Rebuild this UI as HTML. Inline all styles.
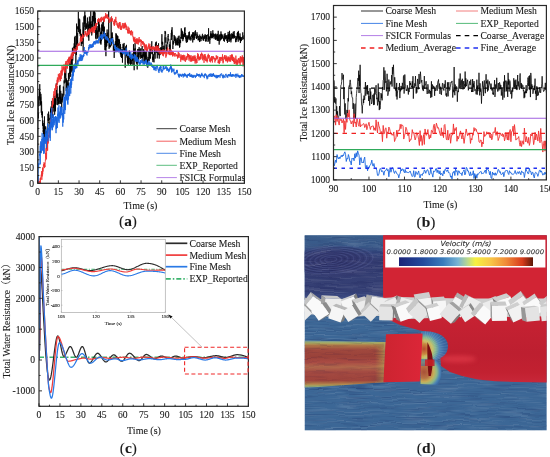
<!DOCTYPE html>
<html><head><meta charset="utf-8"><title>Figure</title><style>
html,body{margin:0;padding:0;background:#fff;}
svg{display:block;}
text{font-family:'Liberation Serif','Noto Serif CJK SC',serif;fill:#1a1a1a;stroke:#1a1a1a;stroke-width:0.1px;}
.tl{font-size:9.6px;}
.al{font-size:10px;}
.lg{font-size:10px;}
.pl{font-size:15.4px;}
.ti{font-size:5px;fill:#222;}
.vt{font-family:'DejaVu Sans','Liberation Sans',sans-serif;font-style:italic;font-size:7px;fill:#333;}
.vn{font-family:"DejaVu Sans","Liberation Sans",sans-serif;font-style:italic;font-size:6.3px;fill:#444;}
</style></head>
<body><svg width="550" height="457" viewBox="0 0 550 457">
<rect width="550" height="457" fill="#fff"/>
<defs><clipPath id="aclip"><rect x="37.7" y="11.05" width="206.7" height="172.25"/></clipPath><clipPath id="bclip"><rect x="333.5" y="5.5" width="212.9" height="174.4"/></clipPath></defs>
<g id="pa">
<g clip-path="url(#aclip)">
<polyline points="37.70,183.30 37.84,152.52 37.98,137.60 38.11,116.82 38.25,112.82 38.39,118.34 38.53,107.22 38.66,96.43 38.80,106.13 38.94,104.15 39.08,95.79 39.22,92.20 39.35,89.81 39.49,98.20 39.63,92.02 39.77,84.16 39.90,100.32 40.04,92.03 40.18,103.54 40.32,102.30 40.46,105.16 40.59,97.43 40.73,103.69 40.87,93.86 41.01,95.99 41.15,96.72 41.28,112.70 41.42,107.65 41.56,101.37 41.70,104.76 41.83,114.99 41.97,112.15 42.11,117.58 42.25,116.56 42.39,111.39 42.52,125.77 42.66,124.14 42.80,120.46 42.94,128.30 43.07,128.12 43.21,132.18 43.35,130.00 43.49,139.43 43.63,128.90 43.76,123.06 43.90,141.74 44.04,125.33 44.18,128.72 44.31,131.10 44.45,116.40 44.59,126.59 44.73,137.25 44.87,130.29 45.00,127.70 45.14,133.18 45.28,133.10 45.42,138.40 45.55,131.81 45.69,126.31 45.83,140.16 45.97,137.42 46.11,141.05 46.24,140.10 46.38,149.14 46.52,143.61 46.66,144.83 46.79,136.93 46.93,130.96 47.07,142.07 47.21,138.92 47.35,127.47 47.48,139.99 47.62,129.75 47.76,125.48 47.90,113.69 48.04,115.06 48.17,120.64 48.31,119.24 48.45,120.76 48.59,111.63 48.72,122.73 48.86,121.96 49.00,122.97 49.14,126.35 49.28,125.60 49.41,130.89 49.55,126.21 49.69,125.75 49.83,117.88 49.96,120.09 50.10,118.45 50.24,114.60 50.38,119.82 50.52,109.17 50.65,112.53 50.79,108.44 50.93,117.75 51.07,106.57 51.20,118.66 51.34,121.94 51.48,111.30 51.62,115.56 51.76,112.47 51.89,100.88 52.03,116.51 52.17,117.88 52.31,112.31 52.44,109.46 52.58,114.25 52.72,115.45 52.86,104.73 53.00,103.84 53.13,111.62 53.27,104.65 53.41,103.84 53.55,108.01 53.68,99.73 53.82,105.51 53.96,95.65 54.10,98.68 54.24,98.66 54.37,102.11 54.51,103.05 54.65,114.75 54.79,109.60 54.92,98.12 55.06,110.84 55.20,95.44 55.34,111.40 55.48,96.58 55.61,103.94 55.75,96.15 55.89,95.97 56.03,104.84 56.17,86.02 56.30,83.24 56.44,89.72 56.58,95.58 56.72,94.37 56.85,97.97 56.99,86.04 57.13,97.47 57.27,94.29 57.41,98.89 57.54,101.17 57.68,105.13 57.82,93.45 57.96,100.72 58.09,96.99 58.23,101.24 58.37,104.29 58.51,101.80 58.65,103.03 58.78,97.61 58.92,101.79 59.06,100.72 59.20,104.14 59.33,101.93 59.47,86.08 59.61,97.82 59.75,98.56 59.89,88.52 60.02,84.90 60.16,102.59 60.30,96.89 60.44,98.70 60.57,103.84 60.71,90.82 60.85,96.11 60.99,96.81 61.13,102.37 61.26,98.71 61.40,104.07 61.54,103.32 61.68,107.82 61.81,107.67 61.95,93.42 62.09,102.49 62.23,96.76 62.37,96.81 62.50,100.20 62.64,98.52 62.78,94.12 62.92,96.34 63.06,97.14 63.19,93.77 63.33,86.50 63.47,88.12 63.61,87.67 63.74,91.06 63.88,95.49 64.02,82.24 64.16,80.41 64.30,83.35 64.43,76.62 64.57,75.85 64.71,70.73 64.85,71.45 64.98,77.74 65.12,67.29 65.26,82.46 65.40,71.34 65.54,75.13 65.67,73.32 65.81,67.40 65.95,70.39 66.09,88.45 66.22,90.96 66.36,78.49 66.50,88.99 66.64,83.38 66.78,80.48 66.91,91.88 67.05,95.87 67.19,80.23 67.33,84.29 67.46,85.01 67.60,83.85 67.74,84.22 67.88,88.36 68.02,82.65 68.15,82.54 68.29,86.91 68.43,73.15 68.57,77.00 68.70,74.69 68.84,81.20 68.98,74.44 69.12,77.71 69.26,78.73 69.39,72.25 69.53,74.07 69.67,65.61 69.81,66.49 69.95,57.12 70.08,73.63 70.22,62.55 70.36,67.54 70.50,66.80 70.63,76.79 70.77,67.11 70.91,57.85 71.05,63.90 71.19,62.82 71.32,62.86 71.46,55.57 71.60,61.54 71.74,71.58 71.87,59.49 72.01,64.33 72.15,72.68 72.29,55.50 72.43,47.77 72.56,55.23 72.70,60.47 72.84,60.50 72.98,50.87 73.11,55.65 73.25,52.36 73.39,51.66 73.53,54.23 73.67,48.27 73.80,46.63 73.94,48.34 74.08,52.96 74.22,43.34 74.35,49.54 74.49,37.28 74.63,50.62 74.77,46.88 74.91,45.59 75.04,53.87 75.18,35.85 75.32,39.11 75.46,51.60 75.59,46.79 75.73,50.20 75.87,64.15 76.01,50.50 76.15,51.89 76.28,50.83 76.42,54.98 76.56,23.61 76.70,48.96 76.84,42.98 76.97,42.71 77.11,43.40 77.25,33.08 77.39,42.75 77.52,40.04 77.66,44.60 77.80,26.54 77.94,29.06 78.08,26.37 78.21,29.51 78.35,11.88 78.49,27.62 78.63,32.03 78.76,30.44 78.90,26.40 79.04,18.53 79.18,26.41 79.32,27.99 79.45,33.55 79.59,31.31 79.73,19.46 79.87,24.88 80.00,27.47 80.14,31.85 80.28,36.18 80.42,32.13 80.56,29.39 80.69,39.13 80.83,37.71 80.97,39.14 81.11,36.15 81.24,46.08 81.38,42.18 81.52,43.82 81.66,34.09 81.80,43.78 81.93,38.53 82.07,33.81 82.21,43.63 82.35,43.65 82.48,38.80 82.62,37.81 82.76,41.19 82.90,31.88 83.04,22.47 83.17,52.18 83.31,34.52 83.45,37.53 83.59,26.98 83.73,33.45 83.86,31.50 84.00,16.51 84.14,26.94 84.28,17.21 84.41,15.64 84.55,23.91 84.69,21.57 84.83,11.38 84.97,24.55 85.10,24.60 85.24,30.11 85.38,21.41 85.52,15.53 85.65,19.60 85.79,27.65 85.93,28.18 86.07,28.49 86.21,25.50 86.34,28.72 86.48,24.86 86.62,23.36 86.76,27.44 86.89,27.19 87.03,26.65 87.17,27.03 87.31,21.10 87.45,17.54 87.58,22.88 87.72,23.44 87.86,32.84 88.00,21.50 88.13,36.85 88.27,37.36 88.41,25.89 88.55,24.48 88.69,29.91 88.82,40.67 88.96,34.02 89.10,34.21 89.24,26.68 89.38,16.62 89.51,26.49 89.65,30.46 89.79,32.37 89.93,23.37 90.06,24.83 90.20,30.54 90.34,21.71 90.48,26.24 90.62,16.54 90.75,11.05 90.89,18.12 91.03,29.29 91.17,24.00 91.30,28.44 91.44,30.12 91.58,29.83 91.72,35.46 91.86,33.38 91.99,21.30 92.13,25.89 92.27,23.52 92.41,15.95 92.54,30.15 92.68,23.99 92.82,17.77 92.96,16.04 93.10,17.25 93.23,11.05 93.37,11.05 93.51,21.40 93.65,20.69 93.78,13.50 93.92,12.62 94.06,28.30 94.20,11.76 94.34,14.39 94.47,11.05 94.61,20.36 94.75,22.41 94.89,28.74 95.02,12.41 95.16,25.60 95.30,17.94 95.44,29.27 95.58,28.17 95.71,38.43 95.85,31.00 95.99,23.16 96.13,39.31 96.27,25.92 96.40,29.96 96.54,34.68 96.68,33.45 96.82,33.40 96.95,32.32 97.09,33.06 97.23,34.02 97.37,30.59 97.51,34.68 97.64,38.59 97.78,31.70 97.92,25.96 98.06,37.68 98.19,30.68 98.33,31.51 98.47,31.44 98.61,22.06 98.75,31.37 98.88,18.94 99.02,28.75 99.16,24.30 99.30,28.90 99.43,30.49 99.57,25.10 99.71,31.68 99.85,27.62 99.99,34.32 100.12,43.27 100.26,35.51 100.40,34.73 100.54,32.40 100.67,43.39 100.81,36.87 100.95,44.64 101.09,31.46 101.23,41.12 101.36,40.42 101.50,30.60 101.64,24.42 101.78,36.62 101.91,34.78 102.05,31.51 102.19,31.03 102.33,22.27 102.47,30.51 102.60,29.87 102.74,25.07 102.88,30.71 103.02,26.89 103.16,31.51 103.29,31.24 103.43,37.58 103.57,20.38 103.71,32.43 103.84,33.96 103.98,38.69 104.12,37.61 104.26,37.74 104.40,26.63 104.53,43.77 104.67,45.74 104.81,47.60 104.95,50.28 105.08,38.58 105.22,38.51 105.36,47.16 105.50,50.02 105.64,43.60 105.77,33.07 105.91,56.16 106.05,38.23 106.19,47.02 106.32,35.35 106.46,44.20 106.60,39.13 106.74,46.14 106.88,43.85 107.01,31.16 107.15,29.52 107.29,35.48 107.43,37.28 107.56,43.06 107.70,35.94 107.84,32.57 107.98,34.20 108.12,38.07 108.25,42.55 108.39,32.79 108.53,32.89 108.67,11.05 108.80,28.38 108.94,40.29 109.08,48.81 109.22,43.25 109.36,45.70 109.49,47.18 109.63,41.32 109.77,44.20 109.91,38.10 110.04,43.65 110.18,41.75 110.32,43.27 110.46,46.17 110.60,47.28 110.73,40.95 110.87,41.48 111.01,36.52 111.15,17.29 111.29,45.55 111.42,37.73 111.56,42.07 111.70,38.58 111.84,32.90 111.97,42.59 112.11,32.33 112.25,33.32 112.39,34.91 112.53,38.07 112.66,37.09 112.80,42.46 112.94,39.65 113.08,42.46 113.21,42.36 113.35,50.93 113.49,46.12 113.63,47.85 113.77,48.94 113.90,48.62 114.04,44.03 114.18,57.93 114.32,51.03 114.45,48.67 114.59,50.52 114.73,47.38 114.87,51.00 115.01,47.89 115.14,45.12 115.28,42.34 115.42,41.31 115.56,51.65 115.69,40.74 115.83,34.69 115.97,33.18 116.11,37.07 116.25,45.13 116.38,34.17 116.52,42.50 116.66,51.04 116.80,36.08 116.94,50.23 117.07,52.09 117.21,47.85 117.35,35.47 117.49,45.71 117.62,43.26 117.76,38.31 117.90,36.20 118.04,45.46 118.18,43.11 118.31,50.40 118.45,47.29 118.59,39.04 118.73,39.21 118.86,41.84 119.00,38.86 119.14,48.75 119.28,44.05 119.42,40.14 119.55,43.23 119.69,42.10 119.83,47.03 119.97,50.51 120.10,46.33 120.24,52.47 120.38,54.35 120.52,44.09 120.66,48.35 120.79,47.14 120.93,56.76 121.07,51.96 121.21,53.55 121.34,52.67 121.48,57.91 121.62,53.42 121.76,49.02 121.90,53.28 122.03,57.50 122.17,51.73 122.31,49.33 122.45,62.67 122.58,52.61 122.72,49.67 122.86,48.10 123.00,43.82 123.14,48.01 123.27,47.11 123.41,48.22 123.55,44.54 123.69,50.07 123.83,49.88 123.96,46.45 124.10,42.95 124.24,52.07 124.38,52.10 124.51,50.66 124.65,48.61 124.79,52.93 124.93,47.77 125.07,56.46 125.20,67.74 125.34,52.90 125.48,49.14 125.62,46.35 125.75,55.74 125.89,51.09 126.03,47.87 126.17,51.94 126.31,54.55 126.44,44.83 126.58,48.76 126.72,51.31 126.86,56.25 126.99,52.38 127.13,57.69 127.27,54.63 127.41,62.03 127.55,63.33 127.68,57.32 127.82,63.06 127.96,57.94 128.10,60.52 128.23,64.95 128.37,58.98 128.51,60.51 128.65,56.07 128.79,63.18 128.92,61.81 129.06,56.35 129.20,50.56 129.34,50.66 129.47,58.18 129.61,58.40 129.75,53.33 129.89,61.26 130.03,64.01 130.16,60.15 130.30,57.31 130.44,62.89 130.58,65.22 130.72,63.12 130.85,57.16 130.99,63.93 131.13,61.92 131.27,57.97 131.40,55.94 131.54,59.25 131.68,58.02 131.82,64.30 131.96,61.75 132.09,61.22 132.23,53.60 132.37,58.75 132.51,60.69 132.64,59.90 132.78,58.85 132.92,56.25 133.06,65.18 133.20,59.84 133.33,57.71 133.47,44.20 133.61,50.69 133.75,58.17 133.88,53.71 134.02,48.39 134.16,70.23 134.30,56.71 134.44,49.40 134.57,54.11 134.71,51.22 134.85,55.60 134.99,42.95 135.12,43.18 135.26,49.52 135.40,48.59 135.54,60.41 135.68,51.25 135.81,53.75 135.95,52.49 136.09,52.34 136.23,56.30 136.36,63.34 136.50,57.36 136.64,63.48 136.78,63.61 136.92,61.37 137.05,61.42 137.19,69.46 137.33,55.67 137.47,59.25 137.61,52.90 137.74,48.98 137.88,55.52 138.02,63.00 138.16,58.40 138.29,59.84 138.43,54.84 138.57,53.00 138.71,59.91 138.85,48.93 138.98,54.65 139.12,47.15 139.26,51.93 139.40,51.86 139.53,50.55 139.67,52.72 139.81,53.96 139.95,57.45 140.09,53.41 140.22,49.08 140.36,49.56 140.50,51.32 140.64,52.50 140.77,58.82 140.91,48.24 141.05,55.82 141.19,55.55 141.33,55.35 141.46,55.03 141.60,57.86 141.74,55.38 141.88,57.98 142.01,55.32 142.15,46.03 142.29,57.43 142.43,57.70 142.57,55.89 142.70,54.97 142.84,61.84 142.98,58.76 143.12,53.96 143.25,55.87 143.39,55.77 143.53,49.23 143.67,55.49 143.81,54.64 143.94,57.09 144.08,50.74 144.22,63.87 144.36,59.05 144.50,59.14 144.63,53.55 144.77,52.91 144.91,50.63 145.05,61.47 145.18,52.14 145.32,58.03 145.46,56.90 145.60,52.60 145.74,56.64 145.87,61.47 146.01,55.25 146.15,59.42 146.29,57.71 146.42,53.77 146.56,52.63 146.70,49.04 146.84,57.45 146.98,65.66 147.11,63.42 147.25,65.20 147.39,67.22 147.53,59.52 147.66,62.55 147.80,67.63 147.94,56.82 148.08,60.18 148.22,59.08 148.35,60.61 148.49,58.93 148.63,56.23 148.77,51.74 148.90,51.89 149.04,52.46 149.18,53.41 149.32,60.89 149.46,55.07 149.59,54.36 149.73,52.16 149.87,58.17 150.01,46.99 150.14,50.11 150.28,56.52 150.42,58.62 150.56,52.66 150.70,50.53 150.83,52.39 150.97,49.51 151.11,50.31 151.25,46.20 151.38,50.64 151.52,47.50 151.66,44.26 151.80,41.25 151.94,53.96 152.07,51.17 152.21,54.25 152.35,50.39 152.49,59.58 152.63,56.97 152.76,59.06 152.90,62.05 153.04,61.30 153.18,56.42 153.31,60.12 153.45,56.86 153.59,54.25 153.73,55.99 153.87,57.54 154.00,62.40 154.14,55.03 154.28,49.33 154.42,48.11 154.55,51.11 154.69,54.56 154.83,50.26 154.97,56.67 155.11,58.67 155.24,57.78 155.38,44.26 155.52,46.85 155.66,42.38 155.79,50.58 155.93,45.73 156.07,52.20 156.21,50.64 156.35,41.63 156.48,48.82 156.62,52.71 156.76,49.75 156.90,46.48 157.03,45.05 157.17,52.63 157.31,58.34 157.45,50.82 157.59,50.08 157.72,49.10 157.86,45.04 158.00,49.92 158.14,47.60 158.28,55.18 158.41,48.04 158.55,43.27 158.69,49.38 158.83,52.02 158.96,52.36 159.10,48.00 159.24,58.60 159.38,55.12 159.52,52.85 159.65,49.89 159.79,55.22 159.93,51.19 160.07,54.51 160.20,53.52 160.34,51.99 160.48,54.14 160.62,50.31 160.76,47.58 160.89,51.98 161.03,49.95 161.17,47.06 161.31,53.27 161.44,48.47 161.58,50.11 161.72,37.83 161.86,34.20 162.00,35.32 162.13,44.13 162.27,41.73 162.41,44.28 162.55,44.62 162.68,42.35 162.82,51.55 162.96,45.82 163.10,49.85 163.24,48.11 163.37,51.55 163.51,51.55 163.65,51.55 163.79,50.06 163.92,49.88 164.06,45.76 164.20,48.28 164.34,50.25 164.48,37.90 164.61,36.34 164.75,36.13 164.89,34.80 165.03,30.95 165.17,33.38 165.30,33.81 165.44,33.23 165.58,31.69 165.72,42.64 165.85,37.36 165.99,46.26 166.13,49.54 166.27,44.56 166.41,51.55 166.54,51.55 166.68,51.55 166.82,49.76 166.96,47.46 167.09,50.31 167.23,47.24 167.37,42.22 167.51,43.65 167.65,37.79 167.78,36.60 167.92,37.03 168.06,35.05 168.20,34.01 168.33,35.18 168.47,37.37 168.61,40.40 168.75,39.21 168.89,41.60 169.02,42.04 169.16,42.04 169.30,47.02 169.44,44.49 169.57,51.55 169.71,50.11 169.85,51.55 169.99,45.13 170.13,44.69 170.26,51.55 170.40,48.22 170.54,41.87 170.68,40.18 170.81,38.60 170.95,37.74 171.09,34.48 171.23,33.19 171.37,34.44 171.50,29.87 171.64,39.91 171.78,31.72 171.92,36.70 172.06,27.23 172.19,36.73 172.33,39.87 172.47,40.14 172.61,44.81 172.74,45.81 172.88,49.04 173.02,45.49 173.16,45.24 173.30,42.50 173.43,44.41 173.57,41.07 173.71,42.79 173.85,43.01 173.98,38.25 174.12,34.97 174.26,41.10 174.40,39.37 174.54,37.53 174.67,36.56 174.81,40.33 174.95,36.31 175.09,40.58 175.22,39.02 175.36,43.46 175.50,41.27 175.64,42.67 175.78,45.53 175.91,37.67 176.05,42.68 176.19,39.25 176.33,42.06 176.46,44.84 176.60,44.47 176.74,43.64 176.88,40.84 177.02,40.80 177.15,40.86 177.29,45.32 177.43,40.18 177.57,45.13 177.70,37.97 177.84,40.58 177.98,39.60 178.12,37.69 178.26,36.38 178.39,40.10 178.53,42.68 178.67,42.01 178.81,45.46 178.94,44.38 179.08,35.64 179.22,43.74 179.36,39.49 179.50,47.57 179.63,43.56 179.77,47.15 179.91,45.44 180.05,43.27 180.19,39.94 180.32,42.20 180.46,40.50 180.60,43.19 180.74,37.19 180.87,38.49 181.01,34.26 181.15,34.02 181.29,28.34 181.43,38.47 181.56,34.04 181.70,29.83 181.84,32.29 181.98,35.26 182.11,34.60 182.25,39.14 182.39,37.71 182.53,31.27 182.67,35.06 182.80,41.13 182.94,40.43 183.08,39.65 183.22,33.86 183.35,39.13 183.49,39.02 183.63,35.16 183.77,34.71 183.91,35.94 184.04,36.02 184.18,35.72 184.32,31.86 184.46,37.00 184.59,28.26 184.73,31.53 184.87,29.51 185.01,27.23 185.15,32.42 185.28,37.47 185.42,32.94 185.56,32.83 185.70,38.08 185.83,38.78 185.97,37.66 186.11,41.48 186.25,35.37 186.39,42.81 186.52,40.30 186.66,38.79 186.80,38.64 186.94,37.25 187.08,37.49 187.21,38.54 187.35,35.44 187.49,42.17 187.63,37.78 187.76,39.15 187.90,36.77 188.04,36.78 188.18,38.60 188.32,38.27 188.45,35.34 188.59,36.42 188.73,37.97 188.87,32.56 189.00,32.00 189.14,40.15 189.28,36.60 189.42,31.60 189.56,35.48 189.69,37.09 189.83,37.98 189.97,38.91 190.11,38.35 190.24,38.96 190.38,36.42 190.52,38.13 190.66,38.60 190.80,40.58 190.93,37.78 191.07,39.48 191.21,37.39 191.35,34.54 191.48,36.31 191.62,35.38 191.76,35.92 191.90,37.09 192.04,36.81 192.17,37.40 192.31,34.62 192.45,37.87 192.59,32.35 192.72,42.44 192.86,37.03 193.00,36.96 193.14,37.50 193.28,35.57 193.41,36.73 193.55,32.27 193.69,36.98 193.83,40.14 193.97,37.32 194.10,39.71 194.24,35.93 194.38,33.57 194.52,34.67 194.65,38.22 194.79,36.47 194.93,31.36 195.07,35.17 195.21,35.83 195.34,33.06 195.48,30.35 195.62,32.60 195.76,35.20 195.89,34.66 196.03,34.08 196.17,37.22 196.31,38.31 196.45,36.48 196.58,39.02 196.72,36.67 196.86,36.58 197.00,32.29 197.13,37.89 197.27,36.11 197.41,36.24 197.55,35.52 197.69,34.62 197.82,37.67 197.96,38.65 198.10,40.34 198.24,38.80 198.37,35.96 198.51,37.19 198.65,40.05 198.79,40.01 198.93,39.26 199.06,38.46 199.20,40.20 199.34,38.99 199.48,42.06 199.62,40.32 199.75,34.64 199.89,41.73 200.03,37.46 200.17,36.07 200.30,37.24 200.44,37.64 200.58,36.75 200.72,36.88 200.86,37.12 200.99,41.14 201.13,37.58 201.27,38.97 201.41,38.21 201.54,37.17 201.68,36.80 201.82,36.44 201.96,38.88 202.10,36.31 202.23,34.70 202.37,34.72 202.51,33.84 202.65,37.38 202.78,37.12 202.92,35.65 203.06,40.32 203.20,37.06 203.34,38.27 203.47,38.05 203.61,40.71 203.75,38.88 203.89,37.57 204.02,35.39 204.16,35.58 204.30,38.02 204.44,37.96 204.58,38.79 204.71,35.95 204.85,37.65 204.99,36.55 205.13,34.18 205.26,38.09 205.40,41.02 205.54,40.05 205.68,41.56 205.82,40.73 205.95,35.09 206.09,37.97 206.23,41.39 206.37,36.60 206.50,35.02 206.64,38.09 206.78,38.80 206.92,38.59 207.06,37.33 207.19,36.33 207.33,34.94 207.47,35.17 207.61,35.06 207.75,34.46 207.88,36.61 208.02,41.94 208.16,39.18 208.30,38.35 208.43,39.54 208.57,28.23 208.71,39.46 208.85,40.89 208.99,36.08 209.12,37.83 209.26,39.01 209.40,37.46 209.54,36.94 209.67,38.12 209.81,43.80 209.95,39.26 210.09,38.81 210.23,39.50 210.36,36.27 210.50,33.44 210.64,37.15 210.78,37.96 210.91,31.13 211.05,36.53 211.19,38.16 211.33,34.62 211.47,34.22 211.60,37.18 211.74,33.49 211.88,36.70 212.02,38.31 212.15,36.22 212.29,34.54 212.43,37.74 212.57,36.06 212.71,36.56 212.84,30.27 212.98,37.31 213.12,33.31 213.26,36.20 213.39,36.80 213.53,35.28 213.67,34.83 213.81,33.95 213.95,36.25 214.08,38.71 214.22,38.02 214.36,35.86 214.50,35.56 214.64,34.59 214.77,36.30 214.91,34.72 215.05,33.88 215.19,36.46 215.32,39.46 215.46,38.69 215.60,39.43 215.74,33.64 215.88,39.40 216.01,35.64 216.15,37.31 216.29,34.55 216.43,36.06 216.56,38.87 216.70,38.84 216.84,38.30 216.98,38.37 217.12,40.48 217.25,38.33 217.39,33.91 217.53,40.65 217.67,36.55 217.80,39.07 217.94,37.44 218.08,36.25 218.22,30.82 218.36,36.18 218.49,40.96 218.63,35.55 218.77,39.32 218.91,37.87 219.04,39.05 219.18,44.64 219.32,40.21 219.46,38.22 219.60,34.66 219.73,37.02 219.87,36.87 220.01,41.19 220.15,35.50 220.28,34.27 220.42,37.20 220.56,37.31 220.70,40.00 220.84,34.83 220.97,31.46 221.11,35.62 221.25,34.50 221.39,35.98 221.53,39.24 221.66,33.90 221.80,38.74 221.94,36.72 222.08,36.34 222.21,34.64 222.35,35.76 222.49,35.70 222.63,37.57 222.77,38.18 222.90,35.67 223.04,37.22 223.18,38.71 223.32,38.71 223.45,37.91 223.59,40.49 223.73,39.74 223.87,40.64 224.01,37.16 224.14,36.98 224.28,34.12 224.42,41.66 224.56,39.74 224.69,36.06 224.83,38.01 224.97,37.80 225.11,33.07 225.25,37.49 225.38,38.60 225.52,39.27 225.66,35.60 225.80,35.40 225.93,38.79 226.07,37.95 226.21,35.10 226.35,35.73 226.49,38.17 226.62,36.27 226.76,36.38 226.90,41.05 227.04,38.81 227.18,37.36 227.31,39.19 227.45,42.92 227.59,38.35 227.73,37.05 227.86,34.76 228.00,41.97 228.14,31.89 228.28,39.27 228.42,34.64 228.55,34.77 228.69,34.27 228.83,36.14 228.97,39.15 229.10,34.65 229.24,38.53 229.38,41.66 229.52,30.85 229.66,36.12 229.79,33.73 229.93,39.26 230.07,34.84 230.21,34.33 230.34,34.87 230.48,38.02 230.62,40.39 230.76,38.74 230.90,42.37 231.03,41.42 231.17,37.44 231.31,39.32 231.45,37.69 231.58,37.82 231.72,33.27 231.86,34.91 232.00,37.32 232.14,34.25 232.27,37.81 232.41,36.30 232.55,33.91 232.69,38.26 232.82,36.42 232.96,38.59 233.10,35.41 233.24,31.82 233.38,36.89 233.51,34.71 233.65,36.83 233.79,37.54 233.93,38.40 234.06,32.81 234.20,31.10 234.34,35.04 234.48,37.79 234.62,35.38 234.75,37.72 234.89,35.97 235.03,36.96 235.17,37.00 235.31,36.50 235.44,39.09 235.58,38.65 235.72,42.23 235.86,39.47 235.99,41.86 236.13,38.97 236.27,39.99 236.41,38.04 236.55,36.36 236.68,39.96 236.82,38.30 236.96,38.74 237.10,35.25 237.23,32.97 237.37,33.95 237.51,36.81 237.65,32.29 237.79,38.45 237.92,31.99 238.06,36.35 238.20,41.73 238.34,30.88 238.47,32.77 238.61,38.18 238.75,36.03 238.89,37.01 239.03,36.77 239.16,40.23 239.30,39.53 239.44,37.74 239.58,38.45 239.71,36.56 239.85,38.61 239.99,33.45 240.13,40.20 240.27,38.84 240.40,43.06 240.54,42.02 240.68,36.88 240.82,41.24 240.95,37.54 241.09,38.39 241.23,40.94 241.37,39.61 241.51,39.30 241.64,39.64 241.78,37.70 241.92,37.23 242.06,39.54 242.20,39.85 242.33,37.33 242.47,37.69 242.61,35.52 242.75,32.37 242.88,35.91 243.02,37.64 243.16,38.30 243.30,39.24 243.44,38.87 243.57,38.88 243.71,37.76 243.85,37.70 243.99,35.34 244.12,38.46 244.26,37.59 244.40,39.80" fill="none" stroke="#000" stroke-width="0.8"/>
<polyline points="37.70,183.30 37.84,183.30 37.98,183.30 38.11,183.02 38.25,181.78 38.39,183.30 38.53,182.21 38.66,182.29 38.80,181.29 38.94,182.01 39.08,181.48 39.22,182.70 39.35,181.42 39.49,182.16 39.63,182.33 39.77,181.69 39.90,181.10 40.04,182.38 40.18,178.35 40.32,181.43 40.46,183.30 40.59,177.69 40.73,179.62 40.87,176.88 41.01,176.51 41.15,175.46 41.28,174.63 41.42,176.20 41.56,174.92 41.70,171.05 41.83,179.80 41.97,173.32 42.11,172.81 42.25,175.26 42.39,176.33 42.52,167.55 42.66,174.23 42.80,168.19 42.94,171.56 43.07,171.01 43.21,169.29 43.35,166.71 43.49,164.32 43.63,165.60 43.76,165.74 43.90,166.76 44.04,162.28 44.18,162.98 44.31,168.12 44.45,165.07 44.59,163.09 44.73,166.36 44.87,165.73 45.00,167.10 45.14,164.53 45.28,162.07 45.42,159.58 45.55,160.32 45.69,152.95 45.83,158.55 45.97,148.51 46.11,154.32 46.24,153.44 46.38,154.75 46.52,159.39 46.66,151.20 46.79,149.15 46.93,142.21 47.07,150.79 47.21,140.47 47.35,146.12 47.48,142.74 47.62,150.48 47.76,141.52 47.90,142.46 48.04,137.73 48.17,140.40 48.31,143.46 48.45,135.11 48.59,135.78 48.72,136.47 48.86,133.10 49.00,131.38 49.14,134.10 49.28,137.05 49.41,137.11 49.55,128.29 49.69,130.27 49.83,130.40 49.96,131.39 50.10,129.99 50.24,129.19 50.38,128.20 50.52,128.97 50.65,118.89 50.79,123.27 50.93,125.87 51.07,127.03 51.20,123.48 51.34,116.94 51.48,114.92 51.62,116.30 51.76,113.39 51.89,113.21 52.03,113.78 52.17,105.24 52.31,106.71 52.44,98.32 52.58,106.27 52.72,102.11 52.86,98.09 53.00,101.80 53.13,104.54 53.27,99.97 53.41,96.27 53.55,94.23 53.68,96.05 53.82,91.29 53.96,92.02 54.10,94.22 54.24,94.15 54.37,95.21 54.51,90.73 54.65,88.35 54.79,91.23 54.92,91.92 55.06,94.73 55.20,98.20 55.34,95.54 55.48,89.78 55.61,89.05 55.75,84.60 55.89,89.32 56.03,85.62 56.17,85.41 56.30,86.55 56.44,89.91 56.58,87.22 56.72,85.40 56.85,87.80 56.99,82.48 57.13,79.80 57.27,84.89 57.41,77.43 57.54,83.43 57.68,82.31 57.82,81.67 57.96,82.34 58.09,79.45 58.23,79.69 58.37,73.88 58.51,76.59 58.65,77.31 58.78,79.61 58.92,81.72 59.06,77.71 59.20,79.64 59.33,75.16 59.47,77.70 59.61,73.23 59.75,76.17 59.89,77.04 60.02,79.19 60.16,78.55 60.30,76.29 60.44,75.76 60.57,81.16 60.71,76.26 60.85,70.64 60.99,78.65 61.13,78.04 61.26,78.01 61.40,78.77 61.54,70.30 61.68,73.43 61.81,72.86 61.95,68.01 62.09,65.92 62.23,75.46 62.37,70.37 62.50,70.87 62.64,69.82 62.78,69.35 62.92,71.34 63.06,67.17 63.19,69.86 63.33,69.42 63.47,66.69 63.61,67.71 63.74,69.29 63.88,69.57 64.02,64.35 64.16,66.93 64.30,69.52 64.43,72.23 64.57,69.66 64.71,71.29 64.85,67.73 64.98,67.18 65.12,73.21 65.26,66.39 65.40,63.04 65.54,64.02 65.67,67.45 65.81,61.22 65.95,66.97 66.09,68.49 66.22,67.85 66.36,65.14 66.50,61.38 66.64,60.83 66.78,63.66 66.91,67.91 67.05,66.35 67.19,66.12 67.33,64.02 67.46,68.64 67.60,62.49 67.74,59.53 67.88,61.74 68.02,59.54 68.15,64.08 68.29,65.85 68.43,63.29 68.57,58.24 68.70,57.71 68.84,63.05 68.98,57.74 69.12,61.50 69.26,56.64 69.39,60.17 69.53,63.14 69.67,59.34 69.81,62.69 69.95,63.30 70.08,63.89 70.22,59.72 70.36,60.71 70.50,59.68 70.63,60.27 70.77,55.68 70.91,59.03 71.05,59.32 71.19,54.60 71.32,53.67 71.46,55.95 71.60,58.74 71.74,57.28 71.87,54.25 72.01,55.42 72.15,52.56 72.29,58.97 72.43,53.78 72.56,55.99 72.70,52.15 72.84,53.69 72.98,51.01 73.11,53.92 73.25,55.74 73.39,53.91 73.53,52.91 73.67,53.99 73.80,48.86 73.94,48.19 74.08,49.86 74.22,52.50 74.35,51.25 74.49,52.60 74.63,49.17 74.77,50.87 74.91,50.42 75.04,52.00 75.18,53.31 75.32,51.18 75.46,51.49 75.59,49.09 75.73,50.52 75.87,50.97 76.01,50.12 76.15,47.03 76.28,50.67 76.42,50.66 76.56,49.06 76.70,49.25 76.84,49.38 76.97,46.48 77.11,44.74 77.25,49.92 77.39,46.88 77.52,47.42 77.66,46.09 77.80,45.43 77.94,45.60 78.08,43.40 78.21,45.47 78.35,45.35 78.49,44.86 78.63,45.42 78.76,45.86 78.90,43.66 79.04,44.82 79.18,44.39 79.32,44.10 79.45,45.34 79.59,44.42 79.73,44.29 79.87,42.08 80.00,42.32 80.14,42.07 80.28,38.83 80.42,37.97 80.56,41.31 80.69,35.54 80.83,39.03 80.97,40.35 81.11,38.65 81.24,40.25 81.38,41.38 81.52,36.80 81.66,41.50 81.80,40.46 81.93,39.20 82.07,41.22 82.21,39.47 82.35,38.91 82.48,33.64 82.62,38.09 82.76,36.77 82.90,35.71 83.04,36.42 83.17,38.26 83.31,35.80 83.45,35.46 83.59,35.10 83.73,34.88 83.86,35.14 84.00,35.17 84.14,35.89 84.28,36.69 84.41,34.98 84.55,34.54 84.69,34.67 84.83,33.86 84.97,35.44 85.10,32.20 85.24,31.14 85.38,34.25 85.52,32.51 85.65,33.78 85.79,30.98 85.93,32.90 86.07,32.94 86.21,34.25 86.34,34.38 86.48,36.59 86.62,33.96 86.76,35.81 86.89,33.57 87.03,34.16 87.17,32.89 87.31,34.35 87.45,32.11 87.58,35.54 87.72,33.24 87.86,32.59 88.00,31.35 88.13,31.90 88.27,30.21 88.41,34.85 88.55,31.53 88.69,34.02 88.82,29.52 88.96,34.39 89.10,33.11 89.24,33.61 89.38,28.48 89.51,33.33 89.65,31.09 89.79,31.31 89.93,33.44 90.06,30.92 90.20,29.58 90.34,31.64 90.48,29.47 90.62,31.33 90.75,30.99 90.89,31.68 91.03,30.48 91.17,28.08 91.30,30.37 91.44,30.68 91.58,31.27 91.72,31.62 91.86,27.35 91.99,31.41 92.13,31.88 92.27,30.04 92.41,30.46 92.54,26.91 92.68,33.24 92.82,29.36 92.96,28.65 93.10,31.81 93.23,31.44 93.37,29.62 93.51,27.81 93.65,30.47 93.78,31.23 93.92,26.95 94.06,26.11 94.20,29.29 94.34,33.01 94.47,26.30 94.61,28.70 94.75,25.93 94.89,27.65 95.02,28.16 95.16,27.80 95.30,25.07 95.44,23.97 95.58,29.90 95.71,28.57 95.85,23.20 95.99,25.53 96.13,27.53 96.27,24.68 96.40,24.54 96.54,23.64 96.68,23.65 96.82,24.01 96.95,23.85 97.09,23.37 97.23,24.41 97.37,22.22 97.51,22.13 97.64,19.40 97.78,20.35 97.92,21.60 98.06,20.03 98.19,20.57 98.33,19.15 98.47,19.93 98.61,17.97 98.75,18.11 98.88,20.78 99.02,21.68 99.16,19.77 99.30,20.12 99.43,21.34 99.57,23.00 99.71,23.13 99.85,19.52 99.99,19.60 100.12,19.05 100.26,21.75 100.40,18.40 100.54,19.96 100.67,18.09 100.81,17.59 100.95,19.69 101.09,19.19 101.23,21.56 101.36,20.25 101.50,21.42 101.64,17.20 101.78,17.82 101.91,16.78 102.05,17.27 102.19,19.65 102.33,18.57 102.47,20.01 102.60,18.38 102.74,18.63 102.88,20.48 103.02,19.23 103.16,18.99 103.29,19.48 103.43,18.05 103.57,16.73 103.71,20.29 103.84,18.96 103.98,21.75 104.12,18.47 104.26,18.88 104.40,21.49 104.53,17.80 104.67,16.53 104.81,18.72 104.95,18.03 105.08,17.98 105.22,15.80 105.36,18.26 105.50,16.87 105.64,13.03 105.77,16.09 105.91,15.26 106.05,16.02 106.19,17.77 106.32,15.86 106.46,15.14 106.60,17.71 106.74,16.05 106.88,14.09 107.01,14.60 107.15,18.65 107.29,17.71 107.43,17.88 107.56,14.66 107.70,15.72 107.84,15.78 107.98,18.96 108.12,19.13 108.25,17.01 108.39,17.47 108.53,19.37 108.67,17.97 108.80,17.67 108.94,18.80 109.08,21.15 109.22,23.00 109.36,19.85 109.49,18.84 109.63,19.38 109.77,20.54 109.91,21.50 110.04,19.32 110.18,20.34 110.32,20.49 110.46,21.95 110.60,20.84 110.73,19.40 110.87,20.82 111.01,21.76 111.15,19.98 111.29,18.09 111.42,18.84 111.56,16.21 111.70,18.62 111.84,19.13 111.97,20.80 112.11,20.01 112.25,18.06 112.39,20.35 112.53,19.28 112.66,19.32 112.80,21.11 112.94,21.52 113.08,22.06 113.21,21.35 113.35,22.35 113.49,22.50 113.63,22.90 113.77,24.52 113.90,23.30 114.04,23.80 114.18,21.58 114.32,26.01 114.45,23.61 114.59,19.51 114.73,23.10 114.87,24.77 115.01,21.93 115.14,19.69 115.28,21.63 115.42,19.87 115.56,21.31 115.69,22.42 115.83,16.84 115.97,22.01 116.11,22.14 116.25,22.29 116.38,20.99 116.52,21.39 116.66,21.37 116.80,22.42 116.94,25.37 117.07,22.74 117.21,24.36 117.35,24.02 117.49,26.39 117.62,25.37 117.76,26.43 117.90,25.79 118.04,27.88 118.18,25.75 118.31,25.64 118.45,27.95 118.59,26.44 118.73,26.70 118.86,22.82 119.00,28.72 119.14,24.99 119.28,26.58 119.42,24.34 119.55,22.04 119.69,24.98 119.83,24.00 119.97,25.99 120.10,22.17 120.24,24.72 120.38,24.97 120.52,29.76 120.66,29.13 120.79,26.05 120.93,28.10 121.07,28.64 121.21,28.07 121.34,30.02 121.48,26.97 121.62,27.49 121.76,26.11 121.90,27.40 122.03,25.48 122.17,26.21 122.31,23.29 122.45,23.42 122.58,23.41 122.72,23.48 122.86,23.65 123.00,28.44 123.14,23.04 123.27,25.25 123.41,25.13 123.55,26.51 123.69,28.32 123.83,28.45 123.96,26.57 124.10,24.89 124.24,27.53 124.38,28.31 124.51,24.29 124.65,27.54 124.79,22.90 124.93,25.44 125.07,27.12 125.20,23.75 125.34,22.76 125.48,27.22 125.62,23.97 125.75,27.14 125.89,24.63 126.03,28.14 126.17,29.86 126.31,26.86 126.44,26.87 126.58,25.75 126.72,26.20 126.86,27.73 126.99,29.25 127.13,29.83 127.27,29.17 127.41,30.98 127.55,30.62 127.68,33.37 127.82,29.93 127.96,30.65 128.10,26.63 128.23,29.13 128.37,31.09 128.51,30.30 128.65,33.12 128.79,32.01 128.92,33.79 129.06,27.76 129.20,29.11 129.34,32.59 129.47,31.42 129.61,30.39 129.75,30.96 129.89,31.43 130.03,33.55 130.16,33.37 130.30,32.07 130.44,30.87 130.58,34.13 130.72,35.25 130.85,31.57 130.99,34.70 131.13,31.02 131.27,31.99 131.40,31.63 131.54,30.31 131.68,32.11 131.82,32.17 131.96,35.31 132.09,35.54 132.23,33.49 132.37,32.33 132.51,33.09 132.64,31.53 132.78,36.36 132.92,37.01 133.06,36.56 133.20,38.49 133.33,39.04 133.47,40.41 133.61,36.92 133.75,40.52 133.88,38.37 134.02,41.54 134.16,38.67 134.30,42.08 134.44,38.25 134.57,42.36 134.71,40.32 134.85,36.91 134.99,39.90 135.12,39.28 135.26,40.97 135.40,43.44 135.54,39.69 135.68,39.58 135.81,41.77 135.95,39.30 136.09,41.68 136.23,42.38 136.36,40.94 136.50,43.29 136.64,38.36 136.78,43.66 136.92,40.00 137.05,39.57 137.19,44.07 137.33,43.08 137.47,39.46 137.61,41.20 137.74,39.55 137.88,38.33 138.02,40.44 138.16,41.42 138.29,44.55 138.43,40.04 138.57,41.45 138.71,39.23 138.85,39.58 138.98,42.81 139.12,37.06 139.26,38.68 139.40,39.30 139.53,41.96 139.67,40.85 139.81,41.00 139.95,40.67 140.09,41.81 140.22,39.37 140.36,40.24 140.50,39.98 140.64,41.53 140.77,39.71 140.91,41.17 141.05,46.31 141.19,43.15 141.33,41.81 141.46,39.95 141.60,41.67 141.74,42.25 141.88,42.91 142.01,41.07 142.15,43.00 142.29,42.71 142.43,43.24 142.57,41.00 142.70,42.34 142.84,44.54 142.98,41.85 143.12,44.46 143.25,43.45 143.39,42.85 143.53,41.72 143.67,42.29 143.81,45.10 143.94,45.26 144.08,47.17 144.22,43.19 144.36,45.31 144.50,43.91 144.63,46.98 144.77,50.15 144.91,44.21 145.05,47.34 145.18,48.08 145.32,47.27 145.46,45.78 145.60,46.44 145.74,49.94 145.87,45.22 146.01,48.28 146.15,48.25 146.29,44.39 146.42,45.37 146.56,48.45 146.70,51.27 146.84,48.18 146.98,47.82 147.11,49.35 147.25,51.31 147.39,50.02 147.53,50.71 147.66,48.08 147.80,47.19 147.94,46.61 148.08,49.28 148.22,46.88 148.35,45.51 148.49,46.89 148.63,46.82 148.77,43.46 148.90,45.96 149.04,45.18 149.18,47.68 149.32,46.57 149.46,49.19 149.59,46.37 149.73,45.37 149.87,43.82 150.01,45.70 150.14,46.83 150.28,48.07 150.42,48.48 150.56,47.63 150.70,46.56 150.83,49.18 150.97,46.74 151.11,50.23 151.25,51.31 151.38,50.08 151.52,51.99 151.66,51.45 151.80,47.15 151.94,49.05 152.07,48.57 152.21,46.67 152.35,46.44 152.49,49.17 152.63,46.82 152.76,48.18 152.90,49.12 153.04,48.06 153.18,50.17 153.31,49.08 153.45,47.52 153.59,46.33 153.73,48.60 153.87,49.14 154.00,47.79 154.14,47.51 154.28,47.95 154.42,46.97 154.55,49.41 154.69,49.23 154.83,48.72 154.97,50.18 155.11,50.74 155.24,47.21 155.38,50.17 155.52,51.05 155.66,48.00 155.79,45.87 155.93,48.67 156.07,47.06 156.21,50.65 156.35,50.89 156.48,50.60 156.62,48.85 156.76,45.33 156.90,50.83 157.03,46.25 157.17,50.61 157.31,49.94 157.45,47.82 157.59,49.04 157.72,49.08 157.86,51.85 158.00,48.25 158.14,51.10 158.28,45.79 158.41,51.20 158.55,49.98 158.69,52.26 158.83,51.08 158.96,52.23 159.10,48.52 159.24,49.61 159.38,48.92 159.52,51.21 159.65,51.23 159.79,49.09 159.93,52.59 160.07,54.33 160.20,50.51 160.34,53.42 160.48,53.30 160.62,50.80 160.76,53.31 160.89,50.89 161.03,53.90 161.17,50.17 161.31,50.83 161.44,53.30 161.58,53.34 161.72,54.10 161.86,52.47 162.00,50.60 162.13,54.21 162.27,50.13 162.41,54.65 162.55,54.32 162.68,55.65 162.82,49.60 162.96,52.51 163.10,52.71 163.24,53.81 163.37,50.52 163.51,56.26 163.65,52.94 163.79,49.46 163.92,54.29 164.06,52.90 164.20,51.46 164.34,53.64 164.48,52.21 164.61,50.27 164.75,51.73 164.89,52.04 165.03,53.38 165.17,52.72 165.30,52.49 165.44,50.55 165.58,51.61 165.72,53.78 165.85,57.69 165.99,52.51 166.13,52.37 166.27,55.85 166.41,56.25 166.54,54.49 166.68,51.47 166.82,54.09 166.96,53.06 167.09,51.12 167.23,48.88 167.37,51.04 167.51,50.72 167.65,51.20 167.78,47.46 167.92,48.25 168.06,51.98 168.20,54.44 168.33,52.51 168.47,51.09 168.61,53.81 168.75,51.38 168.89,52.72 169.02,52.02 169.16,52.37 169.30,53.03 169.44,55.10 169.57,54.74 169.71,49.20 169.85,54.53 169.99,53.45 170.13,50.05 170.26,52.89 170.40,54.18 170.54,55.16 170.68,52.62 170.81,51.26 170.95,49.62 171.09,52.34 171.23,50.54 171.37,54.07 171.50,52.79 171.64,54.86 171.78,53.66 171.92,51.60 172.06,50.99 172.19,55.15 172.33,51.24 172.47,54.15 172.61,56.35 172.74,54.48 172.88,56.21 173.02,54.14 173.16,53.49 173.30,53.65 173.43,51.89 173.57,53.71 173.71,53.00 173.85,55.41 173.98,53.33 174.12,54.92 174.26,54.05 174.40,53.71 174.54,53.54 174.67,56.38 174.81,56.58 174.95,54.94 175.09,53.89 175.22,54.15 175.36,53.31 175.50,53.03 175.64,54.28 175.78,54.96 175.91,56.29 176.05,56.30 176.19,55.55 176.33,54.85 176.46,54.71 176.60,55.05 176.74,56.16 176.88,54.64 177.02,55.52 177.15,54.66 177.29,54.79 177.43,56.62 177.57,58.58 177.70,55.52 177.84,55.60 177.98,56.72 178.12,56.77 178.26,51.92 178.39,57.04 178.53,55.57 178.67,55.24 178.81,57.82 178.94,54.84 179.08,52.83 179.22,53.56 179.36,54.63 179.50,54.78 179.63,55.64 179.77,54.50 179.91,57.26 180.05,57.86 180.19,57.84 180.32,56.52 180.46,57.15 180.60,57.40 180.74,61.73 180.87,56.48 181.01,54.44 181.15,55.99 181.29,58.33 181.43,59.52 181.56,57.30 181.70,59.25 181.84,55.81 181.98,57.43 182.11,55.50 182.25,55.06 182.39,60.19 182.53,55.65 182.67,57.36 182.80,58.81 182.94,57.87 183.08,57.42 183.22,55.19 183.35,59.88 183.49,55.78 183.63,54.79 183.77,57.30 183.91,56.55 184.04,58.45 184.18,60.88 184.32,58.61 184.46,59.09 184.59,58.37 184.73,55.17 184.87,58.97 185.01,59.33 185.15,57.38 185.28,61.99 185.42,61.70 185.56,60.33 185.70,60.81 185.83,58.92 185.97,60.11 186.11,56.47 186.25,56.64 186.39,57.76 186.52,59.44 186.66,57.48 186.80,56.48 186.94,59.78 187.08,56.74 187.21,56.15 187.35,56.67 187.49,53.43 187.63,53.92 187.76,57.48 187.90,55.93 188.04,56.73 188.18,54.03 188.32,57.02 188.45,54.28 188.59,55.52 188.73,54.72 188.87,57.28 189.00,60.57 189.14,54.91 189.28,59.10 189.42,56.22 189.56,57.95 189.69,57.92 189.83,55.27 189.97,57.78 190.11,55.91 190.24,61.55 190.38,57.60 190.52,59.25 190.66,59.08 190.80,58.89 190.93,57.75 191.07,55.23 191.21,61.81 191.35,58.69 191.48,60.88 191.62,57.71 191.76,61.02 191.90,58.98 192.04,59.78 192.17,57.78 192.31,56.34 192.45,59.28 192.59,57.99 192.72,61.16 192.86,57.61 193.00,56.60 193.14,59.27 193.28,55.70 193.41,60.98 193.55,60.56 193.69,60.07 193.83,58.47 193.97,57.79 194.10,57.49 194.24,58.08 194.38,56.35 194.52,59.04 194.65,61.04 194.79,60.91 194.93,55.22 195.07,63.46 195.21,59.11 195.34,56.81 195.48,58.56 195.62,61.60 195.76,60.56 195.89,59.00 196.03,59.13 196.17,63.43 196.31,59.82 196.45,60.51 196.58,58.80 196.72,58.55 196.86,61.44 197.00,62.99 197.13,59.90 197.27,56.04 197.41,57.52 197.55,58.32 197.69,53.15 197.82,58.88 197.96,55.11 198.10,57.80 198.24,56.95 198.37,56.29 198.51,54.29 198.65,59.15 198.79,58.37 198.93,60.58 199.06,57.03 199.20,58.66 199.34,57.19 199.48,60.00 199.62,59.39 199.75,56.64 199.89,58.26 200.03,56.80 200.17,56.50 200.30,57.70 200.44,59.45 200.58,54.47 200.72,55.97 200.86,53.89 200.99,59.16 201.13,58.27 201.27,58.07 201.41,55.63 201.54,52.63 201.68,53.43 201.82,54.99 201.96,54.67 202.10,53.69 202.23,55.77 202.37,54.18 202.51,55.47 202.65,60.27 202.78,56.89 202.92,54.46 203.06,58.19 203.20,57.55 203.34,59.01 203.47,58.77 203.61,55.54 203.75,57.59 203.89,59.07 204.02,62.87 204.16,57.46 204.30,59.82 204.44,59.92 204.58,54.49 204.71,54.41 204.85,59.30 204.99,54.01 205.13,55.03 205.26,57.82 205.40,55.98 205.54,60.68 205.68,60.23 205.82,61.02 205.95,60.73 206.09,56.59 206.23,61.22 206.37,61.02 206.50,61.13 206.64,59.54 206.78,61.03 206.92,58.15 207.06,61.34 207.19,62.46 207.33,60.47 207.47,59.63 207.61,61.06 207.75,58.38 207.88,54.94 208.02,58.70 208.16,56.77 208.30,53.78 208.43,56.79 208.57,57.83 208.71,58.13 208.85,55.86 208.99,55.36 209.12,56.66 209.26,56.84 209.40,55.32 209.54,56.37 209.67,61.58 209.81,59.26 209.95,59.20 210.09,58.66 210.23,60.58 210.36,60.86 210.50,59.40 210.64,62.36 210.78,58.21 210.91,59.14 211.05,56.91 211.19,60.27 211.33,59.06 211.47,60.68 211.60,60.55 211.74,56.15 211.88,58.04 212.02,56.01 212.15,59.85 212.29,58.31 212.43,62.53 212.57,60.49 212.71,60.11 212.84,56.92 212.98,57.95 213.12,58.05 213.26,56.04 213.39,57.95 213.53,57.81 213.67,57.71 213.81,59.08 213.95,58.94 214.08,57.99 214.22,59.34 214.36,58.76 214.50,57.72 214.64,58.30 214.77,60.68 214.91,62.54 215.05,60.23 215.19,60.31 215.32,58.54 215.46,60.98 215.60,60.69 215.74,58.37 215.88,60.00 216.01,58.84 216.15,55.32 216.29,55.41 216.43,56.61 216.56,57.00 216.70,59.12 216.84,55.88 216.98,56.18 217.12,56.05 217.25,58.27 217.39,57.42 217.53,58.59 217.67,57.69 217.80,56.36 217.94,58.21 218.08,62.83 218.22,61.74 218.36,63.21 218.49,62.14 218.63,59.74 218.77,61.05 218.91,62.64 219.04,61.01 219.18,62.88 219.32,64.07 219.46,63.44 219.60,61.90 219.73,57.01 219.87,62.77 220.01,57.73 220.15,57.23 220.28,60.12 220.42,59.45 220.56,60.54 220.70,58.73 220.84,57.38 220.97,58.79 221.11,56.89 221.25,57.30 221.39,58.65 221.53,58.12 221.66,58.32 221.80,58.33 221.94,61.05 222.08,57.51 222.21,56.97 222.35,59.62 222.49,54.25 222.63,60.13 222.77,60.04 222.90,58.30 223.04,63.36 223.18,60.90 223.32,62.33 223.45,59.96 223.59,58.77 223.73,57.39 223.87,56.88 224.01,57.51 224.14,56.68 224.28,57.62 224.42,59.38 224.56,55.35 224.69,58.30 224.83,58.93 224.97,55.01 225.11,57.36 225.25,57.82 225.38,57.29 225.52,56.78 225.66,61.23 225.80,58.13 225.93,60.21 226.07,57.63 226.21,59.49 226.35,55.64 226.49,57.80 226.62,60.72 226.76,58.49 226.90,61.29 227.04,59.07 227.18,57.68 227.31,58.10 227.45,62.51 227.59,59.62 227.73,58.01 227.86,58.45 228.00,56.42 228.14,61.40 228.28,57.16 228.42,59.97 228.55,57.92 228.69,57.52 228.83,56.84 228.97,59.51 229.10,58.39 229.24,60.98 229.38,61.47 229.52,57.47 229.66,58.83 229.79,61.08 229.93,59.68 230.07,57.43 230.21,55.12 230.34,56.29 230.48,57.13 230.62,61.76 230.76,57.94 230.90,57.19 231.03,57.05 231.17,57.10 231.31,58.48 231.45,54.75 231.58,56.12 231.72,59.08 231.86,60.24 232.00,54.08 232.14,59.80 232.27,56.80 232.41,55.05 232.55,61.04 232.69,59.31 232.82,60.46 232.96,59.25 233.10,60.46 233.24,56.83 233.38,60.16 233.51,61.63 233.65,59.44 233.79,61.82 233.93,62.18 234.06,57.56 234.20,63.76 234.34,62.55 234.48,61.31 234.62,62.75 234.75,63.96 234.89,58.47 235.03,62.36 235.17,61.90 235.31,61.33 235.44,63.24 235.58,62.92 235.72,60.12 235.86,55.62 235.99,59.20 236.13,59.63 236.27,64.82 236.41,61.88 236.55,63.34 236.68,59.49 236.82,61.67 236.96,61.26 237.10,61.37 237.23,62.46 237.37,64.87 237.51,59.80 237.65,63.61 237.79,63.42 237.92,61.34 238.06,61.98 238.20,59.93 238.34,58.34 238.47,59.68 238.61,59.12 238.75,59.63 238.89,58.17 239.03,63.41 239.16,59.49 239.30,62.62 239.44,63.06 239.58,60.23 239.71,61.26 239.85,59.55 239.99,57.59 240.13,65.16 240.27,60.97 240.40,56.24 240.54,58.31 240.68,57.02 240.82,59.44 240.95,62.52 241.09,61.48 241.23,57.93 241.37,56.92 241.51,60.35 241.64,59.54 241.78,57.88 241.92,62.24 242.06,59.61 242.20,55.80 242.33,55.25 242.47,60.84 242.61,56.59 242.75,62.35 242.88,62.61 243.02,66.41 243.16,59.47 243.30,62.64 243.44,57.03 243.57,61.39 243.71,61.64 243.85,66.02 243.99,58.31 244.12,61.39 244.26,60.81 244.40,64.47" fill="none" stroke="#f03030" stroke-width="0.8"/>
<polyline points="37.70,183.30 37.84,175.48 37.98,176.04 38.11,181.44 38.25,173.48 38.39,170.05 38.53,164.22 38.66,167.00 38.80,163.05 38.94,164.80 39.08,160.59 39.22,158.79 39.35,153.89 39.49,153.59 39.63,155.62 39.77,154.64 39.90,153.98 40.04,153.45 40.18,145.54 40.32,164.39 40.46,150.90 40.59,147.48 40.73,141.32 40.87,152.18 41.01,144.85 41.15,142.43 41.28,148.46 41.42,153.17 41.56,145.21 41.70,149.09 41.83,138.98 41.97,146.14 42.11,132.85 42.25,142.19 42.39,150.16 42.52,148.89 42.66,150.59 42.80,141.90 42.94,137.93 43.07,148.08 43.21,143.36 43.35,151.32 43.49,144.35 43.63,134.27 43.76,153.99 43.90,139.14 44.04,136.76 44.18,153.32 44.31,152.43 44.45,149.29 44.59,137.25 44.73,143.99 44.87,140.74 45.00,137.95 45.14,142.73 45.28,139.63 45.42,142.03 45.55,133.94 45.69,143.74 45.83,129.39 45.97,139.92 46.11,142.80 46.24,133.36 46.38,134.05 46.52,147.49 46.66,135.25 46.79,140.75 46.93,138.02 47.07,130.50 47.21,138.82 47.35,133.57 47.48,137.49 47.62,123.54 47.76,134.45 47.90,140.48 48.04,141.49 48.17,139.47 48.31,131.90 48.45,132.17 48.59,127.66 48.72,130.38 48.86,129.93 49.00,128.37 49.14,129.56 49.28,127.05 49.41,124.83 49.55,124.26 49.69,129.98 49.83,138.13 49.96,131.24 50.10,125.98 50.24,140.88 50.38,128.89 50.52,122.14 50.65,126.53 50.79,130.31 50.93,112.64 51.07,112.63 51.20,122.05 51.34,113.91 51.48,113.03 51.62,127.73 51.76,107.89 51.89,126.93 52.03,123.90 52.17,129.55 52.31,122.15 52.44,130.22 52.58,124.14 52.72,118.77 52.86,122.98 53.00,125.31 53.13,114.27 53.27,127.27 53.41,114.53 53.55,122.58 53.68,119.38 53.82,121.31 53.96,121.68 54.10,122.54 54.24,125.25 54.37,123.46 54.51,116.93 54.65,118.24 54.79,123.30 54.92,119.99 55.06,121.19 55.20,117.96 55.34,116.60 55.48,116.04 55.61,120.29 55.75,116.04 55.89,125.66 56.03,133.17 56.17,118.63 56.30,129.02 56.44,125.55 56.58,128.46 56.72,116.97 56.85,125.01 56.99,116.85 57.13,121.40 57.27,125.19 57.41,128.02 57.54,114.50 57.68,115.81 57.82,113.24 57.96,107.50 58.09,115.82 58.23,113.30 58.37,116.96 58.51,116.66 58.65,120.04 58.78,121.53 58.92,105.25 59.06,122.97 59.20,112.45 59.33,111.63 59.47,113.03 59.61,117.59 59.75,114.87 59.89,116.71 60.02,118.76 60.16,113.00 60.30,114.16 60.44,114.50 60.57,106.45 60.71,117.63 60.85,108.93 60.99,112.84 61.13,107.04 61.26,109.60 61.40,108.23 61.54,115.26 61.68,114.23 61.81,114.44 61.95,108.65 62.09,107.32 62.23,107.68 62.37,116.33 62.50,112.95 62.64,123.47 62.78,126.66 62.92,118.64 63.06,116.13 63.19,121.11 63.33,122.53 63.47,109.31 63.61,115.46 63.74,119.41 63.88,96.90 64.02,107.18 64.16,108.99 64.30,103.53 64.43,109.46 64.57,96.77 64.71,113.94 64.85,110.99 64.98,103.29 65.12,107.55 65.26,94.50 65.40,110.14 65.54,105.92 65.67,100.58 65.81,98.67 65.95,94.90 66.09,98.60 66.22,87.74 66.36,100.35 66.50,96.26 66.64,90.92 66.78,95.56 66.91,98.16 67.05,98.13 67.19,98.74 67.33,100.53 67.46,97.55 67.60,103.54 67.74,93.77 67.88,104.71 68.02,85.65 68.15,89.79 68.29,93.55 68.43,99.71 68.57,99.21 68.70,89.17 68.84,93.66 68.98,91.34 69.12,96.19 69.26,85.69 69.39,92.71 69.53,87.96 69.67,96.03 69.81,88.08 69.95,82.68 70.08,86.52 70.22,87.24 70.36,82.16 70.50,85.73 70.63,78.97 70.77,93.67 70.91,82.19 71.05,82.29 71.19,87.89 71.32,85.07 71.46,77.85 71.60,84.81 71.74,83.05 71.87,77.77 72.01,79.86 72.15,74.02 72.29,78.03 72.43,73.83 72.56,70.72 72.70,72.57 72.84,80.96 72.98,73.12 73.11,74.85 73.25,76.25 73.39,68.36 73.53,75.26 73.67,64.70 73.80,71.75 73.94,66.56 74.08,70.27 74.22,72.21 74.35,67.82 74.49,67.62 74.63,65.64 74.77,63.55 74.91,69.23 75.04,65.65 75.18,64.88 75.32,66.37 75.46,68.58 75.59,67.52 75.73,63.78 75.87,64.25 76.01,68.35 76.15,68.15 76.28,63.40 76.42,67.31 76.56,64.36 76.70,66.59 76.84,68.09 76.97,64.75 77.11,64.29 77.25,61.83 77.39,60.34 77.52,64.21 77.66,61.05 77.80,61.58 77.94,64.20 78.08,64.92 78.21,59.47 78.35,61.56 78.49,61.53 78.63,61.30 78.76,61.49 78.90,61.73 79.04,58.98 79.18,57.15 79.32,60.39 79.45,61.02 79.59,58.04 79.73,59.54 79.87,59.25 80.00,56.54 80.14,54.23 80.28,58.13 80.42,59.22 80.56,56.44 80.69,61.08 80.83,58.62 80.97,54.46 81.11,56.32 81.24,60.24 81.38,61.02 81.52,55.36 81.66,56.38 81.80,56.62 81.93,55.35 82.07,58.66 82.21,60.59 82.35,56.38 82.48,59.01 82.62,59.30 82.76,59.14 82.90,55.49 83.04,57.17 83.17,55.46 83.31,57.07 83.45,54.35 83.59,55.99 83.73,54.82 83.86,56.19 84.00,54.44 84.14,51.64 84.28,46.99 84.41,53.63 84.55,53.77 84.69,51.01 84.83,50.62 84.97,52.06 85.10,51.75 85.24,54.02 85.38,52.33 85.52,50.65 85.65,50.25 85.79,52.70 85.93,53.27 86.07,52.41 86.21,51.41 86.34,52.77 86.48,54.49 86.62,53.42 86.76,51.70 86.89,54.81 87.03,55.53 87.17,52.98 87.31,52.27 87.45,51.53 87.58,52.47 87.72,53.01 87.86,51.98 88.00,52.27 88.13,51.70 88.27,50.65 88.41,50.35 88.55,47.02 88.69,50.18 88.82,47.54 88.96,48.61 89.10,45.05 89.24,46.60 89.38,47.42 89.51,46.46 89.65,47.59 89.79,48.44 89.93,44.34 90.06,45.87 90.20,44.17 90.34,44.84 90.48,45.26 90.62,46.68 90.75,47.91 90.89,45.37 91.03,47.13 91.17,45.37 91.30,47.16 91.44,47.83 91.58,47.86 91.72,45.36 91.86,44.37 91.99,46.89 92.13,45.68 92.27,44.08 92.41,47.45 92.54,46.50 92.68,46.85 92.82,43.42 92.96,43.76 93.10,44.97 93.23,47.04 93.37,43.92 93.51,42.24 93.65,43.88 93.78,44.08 93.92,41.60 94.06,44.75 94.20,42.40 94.34,41.24 94.47,43.23 94.61,43.28 94.75,41.43 94.89,42.47 95.02,42.90 95.16,41.66 95.30,42.04 95.44,44.37 95.58,43.95 95.71,42.12 95.85,40.53 95.99,40.47 96.13,43.61 96.27,41.01 96.40,41.42 96.54,42.25 96.68,41.75 96.82,41.56 96.95,40.06 97.09,43.07 97.23,40.89 97.37,41.64 97.51,42.50 97.64,40.76 97.78,40.50 97.92,43.61 98.06,41.91 98.19,41.27 98.33,43.21 98.47,38.81 98.61,40.51 98.75,40.94 98.88,39.64 99.02,37.18 99.16,39.61 99.30,39.56 99.43,37.18 99.57,39.58 99.71,39.43 99.85,40.19 99.99,36.33 100.12,37.73 100.26,35.84 100.40,35.86 100.54,36.49 100.67,37.54 100.81,37.40 100.95,35.57 101.09,35.74 101.23,33.98 101.36,38.55 101.50,38.09 101.64,38.71 101.78,35.01 101.91,39.54 102.05,36.28 102.19,35.01 102.33,36.72 102.47,35.10 102.60,39.23 102.74,35.90 102.88,37.36 103.02,34.24 103.16,34.85 103.29,35.96 103.43,34.02 103.57,34.13 103.71,35.54 103.84,35.54 103.98,36.94 104.12,34.55 104.26,31.69 104.40,35.98 104.53,34.29 104.67,35.64 104.81,33.31 104.95,34.19 105.08,35.26 105.22,38.98 105.36,36.93 105.50,34.77 105.64,37.55 105.77,36.92 105.91,37.41 106.05,39.86 106.19,36.76 106.32,36.39 106.46,37.91 106.60,37.60 106.74,36.90 106.88,37.67 107.01,36.43 107.15,37.24 107.29,40.44 107.43,37.47 107.56,39.02 107.70,39.80 107.84,38.09 107.98,40.33 108.12,39.03 108.25,38.36 108.39,40.05 108.53,42.43 108.67,41.74 108.80,40.06 108.94,41.87 109.08,42.94 109.22,42.18 109.36,41.36 109.49,41.94 109.63,41.62 109.77,43.20 109.91,42.33 110.04,42.13 110.18,41.82 110.32,44.77 110.46,42.12 110.60,43.64 110.73,39.00 110.87,38.59 111.01,38.32 111.15,39.79 111.29,41.34 111.42,39.24 111.56,41.20 111.70,39.96 111.84,42.17 111.97,41.82 112.11,39.97 112.25,38.24 112.39,41.55 112.53,39.00 112.66,37.95 112.80,43.50 112.94,42.04 113.08,43.73 113.21,43.00 113.35,44.01 113.49,44.11 113.63,43.00 113.77,43.76 113.90,44.74 114.04,45.42 114.18,45.38 114.32,46.38 114.45,46.02 114.59,47.12 114.73,46.70 114.87,48.98 115.01,46.17 115.14,45.11 115.28,47.25 115.42,49.84 115.56,46.27 115.69,48.66 115.83,52.44 115.97,48.92 116.11,48.09 116.25,47.77 116.38,47.08 116.52,48.32 116.66,48.89 116.80,51.42 116.94,50.22 117.07,48.57 117.21,48.39 117.35,49.90 117.49,49.30 117.62,47.81 117.76,50.87 117.90,51.28 118.04,49.28 118.18,48.55 118.31,49.88 118.45,52.34 118.59,49.51 118.73,51.21 118.86,48.52 119.00,51.24 119.14,50.52 119.28,50.40 119.42,52.20 119.55,50.25 119.69,49.53 119.83,50.64 119.97,49.50 120.10,52.19 120.24,50.22 120.38,51.14 120.52,52.27 120.66,50.51 120.79,51.83 120.93,51.60 121.07,50.54 121.21,50.07 121.34,51.65 121.48,51.07 121.62,52.63 121.76,50.95 121.90,49.43 122.03,50.28 122.17,51.28 122.31,52.59 122.45,52.76 122.58,51.57 122.72,53.48 122.86,53.26 123.00,50.74 123.14,53.43 123.27,50.28 123.41,54.32 123.55,51.80 123.69,53.21 123.83,51.85 123.96,53.72 124.10,52.49 124.24,52.98 124.38,53.12 124.51,51.51 124.65,50.15 124.79,53.10 124.93,50.99 125.07,52.42 125.20,53.02 125.34,50.18 125.48,55.48 125.62,53.01 125.75,54.46 125.89,52.13 126.03,52.54 126.17,47.65 126.31,52.36 126.44,51.26 126.58,52.24 126.72,54.28 126.86,53.01 126.99,51.80 127.13,53.72 127.27,54.15 127.41,53.66 127.55,56.03 127.68,54.82 127.82,52.82 127.96,52.47 128.10,53.70 128.23,53.01 128.37,53.07 128.51,52.89 128.65,52.22 128.79,53.47 128.92,53.27 129.06,55.98 129.20,56.22 129.34,54.84 129.47,57.63 129.61,55.10 129.75,56.08 129.89,56.30 130.03,54.63 130.16,56.72 130.30,56.43 130.44,55.78 130.58,55.66 130.72,51.77 130.85,58.88 130.99,55.73 131.13,56.11 131.27,54.68 131.40,56.69 131.54,59.63 131.68,54.57 131.82,57.87 131.96,56.38 132.09,58.65 132.23,57.74 132.37,57.46 132.51,54.86 132.64,55.30 132.78,57.66 132.92,56.52 133.06,58.27 133.20,57.87 133.33,57.34 133.47,56.67 133.61,58.34 133.75,57.31 133.88,57.18 134.02,56.94 134.16,58.12 134.30,53.99 134.44,57.18 134.57,55.88 134.71,56.31 134.85,55.03 134.99,60.33 135.12,54.80 135.26,58.54 135.40,61.05 135.54,59.03 135.68,56.33 135.81,59.00 135.95,61.79 136.09,60.36 136.23,57.66 136.36,61.74 136.50,60.53 136.64,60.59 136.78,57.16 136.92,60.13 137.05,56.79 137.19,59.57 137.33,60.35 137.47,57.93 137.61,58.48 137.74,62.10 137.88,59.36 138.02,59.19 138.16,60.27 138.29,59.40 138.43,59.78 138.57,61.27 138.71,62.40 138.85,62.92 138.98,61.89 139.12,63.72 139.26,62.54 139.40,64.98 139.53,61.96 139.67,62.56 139.81,64.15 139.95,61.67 140.09,60.07 140.22,61.17 140.36,64.49 140.50,60.67 140.64,61.93 140.77,62.57 140.91,63.36 141.05,61.95 141.19,60.03 141.33,61.39 141.46,62.62 141.60,62.89 141.74,62.63 141.88,60.72 142.01,59.04 142.15,62.91 142.29,61.74 142.43,62.17 142.57,62.61 142.70,61.53 142.84,62.10 142.98,64.61 143.12,64.32 143.25,60.98 143.39,62.20 143.53,62.04 143.67,63.21 143.81,63.88 143.94,62.77 144.08,63.95 144.22,64.81 144.36,63.28 144.50,61.86 144.63,63.97 144.77,60.85 144.91,61.63 145.05,63.72 145.18,62.49 145.32,62.40 145.46,60.51 145.60,60.61 145.74,63.28 145.87,63.33 146.01,59.75 146.15,61.35 146.29,61.11 146.42,61.79 146.56,60.45 146.70,64.28 146.84,61.69 146.98,64.93 147.11,63.88 147.25,62.93 147.39,66.68 147.53,64.43 147.66,65.34 147.80,65.21 147.94,65.26 148.08,66.00 148.22,65.84 148.35,63.54 148.49,62.64 148.63,64.70 148.77,65.32 148.90,60.79 149.04,62.17 149.18,63.28 149.32,65.66 149.46,64.80 149.59,63.27 149.73,65.80 149.87,61.94 150.01,64.19 150.14,63.65 150.28,64.92 150.42,65.01 150.56,64.75 150.70,63.95 150.83,64.59 150.97,64.34 151.11,63.76 151.25,64.19 151.38,62.74 151.52,65.63 151.66,66.42 151.80,65.60 151.94,64.25 152.07,66.88 152.21,66.10 152.35,66.44 152.49,66.01 152.63,66.02 152.76,67.92 152.90,67.18 153.04,65.99 153.18,65.54 153.31,65.85 153.45,66.99 153.59,68.15 153.73,68.07 153.87,66.57 154.00,69.91 154.14,67.64 154.28,70.29 154.42,68.00 154.55,68.62 154.69,68.83 154.83,66.32 154.97,68.82 155.11,67.45 155.24,68.31 155.38,69.43 155.52,66.82 155.66,68.57 155.79,68.58 155.93,71.06 156.07,69.99 156.21,69.70 156.35,68.84 156.48,68.98 156.62,67.60 156.76,65.83 156.90,68.19 157.03,68.25 157.17,68.31 157.31,64.91 157.45,66.09 157.59,67.49 157.72,67.80 157.86,69.50 158.00,69.34 158.14,69.57 158.28,70.02 158.41,71.50 158.55,71.12 158.69,69.27 158.83,70.02 158.96,73.04 159.10,69.41 159.24,67.45 159.38,69.60 159.52,68.63 159.65,70.40 159.79,67.19 159.93,70.10 160.07,70.69 160.20,69.02 160.34,65.04 160.48,68.26 160.62,69.07 160.76,67.01 160.89,67.88 161.03,66.34 161.17,70.89 161.31,72.06 161.44,70.83 161.58,69.48 161.72,69.24 161.86,69.08 162.00,72.62 162.13,71.73 162.27,71.49 162.41,70.21 162.55,70.02 162.68,71.09 162.82,71.08 162.96,68.37 163.10,67.55 163.24,65.14 163.37,68.95 163.51,65.77 163.65,69.49 163.79,68.73 163.92,68.59 164.06,68.55 164.20,69.40 164.34,69.01 164.48,68.52 164.61,69.02 164.75,67.87 164.89,68.88 165.03,68.63 165.17,66.32 165.30,67.70 165.44,68.13 165.58,68.06 165.72,67.78 165.85,66.98 165.99,68.68 166.13,66.31 166.27,66.17 166.41,67.42 166.54,69.51 166.68,70.64 166.82,69.82 166.96,69.21 167.09,68.22 167.23,69.58 167.37,69.90 167.51,67.52 167.65,70.41 167.78,68.65 167.92,68.39 168.06,70.66 168.20,69.36 168.33,70.64 168.47,70.91 168.61,72.21 168.75,71.62 168.89,69.21 169.02,70.37 169.16,69.57 169.30,71.45 169.44,69.07 169.57,68.52 169.71,70.33 169.85,69.87 169.99,67.18 170.13,67.40 170.26,69.12 170.40,68.45 170.54,66.72 170.68,64.53 170.81,68.49 170.95,66.92 171.09,65.86 171.23,69.10 171.37,66.93 171.50,72.44 171.64,67.81 171.78,70.00 171.92,72.23 172.06,68.53 172.19,69.06 172.33,69.14 172.47,68.83 172.61,70.41 172.74,71.23 172.88,71.44 173.02,70.88 173.16,70.20 173.30,71.30 173.43,70.75 173.57,69.65 173.71,71.10 173.85,68.68 173.98,68.71 174.12,73.33 174.26,72.45 174.40,73.85 174.54,73.43 174.67,72.35 174.81,74.79 174.95,74.81 175.09,73.99 175.22,73.06 175.36,73.83 175.50,73.61 175.64,72.49 175.78,72.55 175.91,72.85 176.05,72.13 176.19,73.62 176.33,71.39 176.46,71.89 176.60,70.01 176.74,70.19 176.88,72.41 177.02,69.81 177.15,72.78 177.29,70.73 177.43,71.55 177.57,72.95 177.70,73.21 177.84,73.44 177.98,73.81 178.12,74.72 178.26,73.83 178.39,75.80 178.53,74.60 178.67,74.96 178.81,76.86 178.94,74.92 179.08,77.00 179.22,77.70 179.36,76.26 179.50,75.52 179.63,74.46 179.77,75.80 179.91,73.75 180.05,73.82 180.19,74.35 180.32,74.06 180.46,75.28 180.60,76.03 180.74,74.77 180.87,74.85 181.01,75.31 181.15,75.95 181.29,76.79 181.43,74.76 181.56,74.95 181.70,76.29 181.84,74.80 181.98,74.47 182.11,74.54 182.25,73.81 182.39,73.76 182.53,75.66 182.67,74.81 182.80,74.12 182.94,74.25 183.08,74.00 183.22,77.49 183.35,75.73 183.49,74.65 183.63,74.07 183.77,73.87 183.91,76.19 184.04,75.46 184.18,75.99 184.32,74.13 184.46,76.13 184.59,73.44 184.73,72.96 184.87,73.44 185.01,76.56 185.15,75.32 185.28,74.00 185.42,76.01 185.56,74.79 185.70,74.89 185.83,74.25 185.97,75.07 186.11,75.02 186.25,76.08 186.39,76.06 186.52,76.30 186.66,75.21 186.80,76.45 186.94,75.37 187.08,78.01 187.21,75.43 187.35,76.48 187.49,75.08 187.63,75.86 187.76,74.80 187.90,73.95 188.04,75.79 188.18,74.88 188.32,74.80 188.45,74.03 188.59,75.54 188.73,73.99 188.87,74.32 189.00,75.15 189.14,74.59 189.28,75.68 189.42,73.28 189.56,74.17 189.69,72.94 189.83,75.68 189.97,76.48 190.11,75.17 190.24,77.00 190.38,75.52 190.52,76.15 190.66,75.64 190.80,75.06 190.93,75.59 191.07,74.12 191.21,75.42 191.35,76.93 191.48,74.89 191.62,76.83 191.76,75.84 191.90,77.27 192.04,76.67 192.17,75.13 192.31,77.42 192.45,77.40 192.59,77.00 192.72,76.67 192.86,74.77 193.00,77.32 193.14,77.58 193.28,75.87 193.41,77.51 193.55,76.40 193.69,75.12 193.83,75.65 193.97,75.65 194.10,76.19 194.24,76.51 194.38,76.33 194.52,75.73 194.65,75.17 194.79,74.89 194.93,76.57 195.07,76.91 195.21,75.72 195.34,78.06 195.48,76.77 195.62,76.42 195.76,76.72 195.89,76.51 196.03,75.02 196.17,76.94 196.31,75.85 196.45,75.85 196.58,74.70 196.72,76.00 196.86,73.27 197.00,74.43 197.13,74.44 197.27,74.86 197.41,75.45 197.55,75.94 197.69,74.04 197.82,74.99 197.96,75.24 198.10,74.37 198.24,75.58 198.37,74.42 198.51,74.96 198.65,75.71 198.79,74.74 198.93,76.75 199.06,74.44 199.20,76.06 199.34,74.68 199.48,73.90 199.62,74.88 199.75,75.71 199.89,76.07 200.03,76.33 200.17,77.40 200.30,77.65 200.44,76.03 200.58,74.93 200.72,77.25 200.86,75.17 200.99,74.78 201.13,75.12 201.27,76.02 201.41,73.92 201.54,75.65 201.68,73.80 201.82,72.85 201.96,75.66 202.10,73.94 202.23,74.39 202.37,74.44 202.51,75.41 202.65,75.18 202.78,76.25 202.92,74.93 203.06,74.80 203.20,76.16 203.34,76.74 203.47,76.19 203.61,76.02 203.75,75.77 203.89,76.14 204.02,76.21 204.16,77.10 204.30,78.13 204.44,74.86 204.58,73.90 204.71,76.15 204.85,75.04 204.99,74.22 205.13,73.73 205.26,74.26 205.40,73.64 205.54,74.96 205.68,74.47 205.82,75.09 205.95,75.90 206.09,74.38 206.23,75.33 206.37,75.70 206.50,77.25 206.64,75.58 206.78,77.40 206.92,76.01 207.06,79.29 207.19,77.69 207.33,76.15 207.47,77.11 207.61,76.81 207.75,78.55 207.88,75.50 208.02,75.61 208.16,75.98 208.30,75.72 208.43,75.90 208.57,74.91 208.71,75.41 208.85,76.95 208.99,75.70 209.12,74.05 209.26,74.35 209.40,75.14 209.54,73.84 209.67,74.73 209.81,74.57 209.95,76.86 210.09,76.34 210.23,74.89 210.36,75.68 210.50,74.89 210.64,73.51 210.78,75.92 210.91,75.42 211.05,76.01 211.19,76.38 211.33,75.86 211.47,76.72 211.60,76.96 211.74,73.66 211.88,75.36 212.02,74.07 212.15,75.07 212.29,74.92 212.43,74.39 212.57,74.69 212.71,76.68 212.84,74.40 212.98,76.27 213.12,75.64 213.26,73.29 213.39,75.55 213.53,73.53 213.67,75.77 213.81,74.94 213.95,75.27 214.08,74.84 214.22,76.04 214.36,76.14 214.50,74.88 214.64,77.06 214.77,76.44 214.91,75.29 215.05,76.61 215.19,76.95 215.32,77.19 215.46,76.42 215.60,77.23 215.74,76.52 215.88,76.73 216.01,74.80 216.15,76.95 216.29,78.27 216.43,75.93 216.56,76.04 216.70,75.66 216.84,77.69 216.98,75.28 217.12,76.50 217.25,76.41 217.39,78.12 217.53,75.97 217.67,76.20 217.80,74.99 217.94,76.49 218.08,77.35 218.22,75.87 218.36,77.05 218.49,75.43 218.63,76.54 218.77,75.25 218.91,75.17 219.04,75.09 219.18,75.84 219.32,76.25 219.46,75.53 219.60,76.00 219.73,75.43 219.87,76.00 220.01,77.73 220.15,75.71 220.28,74.27 220.42,74.95 220.56,74.60 220.70,74.45 220.84,75.14 220.97,76.03 221.11,74.17 221.25,73.41 221.39,73.87 221.53,73.99 221.66,73.72 221.80,74.47 221.94,74.41 222.08,74.98 222.21,75.08 222.35,76.61 222.49,76.37 222.63,75.08 222.77,75.68 222.90,78.06 223.04,75.70 223.18,78.28 223.32,74.58 223.45,75.35 223.59,75.44 223.73,76.55 223.87,76.83 224.01,75.87 224.14,75.74 224.28,76.80 224.42,76.25 224.56,75.70 224.69,75.72 224.83,76.86 224.97,78.03 225.11,76.21 225.25,76.27 225.38,75.63 225.52,74.31 225.66,74.16 225.80,75.20 225.93,74.43 226.07,73.82 226.21,75.55 226.35,75.65 226.49,75.20 226.62,76.26 226.76,76.46 226.90,76.85 227.04,76.44 227.18,77.48 227.31,76.22 227.45,77.21 227.59,75.49 227.73,75.60 227.86,77.47 228.00,75.00 228.14,76.00 228.28,74.12 228.42,74.88 228.55,75.86 228.69,74.64 228.83,75.69 228.97,74.70 229.10,74.28 229.24,74.68 229.38,74.50 229.52,75.89 229.66,74.64 229.79,76.50 229.93,74.68 230.07,74.79 230.21,74.76 230.34,75.64 230.48,72.29 230.62,75.55 230.76,75.37 230.90,76.32 231.03,74.38 231.17,76.29 231.31,74.97 231.45,76.58 231.58,75.39 231.72,76.19 231.86,74.65 232.00,75.70 232.14,76.20 232.27,74.68 232.41,76.35 232.55,76.06 232.69,74.32 232.82,76.40 232.96,74.14 233.10,75.45 233.24,76.19 233.38,75.24 233.51,74.76 233.65,76.11 233.79,75.71 233.93,75.13 234.06,75.25 234.20,75.71 234.34,76.31 234.48,76.62 234.62,76.28 234.75,74.91 234.89,75.01 235.03,75.17 235.17,74.30 235.31,75.79 235.44,75.75 235.58,75.64 235.72,73.85 235.86,77.86 235.99,76.23 236.13,75.85 236.27,75.94 236.41,73.82 236.55,74.79 236.68,74.92 236.82,76.37 236.96,75.18 237.10,76.28 237.23,76.13 237.37,75.81 237.51,76.07 237.65,74.34 237.79,73.68 237.92,74.33 238.06,75.23 238.20,77.30 238.34,75.12 238.47,75.25 238.61,76.60 238.75,76.64 238.89,75.53 239.03,76.76 239.16,75.52 239.30,77.39 239.44,77.33 239.58,76.41 239.71,78.05 239.85,76.62 239.99,75.78 240.13,77.42 240.27,75.47 240.40,76.62 240.54,75.73 240.68,75.86 240.82,76.29 240.95,76.44 241.09,77.32 241.23,76.42 241.37,76.13 241.51,74.17 241.64,74.76 241.78,76.64 241.92,74.41 242.06,75.00 242.20,75.44 242.33,74.86 242.47,74.86 242.61,76.31 242.75,75.85 242.88,75.75 243.02,76.79 243.16,75.85 243.30,76.09 243.44,76.86 243.57,76.52 243.71,75.72 243.85,75.36 243.99,75.66 244.12,76.35 244.26,75.05 244.40,75.71" fill="none" stroke="#1a66e0" stroke-width="0.8"/>
<line x1="37.7" x2="244.4" y1="65.33" y2="65.33" stroke="#2eaa5a" stroke-width="1.1"/>
<line x1="37.7" x2="244.4" y1="51.24" y2="51.24" stroke="#a060e0" stroke-width="1.1"/>
</g>
<rect x="37.7" y="11.05" width="206.70" height="172.25" fill="none" stroke="#2a2a2a" stroke-width="1.2"/>
<line x1="37.7" x2="40.7" y1="183.30" y2="183.30" stroke="#222" stroke-width="0.9"/>
<text x="34" y="186.70" text-anchor="end" class="tl">0</text>
<line x1="37.7" x2="39.300000000000004" y1="175.47" y2="175.47" stroke="#222" stroke-width="0.9"/>
<line x1="37.7" x2="40.7" y1="167.64" y2="167.64" stroke="#222" stroke-width="0.9"/>
<text x="34" y="171.04" text-anchor="end" class="tl">150</text>
<line x1="37.7" x2="39.300000000000004" y1="159.81" y2="159.81" stroke="#222" stroke-width="0.9"/>
<line x1="37.7" x2="40.7" y1="151.98" y2="151.98" stroke="#222" stroke-width="0.9"/>
<text x="34" y="155.38" text-anchor="end" class="tl">300</text>
<line x1="37.7" x2="39.300000000000004" y1="144.15" y2="144.15" stroke="#222" stroke-width="0.9"/>
<line x1="37.7" x2="40.7" y1="136.32" y2="136.32" stroke="#222" stroke-width="0.9"/>
<text x="34" y="139.72" text-anchor="end" class="tl">450</text>
<line x1="37.7" x2="39.300000000000004" y1="128.49" y2="128.49" stroke="#222" stroke-width="0.9"/>
<line x1="37.7" x2="40.7" y1="120.66" y2="120.66" stroke="#222" stroke-width="0.9"/>
<text x="34" y="124.06" text-anchor="end" class="tl">600</text>
<line x1="37.7" x2="39.300000000000004" y1="112.83" y2="112.83" stroke="#222" stroke-width="0.9"/>
<line x1="37.7" x2="40.7" y1="105.00" y2="105.00" stroke="#222" stroke-width="0.9"/>
<text x="34" y="108.40" text-anchor="end" class="tl">750</text>
<line x1="37.7" x2="39.300000000000004" y1="97.18" y2="97.18" stroke="#222" stroke-width="0.9"/>
<line x1="37.7" x2="40.7" y1="89.35" y2="89.35" stroke="#222" stroke-width="0.9"/>
<text x="34" y="92.75" text-anchor="end" class="tl">900</text>
<line x1="37.7" x2="39.300000000000004" y1="81.52" y2="81.52" stroke="#222" stroke-width="0.9"/>
<line x1="37.7" x2="40.7" y1="73.69" y2="73.69" stroke="#222" stroke-width="0.9"/>
<text x="34" y="77.09" text-anchor="end" class="tl">1050</text>
<line x1="37.7" x2="39.300000000000004" y1="65.86" y2="65.86" stroke="#222" stroke-width="0.9"/>
<line x1="37.7" x2="40.7" y1="58.03" y2="58.03" stroke="#222" stroke-width="0.9"/>
<text x="34" y="61.43" text-anchor="end" class="tl">1200</text>
<line x1="37.7" x2="39.300000000000004" y1="50.20" y2="50.20" stroke="#222" stroke-width="0.9"/>
<line x1="37.7" x2="40.7" y1="42.37" y2="42.37" stroke="#222" stroke-width="0.9"/>
<text x="34" y="45.77" text-anchor="end" class="tl">1350</text>
<line x1="37.7" x2="39.300000000000004" y1="34.54" y2="34.54" stroke="#222" stroke-width="0.9"/>
<line x1="37.7" x2="40.7" y1="26.71" y2="26.71" stroke="#222" stroke-width="0.9"/>
<text x="34" y="30.11" text-anchor="end" class="tl">1500</text>
<line x1="37.7" x2="39.300000000000004" y1="18.88" y2="18.88" stroke="#222" stroke-width="0.9"/>
<line x1="37.7" x2="40.7" y1="11.05" y2="11.05" stroke="#222" stroke-width="0.9"/>
<text x="34" y="14.45" text-anchor="end" class="tl">1650</text>
<line x1="37.70" x2="37.70" y1="183.3" y2="180.3" stroke="#222" stroke-width="0.9"/>
<text x="37.70" y="194.5" text-anchor="middle" class="tl">0</text>
<line x1="58.37" x2="58.37" y1="183.3" y2="180.3" stroke="#222" stroke-width="0.9"/>
<text x="58.37" y="194.5" text-anchor="middle" class="tl">15</text>
<line x1="79.04" x2="79.04" y1="183.3" y2="180.3" stroke="#222" stroke-width="0.9"/>
<text x="79.04" y="194.5" text-anchor="middle" class="tl">30</text>
<line x1="99.71" x2="99.71" y1="183.3" y2="180.3" stroke="#222" stroke-width="0.9"/>
<text x="99.71" y="194.5" text-anchor="middle" class="tl">45</text>
<line x1="120.38" x2="120.38" y1="183.3" y2="180.3" stroke="#222" stroke-width="0.9"/>
<text x="120.38" y="194.5" text-anchor="middle" class="tl">60</text>
<line x1="141.05" x2="141.05" y1="183.3" y2="180.3" stroke="#222" stroke-width="0.9"/>
<text x="141.05" y="194.5" text-anchor="middle" class="tl">75</text>
<line x1="161.72" x2="161.72" y1="183.3" y2="180.3" stroke="#222" stroke-width="0.9"/>
<text x="161.72" y="194.5" text-anchor="middle" class="tl">90</text>
<line x1="182.39" x2="182.39" y1="183.3" y2="180.3" stroke="#222" stroke-width="0.9"/>
<text x="182.39" y="194.5" text-anchor="middle" class="tl">105</text>
<line x1="203.06" x2="203.06" y1="183.3" y2="180.3" stroke="#222" stroke-width="0.9"/>
<text x="203.06" y="194.5" text-anchor="middle" class="tl">120</text>
<line x1="223.73" x2="223.73" y1="183.3" y2="180.3" stroke="#222" stroke-width="0.9"/>
<text x="223.73" y="194.5" text-anchor="middle" class="tl">135</text>
<line x1="244.40" x2="244.40" y1="183.3" y2="180.3" stroke="#222" stroke-width="0.9"/>
<text x="244.40" y="194.5" text-anchor="middle" class="tl">150</text>
<text transform="translate(13.7,95.2) rotate(-90)" text-anchor="middle" class="al" textLength="99.5" lengthAdjust="spacingAndGlyphs">Total Ice Resistance(kN)</text>
<text x="140.5" y="208.5" text-anchor="middle" class="al">Time (s)</text>
<text x="128" y="225.5" text-anchor="middle" class="pl">(<tspan font-weight="bold">a</tspan>)</text>
<line x1="156.4" x2="176.9" y1="128.7" y2="128.7" stroke="#000" stroke-width="0.9" opacity="0.85"/>
<text x="179.4" y="132.20" class="lg" textLength="51" lengthAdjust="spacingAndGlyphs">Coarse Mesh</text>
<line x1="156.4" x2="176.9" y1="141.2" y2="141.2" stroke="#f03030" stroke-width="0.9" opacity="0.85"/>
<text x="179.4" y="144.70" class="lg" textLength="56.6" lengthAdjust="spacingAndGlyphs">Medium Mesh</text>
<line x1="156.4" x2="176.9" y1="153.3" y2="153.3" stroke="#1a66e0" stroke-width="0.9" opacity="0.85"/>
<text x="179.4" y="156.80" class="lg" textLength="41.6" lengthAdjust="spacingAndGlyphs">Fine Mesh</text>
<line x1="156.4" x2="176.9" y1="165.3" y2="165.3" stroke="#2eaa5a" stroke-width="0.9" opacity="0.85"/>
<text x="179.4" y="168.80" class="lg" textLength="58.4" lengthAdjust="spacingAndGlyphs">EXP_Reported</text>
<line x1="156.4" x2="176.9" y1="177.6" y2="177.6" stroke="#a060e0" stroke-width="0.9" opacity="0.85"/>
<text x="179.4" y="181.10" class="lg" textLength="66" lengthAdjust="spacingAndGlyphs">FSICR Formulas</text>
</g>
<g id="pb">
<g clip-path="url(#bclip)">
<polyline points="333.50,88.40 333.85,80.33 334.21,82.80 334.56,102.44 334.92,97.08 335.27,102.77 335.63,103.54 335.98,98.48 336.34,118.98 336.69,106.20 337.05,115.18 337.40,111.30 337.76,118.98 338.11,118.98 338.47,118.98 338.82,115.64 339.18,115.24 339.53,106.08 339.89,111.68 340.24,116.08 340.60,88.56 340.95,85.09 341.31,84.62 341.66,81.66 342.02,73.08 342.37,78.50 342.73,79.45 343.08,78.15 343.44,74.73 343.79,99.11 344.14,87.35 344.50,107.17 344.85,114.49 345.21,103.41 345.56,118.98 345.92,118.98 346.27,118.98 346.63,114.98 346.98,109.85 347.34,116.19 347.69,109.37 348.05,98.18 348.40,101.36 348.76,88.32 349.11,85.66 349.47,86.63 349.82,82.20 350.18,79.88 350.53,82.50 350.89,87.38 351.24,94.14 351.60,91.48 351.95,96.80 352.31,97.79 352.66,97.79 353.02,108.88 353.37,103.23 353.73,118.98 354.08,115.77 354.44,118.98 354.79,104.67 355.14,103.69 355.50,118.98 355.85,111.55 356.21,97.41 356.56,93.64 356.92,90.12 357.27,88.20 357.63,80.95 357.98,78.08 358.34,80.85 358.69,70.66 359.05,93.04 359.40,74.81 359.76,85.89 360.11,64.80 360.47,85.95 360.82,92.95 361.18,93.55 361.53,103.95 361.89,106.18 362.24,113.37 362.60,105.48 362.95,104.92 363.31,98.81 363.66,103.05 364.02,95.61 364.37,99.46 364.73,99.95 365.08,89.34 365.44,82.04 365.79,95.68 366.14,91.83 366.50,87.73 366.85,85.57 367.21,93.98 367.56,85.01 367.92,94.54 368.27,91.05 368.63,100.94 368.98,96.07 369.34,99.19 369.69,105.55 370.05,88.05 370.40,99.21 370.76,91.56 371.11,97.82 371.47,104.01 371.82,103.20 372.18,101.34 372.53,95.11 372.89,95.03 373.24,95.15 373.60,105.08 373.95,93.63 374.31,104.67 374.66,88.72 375.02,94.53 375.37,92.34 375.73,88.10 376.08,85.17 376.43,93.45 376.79,99.20 377.14,97.73 377.50,105.39 377.85,103.01 378.21,83.52 378.56,101.57 378.92,92.09 379.27,110.10 379.63,101.17 379.98,109.17 380.34,105.36 380.69,100.52 381.05,93.10 381.40,98.14 381.76,94.36 382.11,100.34 382.47,86.97 382.82,89.87 383.18,80.46 383.53,79.91 383.89,67.26 384.24,89.83 384.60,79.97 384.95,70.58 385.31,76.08 385.66,82.69 386.02,81.22 386.37,91.33 386.73,88.13 387.08,73.78 387.43,82.23 387.79,95.75 388.14,94.20 388.50,92.46 388.85,79.57 389.21,91.30 389.56,91.06 389.92,82.46 390.27,81.46 390.63,84.19 390.98,84.38 391.34,83.71 391.69,75.11 392.05,86.56 392.40,67.09 392.76,74.38 393.11,69.88 393.47,64.80 393.82,76.36 394.18,87.60 394.53,77.51 394.89,77.26 395.24,88.96 395.60,90.53 395.95,88.02 396.31,96.53 396.66,82.93 397.02,99.51 397.37,93.90 397.72,90.55 398.08,90.21 398.43,87.11 398.79,87.64 399.14,89.98 399.50,83.08 399.85,98.08 400.21,88.29 400.56,91.35 400.92,86.05 401.27,86.06 401.63,90.12 401.98,89.39 402.34,82.85 402.69,85.26 403.05,88.71 403.40,76.66 403.76,75.42 404.11,93.58 404.47,85.67 404.82,74.52 405.18,83.16 405.53,86.75 405.89,88.73 406.24,90.80 406.60,89.57 406.95,90.93 407.31,85.26 407.66,89.08 408.01,90.13 408.37,94.53 408.72,88.30 409.08,92.08 409.43,87.42 409.79,81.07 410.14,85.03 410.50,82.95 410.85,84.15 411.21,86.76 411.56,86.13 411.92,87.45 412.27,81.26 412.63,88.50 412.98,76.21 413.34,98.67 413.69,86.61 414.05,86.46 414.40,87.67 414.76,83.37 415.11,85.96 415.47,76.03 415.82,86.51 416.18,93.54 416.53,87.27 416.89,92.59 417.24,84.17 417.60,78.92 417.95,81.37 418.31,89.27 418.66,85.37 419.01,73.99 419.37,82.48 419.72,83.94 420.08,77.79 420.43,71.73 420.79,76.75 421.14,82.55 421.50,81.35 421.85,80.05 422.21,87.05 422.56,89.48 422.92,85.40 423.27,91.05 423.63,85.83 423.98,85.61 424.34,76.06 424.69,88.54 425.05,84.57 425.40,84.87 425.76,83.27 426.11,81.25 426.47,88.04 426.82,90.24 427.18,93.99 427.53,90.56 427.89,84.25 428.24,86.98 428.60,93.35 428.95,93.26 429.31,91.58 429.66,89.81 430.01,93.68 430.37,91.00 430.72,97.82 431.08,93.95 431.43,81.29 431.79,97.10 432.14,87.59 432.50,84.49 432.85,87.09 433.21,87.98 433.56,86.00 433.92,86.28 434.27,86.82 434.63,95.79 434.98,87.84 435.34,90.95 435.69,89.26 436.05,86.94 436.40,86.10 436.76,85.32 437.11,90.75 437.47,85.03 437.82,81.44 438.18,81.48 438.53,79.51 438.89,87.40 439.24,86.82 439.60,83.56 439.95,93.95 440.30,86.70 440.66,89.38 441.01,88.90 441.37,94.82 441.72,90.74 442.08,87.83 442.43,82.98 442.79,83.40 443.14,88.83 443.50,88.69 443.85,90.54 444.21,84.21 444.56,87.99 444.92,85.55 445.27,80.28 445.63,88.98 445.98,95.50 446.34,93.35 446.69,96.71 447.05,94.87 447.40,82.29 447.76,88.72 448.11,96.34 448.47,85.66 448.82,82.15 449.18,88.98 449.53,90.57 449.89,90.10 450.24,87.30 450.60,85.06 450.95,81.97 451.30,82.48 451.66,82.24 452.01,80.90 452.37,85.68 452.72,97.56 453.08,91.41 453.43,89.56 453.79,92.22 454.14,67.02 454.50,92.03 454.85,95.23 455.21,84.50 455.56,88.40 455.92,91.04 456.27,87.57 456.63,86.43 456.98,89.06 457.34,101.71 457.69,91.60 458.05,90.59 458.40,92.12 458.76,84.93 459.11,78.63 459.47,86.89 459.82,88.69 460.18,73.48 460.53,85.50 460.89,89.14 461.24,81.26 461.59,80.37 461.95,86.96 462.30,78.74 462.66,85.90 463.01,89.48 463.37,84.81 463.72,81.07 464.08,88.19 464.43,84.47 464.79,85.59 465.14,71.56 465.50,87.24 465.85,78.34 466.21,84.77 466.56,86.12 466.92,82.73 467.27,81.71 467.63,79.76 467.98,84.88 468.34,90.37 468.69,88.83 469.05,84.01 469.40,83.36 469.76,81.20 470.11,84.99 470.47,81.48 470.82,79.60 471.18,85.34 471.53,92.02 471.88,90.32 472.24,91.96 472.59,79.08 472.95,91.91 473.30,83.53 473.66,87.25 474.01,81.09 474.37,84.46 474.72,90.72 475.08,90.65 475.43,89.46 475.79,89.60 476.14,94.30 476.50,89.52 476.85,79.68 477.21,94.69 477.56,85.56 477.92,91.17 478.27,87.54 478.63,84.87 478.98,72.79 479.34,84.74 479.69,95.38 480.05,83.32 480.40,91.72 480.76,88.50 481.11,91.11 481.47,103.58 481.82,93.70 482.18,89.28 482.53,81.34 482.88,86.60 483.24,86.26 483.59,95.89 483.95,83.22 484.30,80.48 484.66,86.99 485.01,87.26 485.37,93.23 485.72,81.71 486.08,74.22 486.43,83.48 486.79,80.99 487.14,84.29 487.50,91.54 487.85,79.66 488.21,90.43 488.56,85.93 488.92,85.09 489.27,81.31 489.63,83.80 489.98,83.67 490.34,87.82 490.69,89.19 491.05,83.59 491.40,87.05 491.76,90.37 492.11,90.37 492.47,88.57 492.82,94.33 493.17,92.67 493.53,94.67 493.88,86.92 494.24,86.50 494.59,80.14 494.95,96.93 495.30,92.67 495.66,84.47 496.01,88.80 496.37,88.33 496.72,77.79 497.08,87.64 497.43,90.12 497.79,91.61 498.14,83.45 498.50,83.00 498.85,90.55 499.21,88.66 499.56,82.31 499.92,83.73 500.27,89.16 500.63,84.93 500.98,85.17 501.34,95.58 501.69,90.58 502.05,87.35 502.40,91.44 502.76,99.74 503.11,89.56 503.47,86.67 503.82,81.56 504.17,97.62 504.53,75.17 504.88,91.62 505.24,81.30 505.59,81.58 505.95,80.49 506.30,84.64 506.66,91.35 507.01,81.33 507.37,89.96 507.72,96.93 508.08,72.86 508.43,84.59 508.79,79.27 509.14,91.60 509.50,81.74 509.85,80.62 510.21,81.80 510.56,88.83 510.92,94.10 511.27,90.43 511.63,98.51 511.98,96.40 512.34,87.53 512.69,91.73 513.05,88.08 513.40,88.39 513.76,78.25 514.11,81.91 514.46,87.28 514.82,80.42 515.17,88.35 515.53,85.01 515.88,79.67 516.24,89.36 516.59,85.26 516.95,90.09 517.30,83.01 517.66,75.01 518.01,86.31 518.37,81.46 518.72,86.18 519.08,87.75 519.43,89.67 519.79,77.22 520.14,73.41 520.50,82.19 520.85,88.31 521.21,82.95 521.56,88.17 521.92,84.27 522.27,86.47 522.63,86.56 522.98,85.44 523.34,91.20 523.69,90.23 524.05,98.20 524.40,92.05 524.76,97.38 525.11,90.94 525.46,93.22 525.82,88.87 526.17,85.14 526.53,93.14 526.88,89.46 527.24,90.44 527.59,82.66 527.95,77.58 528.30,79.77 528.66,86.13 529.01,76.06 529.37,89.78 529.72,75.39 530.08,85.10 530.43,97.09 530.79,72.93 531.14,77.12 531.50,89.19 531.85,84.39 532.21,86.57 532.56,86.04 532.92,93.76 533.27,92.18 533.63,88.20 533.98,89.78 534.34,85.57 534.69,90.13 535.05,78.64 535.40,93.68 535.75,90.66 536.11,100.06 536.46,97.73 536.82,86.28 537.17,96.01 537.53,87.76 537.88,89.66 538.24,95.34 538.59,92.38 538.95,91.69 539.30,92.43 539.66,88.12 540.01,87.07 540.37,92.21 540.72,92.91 541.08,87.30 541.43,88.08 541.79,83.26 542.14,76.25 542.50,84.14 542.85,87.98 543.21,89.45 543.56,91.55 543.92,90.72 544.27,90.74 544.63,88.24 544.98,88.11 545.34,82.85 545.69,89.82 546.05,87.87 546.40,92.78" fill="none" stroke="#000" stroke-width="0.75"/>
<polyline points="333.50,124.64 334.21,116.85 334.92,115.80 335.63,125.15 336.34,114.63 337.05,121.56 337.76,116.67 338.47,122.05 339.18,125.07 339.89,118.77 340.60,120.44 341.31,119.37 342.02,123.03 342.73,121.06 343.44,119.10 344.14,132.63 344.85,120.78 345.56,129.45 346.27,118.79 346.98,122.34 347.69,113.01 348.40,117.11 349.11,109.85 349.82,119.92 350.53,121.11 351.24,124.00 351.95,121.58 352.66,120.78 353.37,126.88 354.08,113.72 354.79,123.20 355.50,121.94 356.21,127.01 356.92,118.31 357.63,120.72 358.34,124.59 359.05,126.33 359.76,119.07 360.47,126.99 361.18,124.76 361.89,125.49 362.60,124.72 363.31,123.65 364.02,123.78 364.73,127.57 365.44,126.48 366.14,123.77 366.85,129.73 367.56,126.51 368.27,124.76 368.98,122.25 369.69,126.55 370.40,129.54 371.11,126.32 371.82,126.77 372.53,125.86 373.24,125.90 373.95,130.26 374.66,127.82 375.37,130.49 376.08,119.80 376.79,127.91 377.50,132.93 378.21,121.81 378.92,125.84 379.63,128.07 380.34,131.68 381.05,132.98 381.76,131.45 382.47,141.63 383.18,125.41 383.89,134.07 384.60,131.78 385.31,128.45 386.02,127.77 386.73,138.20 387.43,131.90 388.14,133.04 388.85,127.07 389.56,128.39 390.27,131.77 390.98,134.34 391.69,134.70 392.40,134.15 393.11,135.49 393.82,131.95 394.53,141.56 395.24,139.59 395.95,138.04 396.66,130.30 397.37,136.53 398.08,129.94 398.79,130.53 399.50,130.38 400.21,124.24 400.92,128.73 401.63,124.49 402.34,125.05 403.05,126.03 403.76,139.06 404.47,135.79 405.18,133.21 405.89,127.24 406.60,128.68 407.31,132.44 408.01,135.74 408.72,132.78 409.43,141.81 410.14,139.74 410.85,140.07 411.56,137.29 412.27,129.64 412.98,133.31 413.69,132.47 414.40,136.16 415.11,139.97 415.82,137.94 416.53,132.87 417.24,133.52 417.95,135.66 418.66,139.81 419.37,145.50 420.08,130.67 420.79,141.34 421.50,135.56 422.21,145.43 422.92,138.92 423.63,134.55 424.34,144.45 425.05,128.98 425.76,134.06 426.47,135.30 427.18,132.88 427.89,129.52 428.60,135.88 429.31,139.09 430.01,134.80 430.72,137.78 431.43,130.30 432.14,130.66 432.85,132.66 433.56,125.47 434.27,124.18 434.98,133.93 435.69,128.05 436.40,123.16 437.11,125.91 437.82,128.36 438.53,127.69 439.24,130.86 439.95,133.76 440.66,135.58 441.37,127.84 442.08,135.72 442.79,132.14 443.50,137.61 444.21,125.33 444.92,124.44 445.63,132.93 446.34,139.31 447.05,140.07 447.76,130.19 448.47,140.06 449.18,136.76 449.89,133.66 450.60,143.28 451.30,136.97 452.01,134.18 452.72,134.89 453.43,123.93 454.14,132.95 454.85,128.56 455.56,130.35 456.27,127.36 456.98,141.31 457.69,136.00 458.40,139.07 459.11,136.44 459.82,133.79 460.53,130.90 461.24,135.69 461.95,139.02 462.66,133.42 463.37,137.45 464.08,143.42 464.79,138.03 465.50,133.22 466.21,128.98 466.92,132.91 467.63,135.74 468.34,133.30 469.05,135.02 469.76,134.01 470.47,143.44 471.18,138.48 471.88,139.97 472.59,134.16 473.30,135.21 474.01,127.57 474.72,131.10 475.43,128.60 476.14,129.00 476.85,132.04 477.56,132.64 478.27,133.80 478.98,141.66 479.69,142.56 480.40,140.12 481.11,140.03 481.82,146.85 482.53,142.03 483.24,143.95 483.95,131.62 484.66,136.56 485.37,134.96 486.08,135.09 486.79,131.77 487.50,133.60 488.21,134.08 488.92,132.24 489.63,136.94 490.34,138.07 491.05,134.00 491.76,139.80 492.47,137.70 493.17,131.98 493.88,132.25 494.59,132.49 495.30,127.43 496.01,135.41 496.72,131.90 497.43,131.75 498.14,140.53 498.85,138.27 499.56,136.66 500.27,132.89 500.98,134.42 501.69,135.71 502.40,133.56 503.11,136.94 503.82,134.33 504.53,140.90 505.24,137.73 505.95,132.26 506.66,136.70 507.37,139.97 508.08,132.15 508.79,140.19 509.50,132.06 510.21,129.53 510.92,141.72 511.63,131.53 512.34,131.34 513.05,126.10 513.76,135.73 514.46,124.60 515.17,130.67 515.88,140.11 516.59,138.80 517.30,138.81 518.01,138.14 518.72,136.54 519.43,142.64 520.14,146.16 520.85,140.70 521.56,146.60 522.27,143.04 522.98,140.74 523.69,144.28 524.40,128.03 525.11,136.97 525.82,141.97 526.53,136.65 527.24,140.59 527.95,143.27 528.66,137.34 529.37,145.41 530.08,142.19 530.79,134.08 531.50,135.82 532.21,133.72 532.92,136.65 533.63,144.61 534.34,140.59 535.05,132.42 535.75,139.95 536.46,134.02 537.17,136.53 537.88,141.08 538.59,130.94 539.30,136.76 540.01,142.78 540.72,128.42 541.43,139.66 542.14,143.03 542.85,152.07 543.56,143.67 544.27,140.87 544.98,151.19 545.69,140.89 546.40,147.75" fill="none" stroke="#f03030" stroke-width="0.9"/>
<polyline points="333.50,158.38 334.21,165.89 334.92,163.37 335.63,160.11 336.34,162.47 337.05,154.59 337.76,157.72 338.47,158.93 339.18,156.91 339.89,158.72 340.60,156.78 341.31,155.31 342.02,157.02 342.73,154.93 343.44,155.74 344.14,153.34 344.85,151.84 345.56,154.32 346.27,161.48 346.98,158.31 347.69,159.12 348.40,154.54 349.11,157.05 349.82,161.54 350.53,161.49 351.24,164.98 351.95,158.29 352.66,159.10 353.37,157.99 354.08,160.80 354.79,153.78 355.50,158.11 356.21,152.76 356.92,156.71 357.63,150.85 358.34,153.23 359.05,155.19 359.76,165.03 360.47,157.97 361.18,157.46 361.89,162.80 362.60,162.02 363.31,162.96 364.02,159.29 364.73,157.12 365.44,167.49 366.14,168.63 366.85,165.31 367.56,170.77 368.27,166.87 368.98,168.10 369.69,165.74 370.40,164.80 371.11,163.16 371.82,160.07 372.53,165.42 373.24,166.25 373.95,163.51 374.66,167.22 375.37,168.55 376.08,168.58 376.79,170.31 377.50,175.33 378.21,175.65 378.92,174.01 379.63,169.99 380.34,168.42 381.05,169.76 381.76,171.82 382.47,170.69 383.18,171.89 383.89,175.19 384.60,171.09 385.31,170.75 386.02,170.18 386.73,168.44 387.43,170.78 388.14,169.52 388.85,176.75 389.56,170.41 390.27,168.67 390.98,172.22 391.69,169.27 392.40,167.73 393.11,167.72 393.82,171.90 394.53,173.44 395.24,170.95 395.95,171.35 396.66,173.59 397.37,174.10 398.08,174.42 398.79,177.90 399.50,174.50 400.21,173.12 400.92,168.86 401.63,170.94 402.34,169.03 403.05,168.95 403.76,171.54 404.47,172.71 405.18,169.36 405.89,172.72 406.60,171.58 407.31,172.36 408.01,172.62 408.72,172.51 409.43,172.13 410.14,170.97 410.85,173.08 411.56,174.92 412.27,176.59 412.98,175.66 413.69,170.69 414.40,176.96 415.11,176.78 415.82,171.47 416.53,172.66 417.24,174.56 417.95,172.82 418.66,170.96 419.37,175.45 420.08,178.01 420.79,174.37 421.50,174.57 422.21,175.52 422.92,173.08 423.63,173.42 424.34,169.92 425.05,170.89 425.76,173.30 426.47,171.17 427.18,169.79 427.89,169.90 428.60,172.79 429.31,175.10 430.01,173.55 430.72,168.76 431.43,172.79 432.14,174.15 432.85,177.11 433.56,171.03 434.27,171.59 434.98,171.46 435.69,168.79 436.40,168.53 437.11,172.66 437.82,169.85 438.53,172.12 439.24,173.99 439.95,170.76 440.66,175.07 441.37,173.46 442.08,173.74 442.79,175.87 443.50,170.89 444.21,173.75 444.92,169.45 445.63,169.55 446.34,171.11 447.05,171.41 447.76,169.81 448.47,172.75 449.18,172.49 449.89,173.45 450.60,177.20 451.30,175.91 452.01,179.10 452.72,172.56 453.43,172.81 454.14,170.99 454.85,175.53 455.56,169.09 456.27,171.51 456.98,170.60 457.69,175.34 458.40,170.96 459.11,170.96 459.82,173.24 460.53,173.44 461.24,173.11 461.95,175.56 462.66,172.00 463.37,171.35 464.08,169.83 464.79,174.94 465.50,174.03 466.21,167.39 466.92,167.92 467.63,171.07 468.34,170.83 469.05,173.74 469.76,175.78 470.47,171.84 471.18,175.54 471.88,174.35 472.59,174.59 473.30,170.76 474.01,178.48 474.72,173.52 475.43,177.18 476.14,174.55 476.85,178.16 477.56,173.88 478.27,174.52 478.98,173.14 479.69,172.16 480.40,171.76 481.11,171.40 481.82,173.99 482.53,173.43 483.24,173.43 483.95,172.78 484.66,171.08 485.37,169.97 486.08,173.48 486.79,167.65 487.50,168.95 488.21,170.02 488.92,171.15 489.63,174.78 490.34,171.38 491.05,178.01 491.76,178.50 492.47,171.99 493.17,174.65 493.88,173.14 494.59,175.21 495.30,172.75 496.01,175.34 496.72,173.90 497.43,172.60 498.14,169.33 498.85,169.93 499.56,172.42 500.27,171.65 500.98,174.45 501.69,174.40 502.40,173.91 503.11,172.28 503.82,176.70 504.53,173.43 505.24,170.94 505.95,170.40 506.66,170.53 507.37,170.49 508.08,173.19 508.79,174.55 509.50,170.74 510.21,172.61 510.92,172.43 511.63,174.14 512.34,174.07 513.05,174.73 513.76,173.86 514.46,172.76 515.17,170.49 515.88,173.55 516.59,174.31 517.30,172.20 518.01,171.73 518.72,173.67 519.43,171.49 520.14,172.77 520.85,174.81 521.56,171.00 522.27,171.58 522.98,172.96 523.69,172.63 524.40,177.56 525.11,173.08 525.82,168.57 526.53,171.03 527.24,171.59 527.95,173.71 528.66,173.58 529.37,168.25 530.08,171.72 530.79,171.46 531.50,174.77 532.21,172.37 532.92,172.37 533.63,176.38 534.34,177.99 535.05,172.94 535.75,172.25 536.46,172.83 537.17,174.08 537.88,176.37 538.59,173.71 539.30,170.67 540.01,169.89 540.72,172.18 541.43,170.89 542.14,173.10 542.85,175.18 543.56,173.63 544.27,174.59 544.98,172.01 545.69,174.20 546.40,172.79" fill="none" stroke="#1a66e0" stroke-width="0.9"/>
<line x1="333.5" x2="546.4" y1="149.67" y2="149.67" stroke="#2eaa5a" stroke-width="1.1"/>
<line x1="333.5" x2="546.4" y1="118.28" y2="118.28" stroke="#a060e0" stroke-width="1.1"/>
<line x1="333.5" x2="546.4" y1="88.05" y2="88.05" stroke="#000" stroke-width="1.3" stroke-dasharray="4 3.5"/>
<line x1="333.5" x2="546.4" y1="133.39" y2="133.39" stroke="#f02020" stroke-width="1.3" stroke-dasharray="4.5 4.5"/>
<line x1="333.5" x2="546.4" y1="168.27" y2="168.27" stroke="#2030f0" stroke-width="1.3" stroke-dasharray="3.5 4.5"/>
</g>
<rect x="333.5" y="5.5" width="212.90" height="174.40" fill="none" stroke="#2a2a2a" stroke-width="1.2"/>
<line x1="333.5" x2="336.8" y1="179.90" y2="179.90" stroke="#222" stroke-width="0.9"/>
<text x="330" y="183.20" text-anchor="end" class="tl">1000</text>
<line x1="333.5" x2="335.2" y1="168.27" y2="168.27" stroke="#222" stroke-width="0.9"/>
<line x1="333.5" x2="336.8" y1="156.65" y2="156.65" stroke="#222" stroke-width="0.9"/>
<text x="330" y="159.95" text-anchor="end" class="tl">1100</text>
<line x1="333.5" x2="335.2" y1="145.02" y2="145.02" stroke="#222" stroke-width="0.9"/>
<line x1="333.5" x2="336.8" y1="133.39" y2="133.39" stroke="#222" stroke-width="0.9"/>
<text x="330" y="136.69" text-anchor="end" class="tl">1200</text>
<line x1="333.5" x2="335.2" y1="121.77" y2="121.77" stroke="#222" stroke-width="0.9"/>
<line x1="333.5" x2="336.8" y1="110.14" y2="110.14" stroke="#222" stroke-width="0.9"/>
<text x="330" y="113.44" text-anchor="end" class="tl">1300</text>
<line x1="333.5" x2="335.2" y1="98.51" y2="98.51" stroke="#222" stroke-width="0.9"/>
<line x1="333.5" x2="336.8" y1="86.89" y2="86.89" stroke="#222" stroke-width="0.9"/>
<text x="330" y="90.19" text-anchor="end" class="tl">1400</text>
<line x1="333.5" x2="335.2" y1="75.26" y2="75.26" stroke="#222" stroke-width="0.9"/>
<line x1="333.5" x2="336.8" y1="63.63" y2="63.63" stroke="#222" stroke-width="0.9"/>
<text x="330" y="66.93" text-anchor="end" class="tl">1500</text>
<line x1="333.5" x2="335.2" y1="52.01" y2="52.01" stroke="#222" stroke-width="0.9"/>
<line x1="333.5" x2="336.8" y1="40.38" y2="40.38" stroke="#222" stroke-width="0.9"/>
<text x="330" y="43.68" text-anchor="end" class="tl">1600</text>
<line x1="333.5" x2="335.2" y1="28.75" y2="28.75" stroke="#222" stroke-width="0.9"/>
<line x1="333.5" x2="336.8" y1="17.13" y2="17.13" stroke="#222" stroke-width="0.9"/>
<text x="330" y="20.43" text-anchor="end" class="tl">1700</text>
<line x1="333.5" x2="335.2" y1="5.50" y2="5.50" stroke="#222" stroke-width="0.9"/>
<line x1="333.50" x2="333.50" y1="179.9" y2="176.6" stroke="#222" stroke-width="0.9"/>
<text x="333.50" y="191.5" text-anchor="middle" class="tl">90</text>
<line x1="351.24" x2="351.24" y1="179.9" y2="178.20000000000002" stroke="#222" stroke-width="0.9"/>
<line x1="368.98" x2="368.98" y1="179.9" y2="176.6" stroke="#222" stroke-width="0.9"/>
<text x="368.98" y="191.5" text-anchor="middle" class="tl">100</text>
<line x1="386.73" x2="386.73" y1="179.9" y2="178.20000000000002" stroke="#222" stroke-width="0.9"/>
<line x1="404.47" x2="404.47" y1="179.9" y2="176.6" stroke="#222" stroke-width="0.9"/>
<text x="404.47" y="191.5" text-anchor="middle" class="tl">110</text>
<line x1="422.21" x2="422.21" y1="179.9" y2="178.20000000000002" stroke="#222" stroke-width="0.9"/>
<line x1="439.95" x2="439.95" y1="179.9" y2="176.6" stroke="#222" stroke-width="0.9"/>
<text x="439.95" y="191.5" text-anchor="middle" class="tl">120</text>
<line x1="457.69" x2="457.69" y1="179.9" y2="178.20000000000002" stroke="#222" stroke-width="0.9"/>
<line x1="475.43" x2="475.43" y1="179.9" y2="176.6" stroke="#222" stroke-width="0.9"/>
<text x="475.43" y="191.5" text-anchor="middle" class="tl">130</text>
<line x1="493.17" x2="493.17" y1="179.9" y2="178.20000000000002" stroke="#222" stroke-width="0.9"/>
<line x1="510.92" x2="510.92" y1="179.9" y2="176.6" stroke="#222" stroke-width="0.9"/>
<text x="510.92" y="191.5" text-anchor="middle" class="tl">140</text>
<line x1="528.66" x2="528.66" y1="179.9" y2="178.20000000000002" stroke="#222" stroke-width="0.9"/>
<line x1="546.40" x2="546.40" y1="179.9" y2="176.6" stroke="#222" stroke-width="0.9"/>
<text x="546.40" y="191.5" text-anchor="middle" class="tl">150</text>
<text transform="translate(306.8,92.7) rotate(-90)" text-anchor="middle" class="al" textLength="97.5" lengthAdjust="spacingAndGlyphs">Total Ice Resistance(kN)</text>
<text x="440.4" y="208" text-anchor="middle" class="al">Time (s)</text>
<text x="426" y="226.5" text-anchor="middle" class="pl">(<tspan font-weight="bold">b</tspan>)</text>
<line x1="361" x2="383" y1="11" y2="11" stroke="#000" stroke-width="0.9" opacity="0.9"/>
<text x="385.4" y="14.40" class="lg" textLength="50.8" lengthAdjust="spacingAndGlyphs">Coarse Mesh</text>
<line x1="361" x2="383" y1="23.4" y2="23.4" stroke="#1a66e0" stroke-width="0.9" opacity="0.9"/>
<text x="385.4" y="26.80" class="lg" textLength="41.8" lengthAdjust="spacingAndGlyphs">Fine Mesh</text>
<line x1="361" x2="383" y1="35.6" y2="35.6" stroke="#a060e0" stroke-width="0.9" opacity="0.9"/>
<text x="385.4" y="39.00" class="lg" textLength="65.5" lengthAdjust="spacingAndGlyphs">FSICR Formulas</text>
<line x1="361" x2="383" y1="48" y2="48" stroke="#f02020" stroke-width="1.3" stroke-dasharray="4.6 4.1"/>
<text x="385.4" y="51.40" class="lg" textLength="70.6" lengthAdjust="spacingAndGlyphs">Medium_Average</text>
<line x1="456" x2="478" y1="11" y2="11" stroke="#f06060" stroke-width="0.9" opacity="0.9"/>
<text x="480.4" y="14.40" class="lg" textLength="56.5" lengthAdjust="spacingAndGlyphs">Medium Mesh</text>
<line x1="456" x2="478" y1="23.4" y2="23.4" stroke="#2eaa5a" stroke-width="0.9" opacity="0.9"/>
<text x="480.4" y="26.80" class="lg" textLength="58.3" lengthAdjust="spacingAndGlyphs">EXP_Reported</text>
<line x1="456" x2="478" y1="35.6" y2="35.6" stroke="#000" stroke-width="1.3" stroke-dasharray="4.6 4.1"/>
<text x="480.4" y="39.00" class="lg" textLength="63.8" lengthAdjust="spacingAndGlyphs">Coarse_Average</text>
<line x1="456" x2="478" y1="48" y2="48" stroke="#2030f0" stroke-width="1.3" stroke-dasharray="4.6 4.1"/>
<text x="480.4" y="51.40" class="lg" textLength="55.8" lengthAdjust="spacingAndGlyphs">Fine_Average</text>
</g>
<defs><clipPath id="cclip"><rect x="39.0" y="236.6" width="209.4" height="169.7"/></clipPath>
<clipPath id="iclip"><rect x="61.3" y="239.3" width="104" height="73.2"/></clipPath></defs>
<g id="pc">
<g clip-path="url(#cclip)">
<line x1="39.0" x2="248.4" y1="357.24" y2="357.24" stroke="#3cb46e" stroke-width="1.3" stroke-dasharray="5 2 1.5 2"/>
<polyline points="39.00,360.02 39.07,345.72 39.14,338.42 39.21,339.33 39.28,341.62 39.35,344.59 39.42,347.56 39.49,349.85 39.56,350.76 39.63,350.05 39.70,348.01 39.77,344.82 39.84,340.64 39.91,335.63 39.98,329.96 40.05,323.80 40.12,317.31 40.19,310.65 40.26,303.99 40.33,297.50 40.40,291.34 40.47,285.67 40.54,280.66 40.61,276.48 40.68,273.29 40.74,271.26 40.81,270.54 40.88,270.61 40.95,270.81 41.02,271.14 41.09,271.59 41.16,272.15 41.23,272.83 41.30,273.60 41.37,274.47 41.44,275.44 41.51,276.48 41.58,277.61 41.65,278.80 41.72,280.06 41.79,281.38 42.14,288.64 42.49,296.46 42.84,304.05 43.19,310.65 43.54,316.67 43.89,322.94 44.23,329.29 44.58,335.58 44.93,341.65 45.28,347.33 45.63,352.48 45.98,356.93 46.33,360.96 46.68,364.84 47.03,368.43 47.38,371.59 47.73,374.18 48.07,376.06 48.42,377.52 48.77,378.81 49.12,379.72 49.47,380.07 49.82,379.84 50.17,379.18 50.52,378.12 50.87,376.70 51.22,374.97 51.56,372.97 51.91,370.73 52.26,368.30 52.61,365.72 52.96,363.02 53.31,360.25 53.66,357.45 54.01,354.66 54.36,351.91 54.70,349.26 55.05,346.73 55.40,344.37 55.75,342.23 56.10,340.33 56.45,338.72 56.80,337.44 57.15,336.53 57.50,336.04 57.85,335.98 58.20,336.32 58.54,336.98 58.89,337.94 59.24,339.13 59.59,340.53 59.94,342.07 60.29,343.72 60.64,345.44 60.99,347.17 61.34,348.88 61.69,350.51 62.03,352.03 62.38,353.39 62.73,354.54 63.08,355.44 63.43,356.04 63.78,356.31 64.13,356.26 64.48,356.05 64.83,355.71 65.17,355.24 65.52,354.67 65.87,354.01 66.22,353.30 66.57,352.53 66.92,351.74 67.27,350.95 67.62,350.16 67.97,349.41 68.32,348.70 68.66,348.06 69.01,347.51 69.36,347.07 69.71,346.74 70.06,346.57 70.41,346.55 70.76,346.74 71.11,347.10 71.46,347.62 71.81,348.28 72.16,349.04 72.50,349.88 72.85,350.77 73.20,351.70 73.55,352.63 73.90,353.54 74.25,354.41 74.60,355.21 74.95,355.90 75.30,356.48 75.64,356.91 75.99,357.17 76.34,357.24 76.69,357.09 77.04,356.76 77.39,356.27 77.74,355.64 78.09,354.90 78.44,354.07 78.79,353.18 79.14,352.26 79.48,351.33 79.83,350.41 80.18,349.53 80.53,348.72 80.88,348.00 81.23,347.40 81.58,346.94 81.93,346.64 82.28,346.53 82.62,346.65 82.97,347.00 83.32,347.54 83.67,348.26 84.02,349.12 84.37,350.11 84.72,351.20 85.07,352.37 85.42,353.58 85.77,354.82 86.12,356.06 86.46,357.27 86.81,358.44 87.16,359.52 87.51,360.51 87.86,361.38 88.21,362.10 88.56,362.64 88.91,362.98 89.26,363.10 89.61,363.05 89.95,362.91 90.30,362.68 90.65,362.37 91.00,362.00 91.35,361.56 91.70,361.07 92.05,360.54 92.40,359.98 92.75,359.39 93.09,358.78 93.44,358.17 93.79,357.55 94.14,356.94 94.49,356.35 94.84,355.79 95.19,355.26 95.54,354.77 95.89,354.34 96.24,353.96 96.59,353.65 96.93,353.42 97.28,353.28 97.63,353.23 97.98,353.28 98.33,353.41 98.68,353.62 99.03,353.90 99.38,354.24 99.73,354.63 100.08,355.07 100.42,355.55 100.77,356.06 101.12,356.59 101.47,357.14 101.82,357.69 102.17,358.24 102.52,358.78 102.87,359.31 103.22,359.81 103.57,360.27 103.91,360.69 104.26,361.07 104.61,361.39 104.96,361.64 105.31,361.82 105.66,361.91 106.01,361.92 106.36,361.85 106.71,361.70 107.06,361.49 107.40,361.22 107.75,360.89 108.10,360.52 108.45,360.12 108.80,359.69 109.15,359.23 109.50,358.76 109.85,358.29 110.20,357.81 110.55,357.35 110.89,356.90 111.24,356.48 111.59,356.09 111.94,355.74 112.29,355.43 112.64,355.18 112.99,354.99 113.34,354.88 113.69,354.83 114.03,354.87 114.38,354.97 114.73,355.13 115.08,355.34 115.43,355.60 115.78,355.90 116.13,356.23 116.48,356.60 116.83,356.98 117.18,357.38 117.53,357.79 117.87,358.21 118.22,358.62 118.57,359.03 118.92,359.41 119.27,359.78 119.62,360.12 119.97,360.43 120.32,360.70 120.67,360.92 121.02,361.09 121.36,361.20 121.71,361.25 122.06,361.22 122.41,361.10 122.76,360.90 123.11,360.62 123.46,360.27 123.81,359.87 124.16,359.43 124.50,358.94 124.85,358.43 125.20,357.90 125.55,357.35 125.90,356.80 126.25,356.27 126.60,355.74 126.95,355.25 127.30,354.78 127.65,354.36 128.00,354.00 128.34,353.69 128.69,353.45 129.04,353.30 129.39,353.23 129.74,353.25 130.09,353.32 130.44,353.44 130.79,353.61 131.14,353.82 131.49,354.07 131.83,354.36 132.18,354.67 132.53,355.01 132.88,355.37 133.23,355.74 133.58,356.13 133.93,356.53 134.28,356.93 134.63,357.33 134.97,357.73 135.32,358.12 135.67,358.50 136.02,358.86 136.37,359.20 136.72,359.51 137.07,359.79 137.42,360.04 137.77,360.25 138.12,360.42 138.47,360.54 138.81,360.62 139.16,360.63 139.51,360.57 139.86,360.44 140.21,360.23 140.56,359.96 140.91,359.64 141.26,359.27 141.61,358.87 141.95,358.45 142.30,358.00 142.65,357.55 143.00,357.10 143.35,356.65 143.70,356.23 144.05,355.83 144.40,355.46 144.75,355.14 145.10,354.87 145.44,354.66 145.79,354.53 146.14,354.47 146.49,354.48 146.84,354.54 147.19,354.63 147.54,354.76 147.89,354.93 148.24,355.12 148.59,355.33 148.94,355.57 149.28,355.82 149.63,356.08 149.98,356.35 150.33,356.62 150.68,356.90 151.03,357.17 151.38,357.43 151.73,357.68 152.08,357.91 152.43,358.13 152.77,358.32 153.12,358.48 153.47,358.62 153.82,358.71 154.17,358.77 154.52,358.78 154.87,358.76 155.22,358.69 155.57,358.60 155.92,358.48 156.26,358.33 156.61,358.17 156.96,357.99 157.31,357.80 157.66,357.60 158.01,357.40 158.36,357.19 158.71,356.99 159.06,356.80 159.40,356.62 159.75,356.46 160.10,356.31 160.45,356.19 160.80,356.10 161.15,356.03 161.50,356.01 161.85,356.02 162.20,356.06 162.55,356.13 162.90,356.22 163.24,356.34 163.59,356.48 163.94,356.63 164.29,356.79 164.64,356.96 164.99,357.13 165.34,357.31 165.69,357.49 166.04,357.66 166.38,357.82 166.73,357.98 167.08,358.12 167.43,358.24 167.78,358.34 168.13,358.41 168.48,358.46 168.83,358.48 169.18,358.46 169.53,358.40 169.88,358.32 170.22,358.21 170.57,358.08 170.92,357.92 171.27,357.76 171.62,357.58 171.97,357.39 172.32,357.20 172.67,357.02 173.02,356.83 173.37,356.66 173.71,356.50 174.06,356.35 174.41,356.23 174.76,356.13 175.11,356.05 175.46,356.01 175.81,356.01 176.16,356.04 176.51,356.09 176.85,356.17 177.20,356.27 177.55,356.38 177.90,356.51 178.25,356.65 178.60,356.80 178.95,356.96 179.30,357.12 179.65,357.28 180.00,357.43 180.35,357.58 180.69,357.72 181.04,357.84 181.39,357.95 181.74,358.04 182.09,358.11 182.44,358.15 182.79,358.17 183.14,358.16 183.49,358.15 183.84,358.13 184.18,358.09 184.53,358.06 184.88,358.01 185.23,357.96 185.58,357.90 185.93,357.84 186.28,357.78 186.63,357.71 186.98,357.64 187.33,357.56 187.67,357.49 188.02,357.41 188.37,357.33 188.72,357.26 189.07,357.18 189.42,357.11 189.77,357.03 190.12,356.96 190.47,356.90 190.81,356.84 191.16,356.78 191.51,356.73 191.86,356.68 192.21,356.64 192.56,356.61 192.91,356.59 193.26,356.57 193.61,356.56 193.96,356.57 194.31,356.58 194.65,356.60 195.00,356.63 195.35,356.67 195.70,356.72 196.05,356.77 196.40,356.83 196.75,356.89 197.10,356.96 197.45,357.02 197.79,357.09 198.14,357.17 198.49,357.24 198.84,357.31 199.19,357.38 199.54,357.44 199.89,357.51 200.24,357.57 200.59,357.62 200.94,357.67 201.28,357.71 201.63,357.75 201.98,357.77 202.33,357.79 202.68,357.80 203.03,357.79 203.38,357.78 203.73,357.77 204.08,357.74 204.43,357.71 204.78,357.67 205.12,357.63 205.47,357.58 205.82,357.52 206.17,357.46 206.52,357.40 206.87,357.33 207.22,357.26 207.57,357.19 207.92,357.11 208.27,357.04 208.61,356.96 208.96,356.88 209.31,356.80 209.66,356.72 210.01,356.63 210.36,356.55 210.71,356.47 211.06,356.40 211.41,356.32 211.75,356.25 212.10,356.18 212.45,356.11 212.80,356.04 213.15,355.98 213.50,355.93 213.85,355.88 214.20,355.83 214.55,355.79 214.90,355.76 215.25,355.73 215.59,355.71 215.94,355.70 216.29,355.70 216.64,355.71 216.99,355.72 217.34,355.76 217.69,355.80 218.04,355.85 218.39,355.91 218.73,355.98 219.08,356.05 219.43,356.13 219.78,356.22 220.13,356.31 220.48,356.40 220.83,356.49 221.18,356.58 221.53,356.68 221.88,356.77 222.22,356.86 222.57,356.94 222.92,357.03 223.27,357.10 223.62,357.17 223.97,357.23 224.32,357.29 224.67,357.33 225.02,357.36 225.37,357.39 225.72,357.40 226.06,357.39 226.41,357.37 226.76,357.34 227.11,357.30 227.46,357.24 227.81,357.17 228.16,357.10 228.51,357.01 228.86,356.92 229.21,356.82 229.55,356.71 229.90,356.60 230.25,356.49 230.60,356.37 230.95,356.25 231.30,356.13 231.65,356.00 232.00,355.88 232.35,355.76 232.70,355.64 233.04,355.53 233.39,355.41 233.74,355.31 234.09,355.21 234.44,355.11 234.79,355.03 235.14,354.95 235.49,354.88 235.84,354.82 236.19,354.77 236.53,354.74 236.88,354.72 237.23,354.71 237.58,354.71 237.93,354.72 238.28,354.74 238.63,354.76 238.98,354.79 239.33,354.82 239.68,354.86 240.02,354.91 240.37,354.96 240.72,355.02 241.07,355.08 241.42,355.15 241.77,355.23 242.12,355.31 242.47,355.39 242.82,355.49 243.16,355.59 243.51,355.69 243.86,355.80 244.21,355.91 244.56,356.03 244.91,356.16 245.26,356.29 245.61,356.43 245.96,356.57 246.31,356.71 246.66,356.87 247.00,357.02 247.35,357.19 247.70,357.35 248.05,357.53 248.40,357.70" fill="none" stroke="#2b2b2b" stroke-width="1.25" stroke-linejoin="round"/>
<polyline points="39.00,360.02 39.07,339.48 39.14,329.16 39.21,330.29 39.28,332.96 39.35,336.16 39.42,338.84 39.49,339.96 39.56,339.50 39.63,338.15 39.70,336.01 39.77,333.16 39.84,329.68 39.91,325.65 39.98,321.17 40.05,316.31 40.12,311.15 40.19,305.79 40.26,300.30 40.33,294.77 40.40,289.28 40.47,283.92 40.54,278.77 40.61,273.91 40.68,269.42 40.74,265.40 40.81,261.92 40.88,259.07 40.95,256.93 41.02,255.58 41.09,255.11 41.16,255.18 41.23,255.38 41.30,255.70 41.37,256.15 41.44,256.71 41.51,257.37 41.58,258.14 41.65,259.01 41.72,259.97 41.79,261.01 42.14,267.33 42.49,274.95 42.84,283.16 43.19,291.27 43.54,298.55 43.89,304.98 44.23,311.55 44.58,318.22 44.93,324.91 45.28,331.54 45.63,338.02 45.98,344.28 46.33,350.23 46.68,356.10 47.03,362.27 47.38,368.44 47.73,374.26 48.07,379.39 48.42,383.50 48.77,386.24 49.12,388.14 49.47,389.86 49.82,391.27 50.17,392.26 50.52,392.71 50.87,392.49 51.22,391.58 51.56,390.04 51.91,387.96 52.26,385.39 52.61,382.41 52.96,379.10 53.31,375.51 53.66,371.73 54.01,367.82 54.36,363.85 54.70,359.90 55.05,356.03 55.40,352.32 55.75,348.83 56.10,345.64 56.45,342.82 56.80,340.44 57.15,338.56 57.50,337.27 57.85,336.63 58.20,336.60 58.54,336.78 58.89,337.11 59.24,337.58 59.59,338.17 59.94,338.88 60.29,339.70 60.64,340.61 60.99,341.61 61.34,342.67 61.69,343.80 62.03,344.97 62.38,346.18 62.73,347.41 63.08,348.66 63.43,349.91 63.78,351.15 64.13,352.37 64.48,353.56 64.83,354.70 65.17,355.79 65.52,356.82 65.87,357.76 66.22,358.62 66.57,359.38 66.92,360.02 67.27,360.54 67.62,360.93 67.97,361.17 68.32,361.25 68.66,361.25 69.01,361.23 69.36,361.20 69.71,361.15 70.06,361.10 70.41,361.04 70.76,360.97 71.11,360.89 71.46,360.81 71.81,360.72 72.16,360.63 72.50,360.53 72.85,360.43 73.20,360.33 73.55,360.23 73.90,360.12 74.25,360.02 74.60,359.92 74.95,359.82 75.30,359.73 75.64,359.64 75.99,359.55 76.34,359.47 76.69,359.40 77.04,359.33 77.39,359.26 77.74,359.18 78.09,359.10 78.44,359.02 78.79,358.93 79.14,358.85 79.48,358.77 79.83,358.69 80.18,358.61 80.53,358.54 80.88,358.47 81.23,358.41 81.58,358.35 81.93,358.30 82.28,358.25 82.62,358.22 82.97,358.19 83.32,358.17 83.67,358.17 84.02,358.17 84.37,358.19 84.72,358.22 85.07,358.26 85.42,358.31 85.77,358.37 86.12,358.43 86.46,358.49 86.81,358.56 87.16,358.63 87.51,358.70 87.86,358.77 88.21,358.83 88.56,358.89 88.91,358.95 89.26,359.00 89.61,359.04 89.95,359.07 90.30,359.09 90.65,359.09 91.00,359.09 91.35,359.08 91.70,359.05 92.05,359.03 92.40,358.99 92.75,358.95 93.09,358.90 93.44,358.85 93.79,358.80 94.14,358.73 94.49,358.67 94.84,358.60 95.19,358.54 95.54,358.47 95.89,358.39 96.24,358.32 96.59,358.25 96.93,358.18 97.28,358.11 97.63,358.04 97.98,357.97 98.33,357.91 98.68,357.85 99.03,357.79 99.38,357.74 99.73,357.69 100.08,357.65 100.42,357.62 100.77,357.59 101.12,357.57 101.47,357.55 101.82,357.55 102.17,357.55 102.52,357.56 102.87,357.58 103.22,357.60 103.57,357.63 103.91,357.66 104.26,357.69 104.61,357.73 104.96,357.78 105.31,357.82 105.66,357.87 106.01,357.91 106.36,357.96 106.71,358.01 107.06,358.06 107.40,358.11 107.75,358.16 108.10,358.21 108.45,358.25 108.80,358.29 109.15,358.33 109.50,358.37 109.85,358.40 110.20,358.42 110.55,358.45 110.89,358.46 111.24,358.47 111.59,358.48 111.94,358.47 112.29,358.46 112.64,358.44 112.99,358.42 113.34,358.39 113.69,358.36 114.03,358.32 114.38,358.28 114.73,358.24 115.08,358.19 115.43,358.14 115.78,358.08 116.13,358.03 116.48,357.97 116.83,357.92 117.18,357.86 117.53,357.80 117.87,357.74 118.22,357.69 118.57,357.63 118.92,357.58 119.27,357.53 119.62,357.48 119.97,357.43 120.32,357.39 120.67,357.36 121.02,357.32 121.36,357.29 121.71,357.27 122.06,357.26 122.41,357.24 122.76,357.24 123.11,357.24 123.46,357.25 123.81,357.27 124.16,357.29 124.50,357.31 124.85,357.34 125.20,357.37 125.55,357.41 125.90,357.45 126.25,357.49 126.60,357.54 126.95,357.58 127.30,357.63 127.65,357.68 128.00,357.73 128.34,357.78 128.69,357.83 129.04,357.88 129.39,357.93 129.74,357.98 130.09,358.03 130.44,358.07 130.79,358.11 131.14,358.15 131.49,358.19 131.83,358.22 132.18,358.25 132.53,358.27 132.88,358.29 133.23,358.31 133.58,358.32 133.93,358.32 134.28,358.32 134.63,358.30 134.97,358.28 135.32,358.25 135.67,358.22 136.02,358.18 136.37,358.13 136.72,358.08 137.07,358.02 137.42,357.96 137.77,357.90 138.12,357.84 138.47,357.77 138.81,357.70 139.16,357.64 139.51,357.57 139.86,357.51 140.21,357.45 140.56,357.39 140.91,357.33 141.26,357.28 141.61,357.23 141.95,357.19 142.30,357.16 142.65,357.13 143.00,357.10 143.35,357.09 143.70,357.09 144.05,357.09 144.40,357.10 144.75,357.11 145.10,357.13 145.44,357.16 145.79,357.19 146.14,357.22 146.49,357.26 146.84,357.30 147.19,357.34 147.54,357.38 147.89,357.43 148.24,357.48 148.59,357.53 148.94,357.58 149.28,357.63 149.63,357.68 149.98,357.73 150.33,357.78 150.68,357.83 151.03,357.87 151.38,357.92 151.73,357.96 152.08,358.00 152.43,358.03 152.77,358.07 153.12,358.10 153.47,358.12 153.82,358.14 154.17,358.15 154.52,358.16 154.87,358.17 155.22,358.16 155.57,358.15 155.92,358.13 156.26,358.11 156.61,358.08 156.96,358.04 157.31,358.00 157.66,357.95 158.01,357.90 158.36,357.85 158.71,357.80 159.06,357.74 159.40,357.68 159.75,357.63 160.10,357.57 160.45,357.51 160.80,357.46 161.15,357.40 161.50,357.35 161.85,357.30 162.20,357.26 162.55,357.21 162.90,357.18 163.24,357.15 163.59,357.12 163.94,357.10 164.29,357.09 164.64,357.09 164.99,357.09 165.34,357.10 165.69,357.12 166.04,357.15 166.38,357.18 166.73,357.21 167.08,357.26 167.43,357.30 167.78,357.35 168.13,357.40 168.48,357.46 168.83,357.51 169.18,357.57 169.53,357.63 169.88,357.68 170.22,357.74 170.57,357.80 170.92,357.85 171.27,357.90 171.62,357.95 171.97,358.00 172.32,358.04 172.67,358.08 173.02,358.11 173.37,358.13 173.71,358.15 174.06,358.16 174.41,358.17 174.76,358.17 175.11,358.16 175.46,358.16 175.81,358.15 176.16,358.14 176.51,358.13 176.85,358.12 177.20,358.11 177.55,358.09 177.90,358.08 178.25,358.06 178.60,358.04 178.95,358.02 179.30,358.00 179.65,357.98 180.00,357.96 180.35,357.94 180.69,357.91 181.04,357.89 181.39,357.86 181.74,357.84 182.09,357.81 182.44,357.78 182.79,357.76 183.14,357.73 183.49,357.71 183.84,357.68 184.18,357.65 184.53,357.63 184.88,357.60 185.23,357.57 185.58,357.55 185.93,357.52 186.28,357.49 186.63,357.46 186.98,357.42 187.33,357.38 187.67,357.34 188.02,357.29 188.37,357.25 188.72,357.20 189.07,357.16 189.42,357.11 189.77,357.07 190.12,357.03 190.47,356.99 190.81,356.95 191.16,356.91 191.51,356.88 191.86,356.86 192.21,356.84 192.56,356.82 192.91,356.81 193.26,356.81 193.61,356.81 193.96,356.82 194.31,356.84 194.65,356.87 195.00,356.90 195.35,356.94 195.70,356.98 196.05,357.03 196.40,357.08 196.75,357.13 197.10,357.19 197.45,357.25 197.79,357.31 198.14,357.38 198.49,357.44 198.84,357.51 199.19,357.57 199.54,357.64 199.89,357.70 200.24,357.76 200.59,357.83 200.94,357.88 201.28,357.94 201.63,357.99 201.98,358.04 202.33,358.08 202.68,358.12 203.03,358.16 203.38,358.19 203.73,358.21 204.08,358.22 204.43,358.23 204.78,358.23 205.12,358.22 205.47,358.21 205.82,358.19 206.17,358.16 206.52,358.13 206.87,358.10 207.22,358.06 207.57,358.02 207.92,357.98 208.27,357.93 208.61,357.88 208.96,357.83 209.31,357.78 209.66,357.73 210.01,357.67 210.36,357.62 210.71,357.57 211.06,357.52 211.41,357.46 211.75,357.42 212.10,357.37 212.45,357.32 212.80,357.28 213.15,357.25 213.50,357.21 213.85,357.18 214.20,357.16 214.55,357.14 214.90,357.13 215.25,357.12 215.59,357.12 215.94,357.13 216.29,357.15 216.64,357.18 216.99,357.21 217.34,357.26 217.69,357.31 218.04,357.37 218.39,357.43 218.73,357.49 219.08,357.56 219.43,357.63 219.78,357.71 220.13,357.78 220.48,357.85 220.83,357.92 221.18,357.99 221.53,358.06 221.88,358.12 222.22,358.18 222.57,358.23 222.92,358.28 223.27,358.32 223.62,358.35 223.97,358.37 224.32,358.38 224.67,358.38 225.02,358.37 225.37,358.34 225.72,358.29 226.06,358.24 226.41,358.17 226.76,358.10 227.11,358.02 227.46,357.93 227.81,357.84 228.16,357.75 228.51,357.66 228.86,357.57 229.21,357.48 229.55,357.40 229.90,357.33 230.25,357.26 230.60,357.21 230.95,357.16 231.30,357.13 231.65,357.12 232.00,357.12 232.35,357.13 232.70,357.15 233.04,357.17 233.39,357.20 233.74,357.24 234.09,357.27 234.44,357.31 234.79,357.36 235.14,357.40 235.49,357.44 235.84,357.48 236.19,357.51 236.53,357.55 236.88,357.57 237.23,357.59 237.58,357.61 237.93,357.61 238.28,357.61 238.63,357.61 238.98,357.61 239.33,357.61 239.68,357.61 240.02,357.61 240.37,357.61 240.72,357.61 241.07,357.61 241.42,357.61 241.77,357.61 242.12,357.61 242.47,357.61 242.82,357.61 243.16,357.60 243.51,357.60 243.86,357.60 244.21,357.60 244.56,357.60 244.91,357.59 245.26,357.59 245.61,357.59 245.96,357.58 246.31,357.58 246.66,357.58 247.00,357.57 247.35,357.57 247.70,357.56 248.05,357.56 248.40,357.55" fill="none" stroke="#f03c3c" stroke-width="1.25" stroke-linejoin="round"/>
<polyline points="39.00,360.02 39.07,254.39 39.14,228.94 39.21,244.33 39.28,269.80 39.35,297.61 39.42,319.98 39.49,329.16 39.56,328.57 39.63,326.88 39.70,324.20 39.77,320.66 39.84,316.38 39.91,311.48 39.98,306.08 40.05,300.31 40.12,294.29 40.19,288.13 40.26,281.96 40.33,275.89 40.40,270.06 40.47,264.58 40.54,259.58 40.61,255.16 40.68,251.47 40.74,248.61 40.81,246.70 40.88,245.88 40.95,245.90 41.02,246.09 41.09,246.41 41.16,246.87 41.23,247.45 41.30,248.14 41.37,248.95 41.44,249.87 41.51,250.89 41.58,252.00 41.65,253.20 41.72,254.49 41.79,255.85 42.14,263.59 42.49,272.34 42.84,281.36 43.19,289.88 43.54,297.20 43.89,304.16 44.23,311.26 44.58,318.41 44.93,325.50 45.28,332.44 45.63,339.11 45.98,345.43 46.33,351.29 46.68,357.15 47.03,363.09 47.38,368.92 47.73,374.46 48.07,379.50 48.42,383.85 48.77,387.32 49.12,389.74 49.47,391.73 49.82,393.59 50.17,395.24 50.52,396.61 50.87,397.61 51.22,398.18 51.56,398.23 51.91,397.68 52.26,396.56 52.61,394.94 52.96,392.87 53.31,390.41 53.66,387.61 54.01,384.52 54.36,381.22 54.70,377.74 55.05,374.15 55.40,370.51 55.75,366.86 56.10,363.28 56.45,359.80 56.80,356.49 57.15,353.41 57.50,350.61 57.85,348.15 58.20,346.08 58.54,344.46 58.89,343.34 59.24,342.79 59.59,342.76 59.94,342.90 60.29,343.16 60.64,343.52 60.99,343.99 61.34,344.56 61.69,345.21 62.03,345.94 62.38,346.74 62.73,347.60 63.08,348.52 63.43,349.49 63.78,350.50 64.13,351.54 64.48,352.61 64.83,353.69 65.17,354.79 65.52,355.88 65.87,356.97 66.22,358.04 66.57,359.09 66.92,360.12 67.27,361.10 67.62,362.04 67.97,362.93 68.32,363.76 68.66,364.52 69.01,365.20 69.36,365.80 69.71,366.31 70.06,366.72 70.41,367.02 70.76,367.21 71.11,367.27 71.46,367.23 71.81,367.11 72.16,366.92 72.50,366.67 72.85,366.35 73.20,365.98 73.55,365.56 73.90,365.09 74.25,364.58 74.60,364.04 74.95,363.46 75.30,362.86 75.64,362.24 75.99,361.61 76.34,360.97 76.69,360.32 77.04,359.67 77.39,359.04 77.74,358.41 78.09,357.80 78.44,357.21 78.79,356.64 79.14,356.11 79.48,355.62 79.83,355.17 80.18,354.76 80.53,354.41 80.88,354.12 81.23,353.89 81.58,353.73 81.93,353.65 82.28,353.64 82.62,353.72 82.97,353.90 83.32,354.15 83.67,354.47 84.02,354.85 84.37,355.29 84.72,355.78 85.07,356.30 85.42,356.85 85.77,357.43 86.12,358.01 86.46,358.60 86.81,359.19 87.16,359.77 87.51,360.33 87.86,360.86 88.21,361.35 88.56,361.80 88.91,362.19 89.26,362.53 89.61,362.79 89.95,362.98 90.30,363.09 90.65,363.10 91.00,363.06 91.35,362.97 91.70,362.84 92.05,362.67 92.40,362.47 92.75,362.24 93.09,361.98 93.44,361.70 93.79,361.40 94.14,361.09 94.49,360.77 94.84,360.44 95.19,360.11 95.54,359.77 95.89,359.45 96.24,359.13 96.59,358.82 96.93,358.53 97.28,358.26 97.63,358.01 97.98,357.79 98.33,357.60 98.68,357.45 99.03,357.34 99.38,357.27 99.73,357.24 100.08,357.26 100.42,357.31 100.77,357.38 101.12,357.48 101.47,357.61 101.82,357.75 102.17,357.91 102.52,358.08 102.87,358.26 103.22,358.44 103.57,358.63 103.91,358.82 104.26,359.00 104.61,359.18 104.96,359.35 105.31,359.51 105.66,359.65 106.01,359.78 106.36,359.88 106.71,359.95 107.06,360.00 107.40,360.02 107.75,360.01 108.10,359.99 108.45,359.96 108.80,359.91 109.15,359.86 109.50,359.79 109.85,359.72 110.20,359.65 110.55,359.57 110.89,359.49 111.24,359.40 111.59,359.32 111.94,359.23 112.29,359.15 112.64,359.08 112.99,359.01 113.34,358.95 113.69,358.89 114.03,358.85 114.38,358.81 114.73,358.79 115.08,358.78 115.43,358.80 115.78,358.83 116.13,358.89 116.48,358.96 116.83,359.05 117.18,359.16 117.53,359.27 117.87,359.39 118.22,359.52 118.57,359.66 118.92,359.79 119.27,359.92 119.62,360.05 119.97,360.17 120.32,360.28 120.67,360.39 121.02,360.47 121.36,360.54 121.71,360.60 122.06,360.63 122.41,360.63 122.76,360.62 123.11,360.60 123.46,360.55 123.81,360.50 124.16,360.43 124.50,360.35 124.85,360.27 125.20,360.17 125.55,360.08 125.90,359.97 126.25,359.86 126.60,359.75 126.95,359.64 127.30,359.53 127.65,359.43 128.00,359.32 128.34,359.23 128.69,359.13 129.04,359.05 129.39,358.97 129.74,358.91 130.09,358.86 130.44,358.82 130.79,358.79 131.14,358.78 131.49,358.79 131.83,358.81 132.18,358.83 132.53,358.86 132.88,358.91 133.23,358.95 133.58,359.01 133.93,359.06 134.28,359.13 134.63,359.19 134.97,359.26 135.32,359.32 135.67,359.39 136.02,359.46 136.37,359.52 136.72,359.58 137.07,359.64 137.42,359.70 137.77,359.74 138.12,359.78 138.47,359.82 138.81,359.84 139.16,359.86 139.51,359.86 139.86,359.86 140.21,359.85 140.56,359.82 140.91,359.80 141.26,359.76 141.61,359.72 141.95,359.67 142.30,359.62 142.65,359.56 143.00,359.50 143.35,359.44 143.70,359.38 144.05,359.31 144.40,359.25 144.75,359.18 145.10,359.12 145.44,359.05 145.79,358.99 146.14,358.93 146.49,358.87 146.84,358.82 147.19,358.78 147.54,358.73 147.89,358.70 148.24,358.67 148.59,358.65 148.94,358.63 149.28,358.63 149.63,358.63 149.98,358.65 150.33,358.66 150.68,358.69 151.03,358.72 151.38,358.76 151.73,358.80 152.08,358.84 152.43,358.89 152.77,358.94 153.12,359.00 153.47,359.05 153.82,359.11 154.17,359.17 154.52,359.23 154.87,359.28 155.22,359.34 155.57,359.39 155.92,359.45 156.26,359.50 156.61,359.54 156.96,359.58 157.31,359.62 157.66,359.65 158.01,359.68 158.36,359.69 158.71,359.71 159.06,359.71 159.40,359.71 159.75,359.69 160.10,359.68 160.45,359.65 160.80,359.62 161.15,359.58 161.50,359.54 161.85,359.50 162.20,359.45 162.55,359.39 162.90,359.34 163.24,359.28 163.59,359.23 163.94,359.17 164.29,359.11 164.64,359.05 164.99,359.00 165.34,358.94 165.69,358.89 166.04,358.84 166.38,358.80 166.73,358.76 167.08,358.72 167.43,358.69 167.78,358.66 168.13,358.65 168.48,358.63 168.83,358.63 169.18,358.63 169.53,358.65 169.88,358.67 170.22,358.70 170.57,358.73 170.92,358.77 171.27,358.82 171.62,358.87 171.97,358.92 172.32,358.98 172.67,359.03 173.02,359.09 173.37,359.15 173.71,359.21 174.06,359.26 174.41,359.32 174.76,359.37 175.11,359.41 175.46,359.45 175.81,359.49 176.16,359.52 176.51,359.54 176.85,359.55 177.20,359.56 177.55,359.55 177.90,359.55 178.25,359.55 178.60,359.55 178.95,359.54 179.30,359.54 179.65,359.53 180.00,359.52 180.35,359.52 180.69,359.51 181.04,359.50 181.39,359.49 181.74,359.47 182.09,359.46 182.44,359.45 182.79,359.44 183.14,359.42 183.49,359.41 183.84,359.39 184.18,359.38 184.53,359.36 184.88,359.34 185.23,359.33 185.58,359.31 185.93,359.28 186.28,359.24 186.63,359.19 186.98,359.13 187.33,359.05 187.67,358.97 188.02,358.88 188.37,358.79 188.72,358.69 189.07,358.59 189.42,358.49 189.77,358.38 190.12,358.28 190.47,358.18 190.81,358.09 191.16,358.00 191.51,357.91 191.86,357.84 192.21,357.78 192.56,357.72 192.91,357.68 193.26,357.65 193.61,357.64 193.96,357.65 194.31,357.66 194.65,357.69 195.00,357.73 195.35,357.78 195.70,357.83 196.05,357.90 196.40,357.97 196.75,358.05 197.10,358.14 197.45,358.23 197.79,358.33 198.14,358.43 198.49,358.53 198.84,358.64 199.19,358.74 199.54,358.85 199.89,358.96 200.24,359.07 200.59,359.17 200.94,359.27 201.28,359.37 201.63,359.46 201.98,359.55 202.33,359.64 202.68,359.72 203.03,359.79 203.38,359.85 203.73,359.90 204.08,359.95 204.43,359.98 204.78,360.01 205.12,360.02 205.47,360.02 205.82,360.00 206.17,359.96 206.52,359.92 206.87,359.86 207.22,359.79 207.57,359.71 207.92,359.62 208.27,359.52 208.61,359.41 208.96,359.30 209.31,359.19 209.66,359.07 210.01,358.96 210.36,358.84 210.71,358.72 211.06,358.60 211.41,358.49 211.75,358.38 212.10,358.28 212.45,358.18 212.80,358.09 213.15,358.01 213.50,357.94 213.85,357.89 214.20,357.84 214.55,357.81 214.90,357.80 215.25,357.80 215.59,357.81 215.94,357.84 216.29,357.88 216.64,357.93 216.99,357.99 217.34,358.06 217.69,358.14 218.04,358.22 218.39,358.31 218.73,358.40 219.08,358.50 219.43,358.61 219.78,358.71 220.13,358.82 220.48,358.93 220.83,359.04 221.18,359.14 221.53,359.25 221.88,359.35 222.22,359.45 222.57,359.54 222.92,359.63 223.27,359.71 223.62,359.78 223.97,359.85 224.32,359.91 224.67,359.95 225.02,359.99 225.37,360.01 225.72,360.02 226.06,360.01 226.41,360.00 226.76,359.98 227.11,359.94 227.46,359.90 227.81,359.85 228.16,359.79 228.51,359.72 228.86,359.65 229.21,359.58 229.55,359.50 229.90,359.41 230.25,359.32 230.60,359.23 230.95,359.14 231.30,359.05 231.65,358.96 232.00,358.86 232.35,358.77 232.70,358.69 233.04,358.60 233.39,358.52 233.74,358.44 234.09,358.37 234.44,358.30 234.79,358.24 235.14,358.18 235.49,358.14 235.84,358.10 236.19,358.07 236.53,358.05 236.88,358.04 237.23,358.04 237.58,358.04 237.93,358.04 238.28,358.05 238.63,358.05 238.98,358.05 239.33,358.05 239.68,358.06 240.02,358.07 240.37,358.07 240.72,358.08 241.07,358.09 241.42,358.10 241.77,358.11 242.12,358.13 242.47,358.15 242.82,358.16 243.16,358.18 243.51,358.21 243.86,358.23 244.21,358.26 244.56,358.29 244.91,358.32 245.26,358.36 245.61,358.39 245.96,358.44 246.31,358.48 246.66,358.53 247.00,358.58 247.35,358.63 247.70,358.69 248.05,358.75 248.40,358.81" fill="none" stroke="#2a7ae6" stroke-width="1.25" stroke-linejoin="round"/>
</g>
<rect x="39.0" y="236.6" width="209.40" height="169.70" fill="none" stroke="#2a2a2a" stroke-width="1.2"/>
<line x1="39.0" x2="40.6" y1="406.30" y2="406.30" stroke="#222" stroke-width="0.9"/>
<line x1="39.0" x2="42.0" y1="390.87" y2="390.87" stroke="#222" stroke-width="0.9"/>
<text x="35" y="394.27" text-anchor="end" class="tl">-1000</text>
<line x1="39.0" x2="40.6" y1="375.45" y2="375.45" stroke="#222" stroke-width="0.9"/>
<line x1="39.0" x2="42.0" y1="360.02" y2="360.02" stroke="#222" stroke-width="0.9"/>
<text x="35" y="363.42" text-anchor="end" class="tl">0</text>
<line x1="39.0" x2="40.6" y1="344.59" y2="344.59" stroke="#222" stroke-width="0.9"/>
<line x1="39.0" x2="42.0" y1="329.16" y2="329.16" stroke="#222" stroke-width="0.9"/>
<text x="35" y="332.56" text-anchor="end" class="tl">1000</text>
<line x1="39.0" x2="40.6" y1="313.74" y2="313.74" stroke="#222" stroke-width="0.9"/>
<line x1="39.0" x2="42.0" y1="298.31" y2="298.31" stroke="#222" stroke-width="0.9"/>
<text x="35" y="301.71" text-anchor="end" class="tl">2000</text>
<line x1="39.0" x2="40.6" y1="282.88" y2="282.88" stroke="#222" stroke-width="0.9"/>
<line x1="39.0" x2="42.0" y1="267.45" y2="267.45" stroke="#222" stroke-width="0.9"/>
<text x="35" y="270.85" text-anchor="end" class="tl">3000</text>
<line x1="39.0" x2="40.6" y1="252.03" y2="252.03" stroke="#222" stroke-width="0.9"/>
<line x1="39.0" x2="42.0" y1="236.60" y2="236.60" stroke="#222" stroke-width="0.9"/>
<text x="35" y="240.00" text-anchor="end" class="tl">4000</text>
<line x1="39.00" x2="39.00" y1="406.3" y2="403.3" stroke="#222" stroke-width="0.9"/>
<text x="39.00" y="417.5" text-anchor="middle" class="tl">0</text>
<line x1="49.47" x2="49.47" y1="406.3" y2="404.7" stroke="#222" stroke-width="0.9"/>
<line x1="59.94" x2="59.94" y1="406.3" y2="403.3" stroke="#222" stroke-width="0.9"/>
<text x="59.94" y="417.5" text-anchor="middle" class="tl">15</text>
<line x1="70.41" x2="70.41" y1="406.3" y2="404.7" stroke="#222" stroke-width="0.9"/>
<line x1="80.88" x2="80.88" y1="406.3" y2="403.3" stroke="#222" stroke-width="0.9"/>
<text x="80.88" y="417.5" text-anchor="middle" class="tl">30</text>
<line x1="91.35" x2="91.35" y1="406.3" y2="404.7" stroke="#222" stroke-width="0.9"/>
<line x1="101.82" x2="101.82" y1="406.3" y2="403.3" stroke="#222" stroke-width="0.9"/>
<text x="101.82" y="417.5" text-anchor="middle" class="tl">45</text>
<line x1="112.29" x2="112.29" y1="406.3" y2="404.7" stroke="#222" stroke-width="0.9"/>
<line x1="122.76" x2="122.76" y1="406.3" y2="403.3" stroke="#222" stroke-width="0.9"/>
<text x="122.76" y="417.5" text-anchor="middle" class="tl">60</text>
<line x1="133.23" x2="133.23" y1="406.3" y2="404.7" stroke="#222" stroke-width="0.9"/>
<line x1="143.70" x2="143.70" y1="406.3" y2="403.3" stroke="#222" stroke-width="0.9"/>
<text x="143.70" y="417.5" text-anchor="middle" class="tl">75</text>
<line x1="154.17" x2="154.17" y1="406.3" y2="404.7" stroke="#222" stroke-width="0.9"/>
<line x1="164.64" x2="164.64" y1="406.3" y2="403.3" stroke="#222" stroke-width="0.9"/>
<text x="164.64" y="417.5" text-anchor="middle" class="tl">90</text>
<line x1="175.11" x2="175.11" y1="406.3" y2="404.7" stroke="#222" stroke-width="0.9"/>
<line x1="185.58" x2="185.58" y1="406.3" y2="403.3" stroke="#222" stroke-width="0.9"/>
<text x="185.58" y="417.5" text-anchor="middle" class="tl">105</text>
<line x1="196.05" x2="196.05" y1="406.3" y2="404.7" stroke="#222" stroke-width="0.9"/>
<line x1="206.52" x2="206.52" y1="406.3" y2="403.3" stroke="#222" stroke-width="0.9"/>
<text x="206.52" y="417.5" text-anchor="middle" class="tl">120</text>
<line x1="216.99" x2="216.99" y1="406.3" y2="404.7" stroke="#222" stroke-width="0.9"/>
<line x1="227.46" x2="227.46" y1="406.3" y2="403.3" stroke="#222" stroke-width="0.9"/>
<text x="227.46" y="417.5" text-anchor="middle" class="tl">135</text>
<line x1="237.93" x2="237.93" y1="406.3" y2="404.7" stroke="#222" stroke-width="0.9"/>
<line x1="248.40" x2="248.40" y1="406.3" y2="403.3" stroke="#222" stroke-width="0.9"/>
<text x="248.40" y="417.5" text-anchor="middle" class="tl">150</text>
<text transform="translate(9.6,318.7) rotate(-90)" text-anchor="middle" class="al" textLength="119.7" lengthAdjust="spacingAndGlyphs">Total Water Resistance（kN）</text>
<text x="144" y="433.5" text-anchor="middle" class="al">Time (s)</text>
<text x="128.3" y="452.5" text-anchor="middle" class="pl">(<tspan font-weight="bold">c</tspan>)</text>
<rect x="184.6" y="347.2" width="63.50" height="26.8" fill="none" stroke="#f02828" stroke-width="1.1" stroke-dasharray="4 2.5"/>
<line x1="170" y1="316" x2="202" y2="347.2" stroke="#999" stroke-width="0.6"/>
<path d="M168.4,314.6 L172.6,316.4 L170.2,318.6 Z" fill="#111"/>
<rect x="61.3" y="239.3" width="104.00" height="73.20" fill="#fff" stroke="#aaa" stroke-width="0.7"/>
<g clip-path="url(#iclip)">
<line x1="61.3" x2="165.3" y1="269.31" y2="269.31" stroke="#3cb46e" stroke-width="1.1" stroke-dasharray="3.5 1.5 1 1.5"/>
<polyline points="61.30,270.89 61.76,270.77 62.22,270.65 62.69,270.52 63.15,270.39 63.61,270.25 64.07,270.11 64.54,269.97 65.00,269.82 65.46,269.68 65.92,269.53 66.38,269.39 66.85,269.24 67.31,269.10 67.77,268.96 68.23,268.82 68.70,268.69 69.16,268.56 69.62,268.44 70.08,268.32 70.54,268.22 71.01,268.12 71.47,268.03 71.93,267.94 72.39,267.87 72.86,267.81 73.32,267.77 73.78,267.73 74.24,267.71 74.70,267.70 75.17,267.71 75.63,267.73 76.09,267.77 76.55,267.82 77.02,267.89 77.48,267.96 77.94,268.05 78.40,268.15 78.86,268.25 79.33,268.36 79.79,268.48 80.25,268.60 80.71,268.73 81.18,268.86 81.64,269.00 82.10,269.13 82.56,269.27 83.02,269.40 83.49,269.53 83.95,269.66 84.41,269.79 84.87,269.91 85.34,270.03 85.80,270.13 86.26,270.23 86.72,270.33 87.18,270.41 87.65,270.48 88.11,270.54 88.57,270.58 89.03,270.61 89.50,270.63 89.96,270.63 90.42,270.62 90.88,270.59 91.34,270.56 91.81,270.51 92.27,270.45 92.73,270.39 93.19,270.31 93.66,270.22 94.12,270.13 94.58,270.03 95.04,269.92 95.50,269.81 95.97,269.69 96.43,269.56 96.89,269.43 97.35,269.29 97.82,269.15 98.28,269.01 98.74,268.86 99.20,268.71 99.66,268.56 100.13,268.41 100.59,268.26 101.05,268.10 101.51,267.95 101.98,267.80 102.44,267.64 102.90,267.49 103.36,267.35 103.82,267.20 104.29,267.06 104.75,266.92 105.21,266.79 105.67,266.66 106.14,266.53 106.60,266.42 107.06,266.30 107.52,266.20 107.98,266.10 108.45,266.01 108.91,265.93 109.37,265.86 109.83,265.80 110.30,265.75 110.76,265.71 111.22,265.68 111.68,265.66 112.14,265.65 112.61,265.66 113.07,265.69 113.53,265.74 113.99,265.81 114.46,265.89 114.92,265.98 115.38,266.09 115.84,266.22 116.30,266.35 116.77,266.49 117.23,266.64 117.69,266.80 118.15,266.97 118.62,267.14 119.08,267.31 119.54,267.49 120.00,267.67 120.46,267.84 120.93,268.02 121.39,268.19 121.85,268.36 122.31,268.53 122.78,268.69 123.24,268.84 123.70,268.98 124.16,269.11 124.62,269.24 125.09,269.35 125.55,269.44 126.01,269.52 126.47,269.59 126.94,269.64 127.40,269.67 127.86,269.68 128.32,269.67 128.78,269.63 129.25,269.58 129.71,269.51 130.17,269.42 130.63,269.31 131.10,269.18 131.56,269.05 132.02,268.89 132.48,268.73 132.94,268.55 133.41,268.36 133.87,268.16 134.33,267.96 134.79,267.74 135.26,267.53 135.72,267.30 136.18,267.07 136.64,266.84 137.10,266.61 137.57,266.38 138.03,266.14 138.49,265.91 138.95,265.69 139.42,265.46 139.88,265.24 140.34,265.03 140.80,264.82 141.26,264.63 141.73,264.44 142.19,264.26 142.65,264.10 143.11,263.94 143.58,263.80 144.04,263.68 144.50,263.57 144.96,263.48 145.42,263.41 145.89,263.35 146.35,263.32 146.81,263.31 147.27,263.31 147.74,263.33 148.20,263.35 148.66,263.39 149.12,263.43 149.58,263.48 150.05,263.54 150.51,263.61 150.97,263.69 151.43,263.78 151.90,263.88 152.36,263.98 152.82,264.10 153.28,264.22 153.74,264.35 154.21,264.50 154.67,264.65 155.13,264.81 155.59,264.97 156.06,265.15 156.52,265.34 156.98,265.53 157.44,265.73 157.90,265.94 158.37,266.16 158.83,266.39 159.29,266.62 159.75,266.87 160.22,267.12 160.68,267.38 161.14,267.65 161.60,267.92 162.06,268.20 162.53,268.50 162.99,268.80 163.45,269.10 163.91,269.42 164.38,269.74 164.84,270.07 165.30,270.41" fill="none" stroke="#2b2b2b" stroke-width="1.1"/>
<polyline points="61.30,270.04 61.76,269.99 62.22,269.94 62.69,269.87 63.15,269.81 63.61,269.73 64.07,269.66 64.54,269.58 65.00,269.49 65.46,269.41 65.92,269.32 66.38,269.24 66.85,269.15 67.31,269.07 67.77,268.98 68.23,268.90 68.70,268.82 69.16,268.74 69.62,268.67 70.08,268.60 70.54,268.54 71.01,268.48 71.47,268.43 71.93,268.38 72.39,268.35 72.86,268.32 73.32,268.30 73.78,268.29 74.24,268.29 74.70,268.30 75.17,268.32 75.63,268.36 76.09,268.40 76.55,268.46 77.02,268.52 77.48,268.59 77.94,268.67 78.40,268.76 78.86,268.85 79.33,268.95 79.79,269.05 80.25,269.16 80.71,269.27 81.18,269.39 81.64,269.51 82.10,269.63 82.56,269.75 83.02,269.88 83.49,270.00 83.95,270.13 84.41,270.25 84.87,270.37 85.34,270.49 85.80,270.61 86.26,270.73 86.72,270.84 87.18,270.94 87.65,271.04 88.11,271.14 88.57,271.23 89.03,271.31 89.50,271.39 89.96,271.45 90.42,271.51 90.88,271.56 91.34,271.60 91.81,271.63 92.27,271.65 92.73,271.65 93.19,271.65 93.66,271.63 94.12,271.61 94.58,271.58 95.04,271.54 95.50,271.49 95.97,271.43 96.43,271.37 96.89,271.30 97.35,271.22 97.82,271.14 98.28,271.06 98.74,270.97 99.20,270.88 99.66,270.78 100.13,270.69 100.59,270.59 101.05,270.49 101.51,270.39 101.98,270.29 102.44,270.19 102.90,270.08 103.36,269.99 103.82,269.89 104.29,269.79 104.75,269.70 105.21,269.61 105.67,269.53 106.14,269.45 106.60,269.38 107.06,269.31 107.52,269.24 107.98,269.19 108.45,269.14 108.91,269.10 109.37,269.06 109.83,269.04 110.30,269.02 110.76,269.02 111.22,269.03 111.68,269.05 112.14,269.09 112.61,269.14 113.07,269.21 113.53,269.29 113.99,269.38 114.46,269.48 114.92,269.58 115.38,269.70 115.84,269.82 116.30,269.94 116.77,270.08 117.23,270.21 117.69,270.35 118.15,270.49 118.62,270.62 119.08,270.76 119.54,270.90 120.00,271.03 120.46,271.16 120.93,271.28 121.39,271.40 121.85,271.51 122.31,271.61 122.78,271.71 123.24,271.79 123.70,271.86 124.16,271.92 124.62,271.97 125.09,272.00 125.55,272.02 126.01,272.02 126.47,271.99 126.94,271.94 127.40,271.87 127.86,271.78 128.32,271.67 128.78,271.55 129.25,271.42 129.71,271.27 130.17,271.11 130.63,270.95 131.10,270.78 131.56,270.61 132.02,270.43 132.48,270.26 132.94,270.09 133.41,269.93 133.87,269.77 134.33,269.62 134.79,269.49 135.26,269.37 135.72,269.26 136.18,269.17 136.64,269.10 137.10,269.05 137.57,269.02 138.03,269.02 138.49,269.03 138.95,269.06 139.42,269.10 139.88,269.15 140.34,269.20 140.80,269.27 141.26,269.33 141.73,269.41 142.19,269.49 142.65,269.56 143.11,269.64 143.58,269.72 144.04,269.80 144.50,269.87 144.96,269.94 145.42,270.01 145.89,270.06 146.35,270.11 146.81,270.15 147.27,270.17 147.74,270.19 148.20,270.19 148.66,270.19 149.12,270.19 149.58,270.19 150.05,270.19 150.51,270.19 150.97,270.19 151.43,270.19 151.90,270.19 152.36,270.19 152.82,270.19 153.28,270.19 153.74,270.18 154.21,270.18 154.67,270.18 155.13,270.18 155.59,270.18 156.06,270.18 156.52,270.17 156.98,270.17 157.44,270.17 157.90,270.16 158.37,270.16 158.83,270.15 159.29,270.15 159.75,270.14 160.22,270.14 160.68,270.13 161.14,270.13 161.60,270.12 162.06,270.11 162.53,270.10 162.99,270.10 163.45,270.09 163.91,270.08 164.38,270.07 164.84,270.06 165.30,270.04" fill="none" stroke="#f03c3c" stroke-width="1.1"/>
<polyline points="61.30,274.22 61.76,274.17 62.22,274.10 62.69,274.02 63.15,273.91 63.61,273.79 64.07,273.65 64.54,273.50 65.00,273.34 65.46,273.16 65.92,272.98 66.38,272.80 66.85,272.60 67.31,272.41 67.77,272.21 68.23,272.02 68.70,271.82 69.16,271.63 69.62,271.45 70.08,271.27 70.54,271.10 71.01,270.95 71.47,270.80 71.93,270.67 72.39,270.55 72.86,270.45 73.32,270.37 73.78,270.31 74.24,270.28 74.70,270.26 75.17,270.27 75.63,270.30 76.09,270.35 76.55,270.41 77.02,270.49 77.48,270.58 77.94,270.69 78.40,270.81 78.86,270.94 79.33,271.09 79.79,271.24 80.25,271.40 80.71,271.58 81.18,271.76 81.64,271.94 82.10,272.13 82.56,272.33 83.02,272.52 83.49,272.73 83.95,272.93 84.41,273.13 84.87,273.34 85.34,273.54 85.80,273.74 86.26,273.94 86.72,274.13 87.18,274.32 87.65,274.50 88.11,274.67 88.57,274.84 89.03,275.00 89.50,275.15 89.96,275.29 90.42,275.41 90.88,275.53 91.34,275.63 91.81,275.72 92.27,275.79 92.73,275.84 93.19,275.88 93.66,275.90 94.12,275.90 94.58,275.87 95.04,275.82 95.50,275.75 95.97,275.66 96.43,275.55 96.89,275.42 97.35,275.28 97.82,275.12 98.28,274.95 98.74,274.76 99.20,274.57 99.66,274.36 100.13,274.15 100.59,273.94 101.05,273.71 101.51,273.49 101.98,273.26 102.44,273.04 102.90,272.82 103.36,272.59 103.82,272.38 104.29,272.17 104.75,271.96 105.21,271.77 105.67,271.58 106.14,271.41 106.60,271.25 107.06,271.11 107.52,270.98 107.98,270.87 108.45,270.78 108.91,270.71 109.37,270.66 109.83,270.63 110.30,270.63 110.76,270.65 111.22,270.69 111.68,270.75 112.14,270.83 112.61,270.92 113.07,271.03 113.53,271.15 113.99,271.29 114.46,271.43 114.92,271.59 115.38,271.76 115.84,271.94 116.30,272.12 116.77,272.31 117.23,272.50 117.69,272.70 118.15,272.91 118.62,273.11 119.08,273.32 119.54,273.52 120.00,273.72 120.46,273.93 120.93,274.12 121.39,274.32 121.85,274.50 122.31,274.68 122.78,274.86 123.24,275.02 123.70,275.17 124.16,275.31 124.62,275.44 125.09,275.56 125.55,275.66 126.01,275.74 126.47,275.81 126.94,275.86 127.40,275.89 127.86,275.90 128.32,275.89 128.78,275.87 129.25,275.82 129.71,275.77 130.17,275.70 130.63,275.62 131.10,275.52 131.56,275.41 132.02,275.30 132.48,275.17 132.94,275.03 133.41,274.89 133.87,274.74 134.33,274.58 134.79,274.42 135.26,274.25 135.72,274.08 136.18,273.91 136.64,273.73 137.10,273.56 137.57,273.38 138.03,273.21 138.49,273.03 138.95,272.86 139.42,272.70 139.88,272.54 140.34,272.38 140.80,272.23 141.26,272.08 141.73,271.95 142.19,271.82 142.65,271.70 143.11,271.60 143.58,271.50 144.04,271.42 144.50,271.35 144.96,271.29 145.42,271.25 145.89,271.22 146.35,271.22 146.81,271.22 147.27,271.22 147.74,271.22 148.20,271.22 148.66,271.22 149.12,271.23 149.58,271.23 150.05,271.24 150.51,271.25 150.97,271.26 151.43,271.27 151.90,271.28 152.36,271.29 152.82,271.31 153.28,271.33 153.74,271.35 154.21,271.38 154.67,271.40 155.13,271.43 155.59,271.46 156.06,271.50 156.52,271.54 156.98,271.58 157.44,271.63 157.90,271.67 158.37,271.73 158.83,271.78 159.29,271.84 159.75,271.91 160.22,271.98 160.68,272.05 161.14,272.13 161.60,272.21 162.06,272.29 162.53,272.39 162.99,272.48 163.45,272.58 163.91,272.69 164.38,272.80 164.84,272.92 165.30,273.05" fill="none" stroke="#2a7ae6" stroke-width="1.1"/>
</g>
<line x1="61.3" x2="62.5" y1="305.18" y2="305.18" stroke="#999" stroke-width="0.5"/>
<text x="59.8" y="306.93" text-anchor="end" class="ti">-400</text>
<line x1="61.3" x2="62.5" y1="290.54" y2="290.54" stroke="#999" stroke-width="0.5"/>
<text x="59.8" y="292.29" text-anchor="end" class="ti">-200</text>
<line x1="61.3" x2="62.5" y1="275.90" y2="275.90" stroke="#999" stroke-width="0.5"/>
<text x="59.8" y="277.65" text-anchor="end" class="ti">0</text>
<line x1="61.3" x2="62.5" y1="261.26" y2="261.26" stroke="#999" stroke-width="0.5"/>
<text x="59.8" y="263.01" text-anchor="end" class="ti">200</text>
<line x1="61.3" x2="62.5" y1="246.62" y2="246.62" stroke="#999" stroke-width="0.5"/>
<text x="59.8" y="248.37" text-anchor="end" class="ti">400</text>
<line x1="61.30" x2="61.30" y1="312.5" y2="311.3" stroke="#999" stroke-width="0.5"/>
<text x="61.30" y="317.8" text-anchor="middle" class="ti">105</text>
<line x1="95.97" x2="95.97" y1="312.5" y2="311.3" stroke="#999" stroke-width="0.5"/>
<text x="95.97" y="317.8" text-anchor="middle" class="ti">120</text>
<line x1="130.63" x2="130.63" y1="312.5" y2="311.3" stroke="#999" stroke-width="0.5"/>
<text x="130.63" y="317.8" text-anchor="middle" class="ti">135</text>
<line x1="165.30" x2="165.30" y1="312.5" y2="311.3" stroke="#999" stroke-width="0.5"/>
<text x="165.30" y="317.8" text-anchor="middle" class="ti">150</text>
<text transform="translate(49.3,275.9) rotate(-90)" text-anchor="middle" class="ti" textLength="59.8" lengthAdjust="spacingAndGlyphs">Total Water Resistance（kN）</text>
<text x="113.3" y="324.8" text-anchor="middle" class="ti">Time (s)</text>
<line x1="165.8" x2="187.3" y1="243.3" y2="243.3" stroke="#2b2b2b" stroke-width="1.7"/>
<text x="189.4" y="246.80" class="lg" textLength="51.1" lengthAdjust="spacingAndGlyphs">Coarse Mesh</text>
<line x1="165.8" x2="187.3" y1="255.1" y2="255.1" stroke="#f03c3c" stroke-width="1.7"/>
<text x="189.4" y="258.60" class="lg" textLength="57" lengthAdjust="spacingAndGlyphs">Medium Mesh</text>
<line x1="165.8" x2="187.3" y1="266.7" y2="266.7" stroke="#2a7ae6" stroke-width="1.7"/>
<text x="189.4" y="270.20" class="lg" textLength="41.6" lengthAdjust="spacingAndGlyphs">Fine Mesh</text>
<line x1="165.8" x2="187.3" y1="278.8" y2="278.8" stroke="#3cb46e" stroke-width="1.7" stroke-dasharray="5 2 1.5 2"/>
<text x="189.4" y="282.30" class="lg" textLength="58.3" lengthAdjust="spacingAndGlyphs">EXP_Reported</text>
</g>
<defs>
<clipPath id="dclip"><rect x="304.5" y="235.2" width="242.3" height="195.4"/></clipPath>
<filter id="streak" x="0" y="0" width="100%" height="100%"><feTurbulence type="fractalNoise" baseFrequency="0.03 0.6" numOctaves="2" seed="3" result="n"/><feTurbulence type="fractalNoise" baseFrequency="0.04 0.04" numOctaves="1" seed="5" result="w"/><feDisplacementMap in="n" in2="w" scale="10" xChannelSelector="R" yChannelSelector="G" result="d"/><feColorMatrix in="d" type="matrix" values="0 0 0 0 1  0 0 0 0 1  0 0 0 0 1  1.6 0 0 0 -0.75"/></filter>
<filter id="streakd" x="0" y="0" width="100%" height="100%"><feTurbulence type="fractalNoise" baseFrequency="0.035 0.55" numOctaves="2" seed="8" result="n"/><feTurbulence type="fractalNoise" baseFrequency="0.04 0.04" numOctaves="1" seed="5" result="w"/><feDisplacementMap in="n" in2="w" scale="10" xChannelSelector="R" yChannelSelector="G" result="d"/><feColorMatrix in="d" type="matrix" values="0 0 0 0 0  0 0 0 0 0  0 0 0 0 0.05  1.6 0 0 0 -0.75"/></filter>
<radialGradient id="vortex" cx="0.5" cy="0.5" r="0.5"><stop offset="0" stop-color="#31346a"/><stop offset="0.6" stop-color="#343a70"/><stop offset="1" stop-color="#343a70" stop-opacity="0"/></radialGradient>
<linearGradient id="wake" x1="0" y1="0" x2="0" y2="1"><stop offset="0" stop-color="#6a90a0"/><stop offset="0.05" stop-color="#a8b064"/><stop offset="0.1" stop-color="#b07848"/><stop offset="0.2" stop-color="#a0483e"/><stop offset="0.34" stop-color="#9a423a"/><stop offset="0.46" stop-color="#aa4c44"/><stop offset="0.56" stop-color="#b0684c"/><stop offset="0.66" stop-color="#a44a42"/><stop offset="0.84" stop-color="#9e443c"/><stop offset="0.92" stop-color="#b4844c"/><stop offset="0.96" stop-color="#a4b066"/><stop offset="1" stop-color="#5e8aa6"/></linearGradient>
<linearGradient id="wakeR" x1="0" y1="0" x2="1" y2="0"><stop offset="0" stop-color="#b8a050" stop-opacity="0"/><stop offset="0.6" stop-color="#b8a050" stop-opacity="0.5"/><stop offset="1" stop-color="#98b070" stop-opacity="0.8"/></linearGradient>
<linearGradient id="cbar" x1="0" y1="0" x2="1" y2="0"><stop offset="0" stop-color="#1c2378"/><stop offset="0.18" stop-color="#234a9c"/><stop offset="0.33" stop-color="#3a7cbc"/><stop offset="0.44" stop-color="#78b4d4"/><stop offset="0.51" stop-color="#b8d890"/><stop offset="0.57" stop-color="#f6f040"/><stop offset="0.68" stop-color="#f8c848"/><stop offset="0.8" stop-color="#f08a38"/><stop offset="0.92" stop-color="#d83c1c"/><stop offset="1" stop-color="#5a1808"/></linearGradient>
<radialGradient id="ring" cx="426" cy="357" r="24" gradientUnits="userSpaceOnUse"><stop offset="0" stop-color="#b04430"/><stop offset="0.2" stop-color="#c07c40"/><stop offset="0.36" stop-color="#c8b458"/><stop offset="0.5" stop-color="#8cb888"/><stop offset="0.68" stop-color="#4a80b0"/><stop offset="0.88" stop-color="#3a66a0"/><stop offset="1" stop-color="#34609a"/></radialGradient>
<linearGradient id="hull" x1="0" y1="235" x2="0" y2="383" gradientUnits="userSpaceOnUse"><stop offset="0" stop-color="#d42536"/><stop offset="0.45" stop-color="#cf2435"/><stop offset="0.62" stop-color="#c42132"/><stop offset="0.8" stop-color="#bd1f30"/><stop offset="0.93" stop-color="#c22131"/><stop offset="1" stop-color="#c8283a"/></linearGradient>
<linearGradient id="bg" x1="0" y1="235.2" x2="0" y2="300" gradientUnits="userSpaceOnUse"><stop offset="0" stop-color="#3b5f8c"/><stop offset="0.17" stop-color="#385888"/><stop offset="0.28" stop-color="#35477e"/><stop offset="0.4" stop-color="#343e72"/><stop offset="0.85" stop-color="#353f74"/><stop offset="1" stop-color="#384a84"/></linearGradient>
<linearGradient id="blockg" x1="0" y1="0" x2="1" y2="0"><stop offset="0" stop-color="#cc2430"/><stop offset="1" stop-color="#dc2638"/></linearGradient>
</defs>
<g id="pd" clip-path="url(#dclip)">
<rect x="304.5" y="235.2" width="242.3" height="195.4" fill="#3c6796"/>
<rect x="304.5" y="235.2" width="242.3" height="70" fill="url(#bg)"/>
<ellipse cx="335" cy="262" rx="48" ry="17" fill="url(#vortex)"/>
<g transform="rotate(-4 333 259)">
<ellipse cx="333.0" cy="260.0" rx="40" ry="13.5" fill="none" stroke="#56609a" stroke-width="1.1" opacity="0.35"/>
<ellipse cx="333.0" cy="260.0" rx="37" ry="12.4" fill="none" stroke="#262a5c" stroke-width="1.0" opacity="0.3"/>
<ellipse cx="332.6" cy="259.9" rx="34" ry="11.6" fill="none" stroke="#56609a" stroke-width="1.1" opacity="0.35"/>
<ellipse cx="332.6" cy="259.9" rx="31" ry="10.5" fill="none" stroke="#262a5c" stroke-width="1.0" opacity="0.3"/>
<ellipse cx="332.2" cy="259.8" rx="28" ry="9.7" fill="none" stroke="#56609a" stroke-width="1.1" opacity="0.35"/>
<ellipse cx="332.2" cy="259.8" rx="25" ry="8.6" fill="none" stroke="#262a5c" stroke-width="1.0" opacity="0.3"/>
<ellipse cx="331.8" cy="259.7" rx="22" ry="7.8" fill="none" stroke="#56609a" stroke-width="1.1" opacity="0.35"/>
<ellipse cx="331.8" cy="259.7" rx="19" ry="6.7" fill="none" stroke="#262a5c" stroke-width="1.0" opacity="0.3"/>
<ellipse cx="331.4" cy="259.6" rx="16.5" ry="5.9" fill="none" stroke="#56609a" stroke-width="1.1" opacity="0.35"/>
<ellipse cx="331.4" cy="259.6" rx="13.5" ry="4.8" fill="none" stroke="#262a5c" stroke-width="1.0" opacity="0.3"/>
<ellipse cx="331.0" cy="259.5" rx="11" ry="4" fill="none" stroke="#56609a" stroke-width="1.1" opacity="0.35"/>
<ellipse cx="331.0" cy="259.5" rx="8" ry="2.9" fill="none" stroke="#262a5c" stroke-width="1.0" opacity="0.3"/>
<ellipse cx="330.6" cy="259.4" rx="6" ry="2.2" fill="none" stroke="#56609a" stroke-width="1.1" opacity="0.35"/>
<ellipse cx="330.6" cy="259.4" rx="3" ry="1.1" fill="none" stroke="#262a5c" stroke-width="1.0" opacity="0.3"/>
</g>
<rect x="304.5" y="235.2" width="242.3" height="195.4" filter="url(#streak)" opacity="0.22"/>
<rect x="304.5" y="235.2" width="242.3" height="195.4" filter="url(#streakd)" opacity="0.25"/>
<path d="M304.5,340.5 L387,342 L387,382 L304.5,388 Z" fill="url(#wake)"/>
<path d="M375,342 L387,342 L387,382 L375,382.8 Z" fill="url(#wakeR)"/>
<rect x="304.5" y="338" width="80" height="52" filter="url(#streakd)" opacity="0.25"/>
<path d="M383.2,235.2 L546.8,235.2 L546.8,382.5 L515,382 L495,381.2 L478,379.5 L462,376 L450,372 L441,366 L440,352 L432,333 L420,330.5 L400,325 L383.2,317 Z" fill="url(#hull)"/>
<path d="M383.2,235.2 L546.8,235.2 L546.8,300 L383.2,300 Z" fill="#d22434"/>
<radialGradient id="ringU" cx="424" cy="349" r="24" gradientUnits="userSpaceOnUse"><stop offset="0" stop-color="#b84a30"/><stop offset="0.2" stop-color="#c8843e"/><stop offset="0.34" stop-color="#cdbf5a"/><stop offset="0.48" stop-color="#86b88c"/><stop offset="0.64" stop-color="#4d84b4"/><stop offset="0.85" stop-color="#3b68a2"/><stop offset="1" stop-color="#34609a"/></radialGradient>
<radialGradient id="ringL" cx="424" cy="372" r="18" gradientUnits="userSpaceOnUse"><stop offset="0" stop-color="#a85038"/><stop offset="0.35" stop-color="#b87444"/><stop offset="0.55" stop-color="#c8b058"/><stop offset="0.72" stop-color="#8cb888"/><stop offset="0.88" stop-color="#4d84b4"/><stop offset="1" stop-color="#3a68a0"/></radialGradient>
<path d="M420.5,384 L420.5,358 C428,357 436,358 439,363 C443,369 442,378 438,385 Z" fill="url(#ringL)"/>
<path d="M421,331.5 C437,330 448,337 448,346 C448,354 442,359 434,360.5 L421,360.5 Z" fill="url(#ringU)"/>
<clipPath id="ringclip"><path d="M421,331.5 C437,330 448,337 448,346 C448,354 442,359 434,360.5 L421,360.5 Z"/></clipPath>
<g clip-path="url(#ringclip)">
<line x1="424.5" y1="343.0" x2="426.3" y2="323.1" stroke="#cfe0e8" stroke-width="0.45" opacity="0.3"/>
<line x1="425.3" y1="343.1" x2="429.7" y2="323.6" stroke="#cfe0e8" stroke-width="0.45" opacity="0.3"/>
<line x1="426.1" y1="343.4" x2="433.1" y2="324.6" stroke="#cfe0e8" stroke-width="0.45" opacity="0.3"/>
<line x1="426.8" y1="343.7" x2="436.3" y2="326.1" stroke="#cfe0e8" stroke-width="0.45" opacity="0.3"/>
<line x1="427.5" y1="344.1" x2="439.2" y2="327.9" stroke="#cfe0e8" stroke-width="0.45" opacity="0.3"/>
<line x1="428.1" y1="344.7" x2="441.9" y2="330.2" stroke="#cfe0e8" stroke-width="0.45" opacity="0.3"/>
<line x1="428.7" y1="345.3" x2="444.3" y2="332.8" stroke="#cfe0e8" stroke-width="0.45" opacity="0.3"/>
<line x1="429.1" y1="345.9" x2="446.3" y2="335.6" stroke="#cfe0e8" stroke-width="0.45" opacity="0.3"/>
<line x1="429.5" y1="346.6" x2="447.9" y2="338.8" stroke="#cfe0e8" stroke-width="0.45" opacity="0.3"/>
<line x1="429.8" y1="347.4" x2="449.1" y2="342.1" stroke="#cfe0e8" stroke-width="0.45" opacity="0.3"/>
<line x1="429.9" y1="348.2" x2="449.8" y2="345.5" stroke="#cfe0e8" stroke-width="0.45" opacity="0.3"/>
<line x1="430.0" y1="349.0" x2="450.0" y2="349.0" stroke="#cfe0e8" stroke-width="0.45" opacity="0.3"/>
<line x1="429.9" y1="349.8" x2="449.8" y2="352.5" stroke="#cfe0e8" stroke-width="0.45" opacity="0.3"/>
<line x1="429.8" y1="350.6" x2="449.1" y2="355.9" stroke="#cfe0e8" stroke-width="0.45" opacity="0.3"/>
<line x1="429.5" y1="351.4" x2="447.9" y2="359.2" stroke="#cfe0e8" stroke-width="0.45" opacity="0.3"/>
<line x1="429.1" y1="352.1" x2="446.3" y2="362.4" stroke="#cfe0e8" stroke-width="0.45" opacity="0.3"/>
<line x1="428.7" y1="352.7" x2="444.3" y2="365.2" stroke="#cfe0e8" stroke-width="0.45" opacity="0.3"/>
<line x1="428.1" y1="353.3" x2="441.9" y2="367.8" stroke="#cfe0e8" stroke-width="0.45" opacity="0.3"/>
<line x1="427.5" y1="353.9" x2="439.2" y2="370.1" stroke="#cfe0e8" stroke-width="0.45" opacity="0.3"/>
<line x1="426.8" y1="354.3" x2="436.3" y2="371.9" stroke="#cfe0e8" stroke-width="0.45" opacity="0.3"/>
<line x1="426.1" y1="354.6" x2="433.1" y2="373.4" stroke="#cfe0e8" stroke-width="0.45" opacity="0.3"/>
<line x1="425.3" y1="354.9" x2="429.7" y2="374.4" stroke="#cfe0e8" stroke-width="0.45" opacity="0.3"/>
<line x1="424.5" y1="355.0" x2="426.3" y2="374.9" stroke="#cfe0e8" stroke-width="0.45" opacity="0.3"/>
</g>
<path d="M420.5,359 L434.5,359 L434.5,366 L420.5,366 Z" fill="#3a68a0" opacity="0.55"/>
<path d="M427.5,342 C429.5,347 432.5,352 432.8,360 C432.8,366 431.8,371 430.8,376 L428.6,376 C427.6,366 427,352 427.5,342 Z" fill="#7a0e12"/>
<path d="M425,359.5 L434.5,359.5 L434.5,366 L425,366 Z" fill="#cc2026" opacity="0.85"/>
<defs><filter id="blur2" x="-50%" y="-50%" width="200%" height="200%"><feGaussianBlur stdDeviation="2"/></filter></defs>
<ellipse cx="458" cy="359" rx="18" ry="3.5" fill="#e8404e" opacity="0.6" filter="url(#blur2)"/>
<path d="M386,334.2 L422.6,333.6 C421.8,350 421,366 419.8,381.6 L383.4,382.2 C384.2,366 385,350 386,334.2 Z" fill="url(#blockg)"/>
<polygon points="304.5,300 320,299 335,299.5 350,298 365,299 383,298 400,297 420,297.5 440,298 460,298.5 480,298.5 500,298.5 520,298.5 546.8,298.5 546.8,316 530,317 510,317 490,316 470,315 450,316 430,318 410,319 395,318 383,316 365,316 350,317 335,318 320,315 304.5,314" fill="#cfcfcf"/>
<polygon points="296.7,295.8 309.4,302.3 308.3,299.1 295.6,292.7" fill="rgb(177,177,177)"/>
<polygon points="290.2,308.5 296.7,295.8 295.6,292.7 289.1,305.4" fill="rgb(189,189,189)"/>
<polygon points="296.7,295.8 309.4,302.3 302.9,315.0 290.2,308.5" fill="rgb(242,242,242)"/>
<polygon points="313.0,296.1 324.5,304.6 322.4,300.4 310.8,292.0" fill="rgb(166,166,166)"/>
<polygon points="304.5,307.6 313.0,296.1 310.8,292.0 302.4,303.5" fill="rgb(196,196,196)"/>
<polygon points="313.0,296.1 324.5,304.6 316.1,316.1 304.5,307.6" fill="rgb(250,250,250)"/>
<polygon points="325.4,298.3 341.3,299.1 337.3,296.1 321.3,295.3" fill="rgb(199,199,199)"/>
<polygon points="324.6,314.2 325.4,298.3 321.3,295.3 320.6,311.3" fill="rgb(161,161,161)"/>
<polygon points="325.4,298.3 341.3,299.1 340.5,315.0 324.6,314.2" fill="rgb(236,236,236)"/>
<polygon points="340.8,301.4 353.9,296.2 356.2,293.6 343.0,298.8" fill="rgb(207,207,207)"/>
<polygon points="353.9,296.2 359.1,309.4 361.3,306.8 356.2,293.6" fill="rgb(125,125,125)"/>
<polygon points="340.8,301.4 353.9,296.2 359.1,309.4 345.9,314.6" fill="rgb(246,246,246)"/>
<polygon points="355.2,303.1 368.0,299.5 364.5,296.2 351.7,299.8" fill="rgb(207,207,207)"/>
<polygon points="358.8,315.9 355.2,303.1 351.7,299.8 355.2,312.6" fill="rgb(136,136,136)"/>
<polygon points="355.2,303.1 368.0,299.5 371.5,312.3 358.8,315.9" fill="rgb(236,236,236)"/>
<polygon points="371.9,296.2 387.7,299.0 382.3,297.3 366.5,294.6" fill="rgb(194,194,194)"/>
<polygon points="369.2,312.0 371.9,296.2 366.5,294.6 363.8,310.3" fill="rgb(170,170,170)"/>
<polygon points="371.9,296.2 387.7,299.0 385.0,314.7 369.2,312.0" fill="rgb(236,236,236)"/>
<polygon points="383.6,302.8 395.3,297.5 397.4,295.2 385.7,300.5" fill="rgb(207,207,207)"/>
<polygon points="395.3,297.5 400.6,309.1 402.7,306.9 397.4,295.2" fill="rgb(126,126,126)"/>
<polygon points="383.6,302.8 395.3,297.5 400.6,309.1 388.9,314.4" fill="rgb(236,236,236)"/>
<polygon points="401.3,297.2 416.4,301.4 413.1,300.2 398.1,295.9" fill="rgb(189,189,189)"/>
<polygon points="397.1,312.2 401.3,297.2 398.1,295.9 393.8,311.0" fill="rgb(177,177,177)"/>
<polygon points="401.3,297.2 416.4,301.4 412.2,316.4 397.1,312.2" fill="rgb(236,236,236)"/>
<polygon points="415.3,300.1 430.6,297.6 429.0,292.1 413.7,294.6" fill="rgb(205,205,205)"/>
<polygon points="417.9,315.4 415.3,300.1 413.7,294.6 416.3,309.9" fill="rgb(145,145,145)"/>
<polygon points="415.3,300.1 430.6,297.6 433.2,312.8 417.9,315.4" fill="rgb(242,242,242)"/>
<polygon points="433.1,301.5 445.7,300.4 443.9,296.5 431.3,297.6" fill="rgb(203,203,203)"/>
<polygon points="434.2,314.1 433.1,301.5 431.3,297.6 432.4,310.2" fill="rgb(151,151,151)"/>
<polygon points="433.1,301.5 445.7,300.4 446.8,313.0 434.2,314.1" fill="rgb(246,246,246)"/>
<polygon points="455.5,296.6 468.4,304.6 470.2,300.5 457.2,292.5" fill="rgb(172,172,172)"/>
<polygon points="447.5,309.6 455.5,296.6 457.2,292.5 449.3,305.5" fill="rgb(193,193,193)"/>
<polygon points="455.5,296.6 468.4,304.6 460.5,317.6 447.5,309.6" fill="rgb(242,242,242)"/>
<polygon points="468.5,295.9 480.9,301.9 477.5,300.0 465.1,294.0" fill="rgb(179,179,179)"/>
<polygon points="462.5,308.3 468.5,295.9 465.1,294.0 459.2,306.4" fill="rgb(187,187,187)"/>
<polygon points="468.5,295.9 480.9,301.9 474.9,314.3 462.5,308.3" fill="rgb(236,236,236)"/>
<polygon points="482.7,303.3 494.8,298.4 496.2,295.8 484.1,300.7" fill="rgb(207,207,207)"/>
<polygon points="494.8,298.4 499.6,310.6 501.0,308.0 496.2,295.8" fill="rgb(125,125,125)"/>
<polygon points="482.7,303.3 494.8,298.4 499.6,310.6 487.5,315.4" fill="rgb(236,236,236)"/>
<polygon points="496.5,301.4 510.5,296.6 506.3,293.2 492.3,298.0" fill="rgb(207,207,207)"/>
<polygon points="501.4,315.4 496.5,301.4 492.3,298.0 497.1,312.0" fill="rgb(131,131,131)"/>
<polygon points="496.5,301.4 510.5,296.6 515.3,310.5 501.4,315.4" fill="rgb(250,250,250)"/>
<polygon points="523.2,295.6 532.8,308.2 530.4,303.5 520.8,290.9" fill="rgb(144,144,144)"/>
<polygon points="510.5,305.2 523.2,295.6 520.8,290.9 508.2,300.5" fill="rgb(205,205,205)"/>
<polygon points="523.2,295.6 532.8,308.2 520.2,317.8 510.5,305.2" fill="rgb(242,242,242)"/>
<polygon points="536.4,296.9 545.0,309.3 543.2,305.8 534.6,293.5" fill="rgb(141,141,141)"/>
<polygon points="524.1,305.6 536.4,296.9 534.6,293.5 522.3,302.1" fill="rgb(206,206,206)"/>
<polygon points="536.4,296.9 545.0,309.3 532.7,317.9 524.1,305.6" fill="rgb(250,250,250)"/>
<polygon points="551.4,297.0 560.2,307.1 558.0,304.2 549.1,294.0" fill="rgb(149,149,149)"/>
<polygon points="541.2,305.8 551.4,297.0 549.1,294.0 538.9,302.9" fill="rgb(204,204,204)"/>
<polygon points="551.4,297.0 560.2,307.1 550.1,316.0 541.2,305.8" fill="rgb(228,228,228)"/>
<polygon points="302.4,303.6 312.0,313.4 311.1,310.3 301.5,300.5" fill="rgb(154,154,154)"/>
<polygon points="292.6,313.1 302.4,303.6 301.5,300.5 291.7,310.0" fill="rgb(202,202,202)"/>
<polygon points="302.4,303.6 312.0,313.4 302.2,322.9 292.6,313.1" fill="rgb(236,236,236)"/>
<polygon points="322.0,303.4 329.0,313.8 332.9,312.2 326.0,301.9" fill="rgb(140,140,140)"/>
<polygon points="329.0,313.8 318.7,320.7 322.6,319.2 332.9,312.2" fill="rgb(125,125,125)"/>
<polygon points="322.0,303.4 329.0,313.8 318.7,320.7 311.7,310.4" fill="rgb(250,250,250)"/>
<polygon points="332.6,305.9 345.0,310.2 348.5,308.2 336.1,303.8" fill="rgb(185,185,185)"/>
<polygon points="345.0,310.2 340.6,322.6 344.1,320.6 348.5,308.2" fill="rgb(125,125,125)"/>
<polygon points="332.6,305.9 345.0,310.2 340.6,322.6 328.2,318.3" fill="rgb(246,246,246)"/>
<polygon points="351.9,305.3 358.5,315.5 361.8,313.9 355.2,303.6" fill="rgb(138,138,138)"/>
<polygon points="358.5,315.5 348.3,322.1 351.6,320.5 361.8,313.9" fill="rgb(125,125,125)"/>
<polygon points="351.9,305.3 358.5,315.5 348.3,322.1 341.7,311.9" fill="rgb(242,242,242)"/>
<polygon points="370.3,304.4 379.2,312.9 378.0,310.1 369.1,301.7" fill="rgb(157,157,157)"/>
<polygon points="361.9,313.4 370.3,304.4 369.1,301.7 360.7,310.7" fill="rgb(201,201,201)"/>
<polygon points="370.3,304.4 379.2,312.9 370.8,321.8 361.9,313.4" fill="rgb(228,228,228)"/>
<polygon points="379.3,306.8 392.8,306.9 394.1,304.2 380.6,304.1" fill="rgb(200,200,200)"/>
<polygon points="392.8,306.9 392.6,320.4 393.9,317.7 394.1,304.2" fill="rgb(125,125,125)"/>
<polygon points="379.3,306.8 392.8,306.9 392.6,320.4 379.2,320.3" fill="rgb(228,228,228)"/>
<polygon points="395.6,307.6 409.7,302.6 405.3,300.3 391.2,305.3" fill="rgb(207,207,207)"/>
<polygon points="400.6,321.7 395.6,307.6 391.2,305.3 396.2,319.4" fill="rgb(130,130,130)"/>
<polygon points="395.6,307.6 409.7,302.6 414.7,316.7 400.6,321.7" fill="rgb(250,250,250)"/>
<polygon points="418.6,302.5 429.4,312.3 426.6,307.6 415.8,297.7" fill="rgb(158,158,158)"/>
<polygon points="408.8,313.2 418.6,302.5 415.8,297.7 406.0,308.5" fill="rgb(200,200,200)"/>
<polygon points="418.6,302.5 429.4,312.3 419.5,323.1 408.8,313.2" fill="rgb(228,228,228)"/>
<polygon points="426.9,309.1 438.8,306.1 436.8,302.7 425.0,305.8" fill="rgb(206,206,206)"/>
<polygon points="430.0,321.0 426.9,309.1 425.0,305.8 428.0,317.6" fill="rgb(138,138,138)"/>
<polygon points="426.9,309.1 438.8,306.1 441.8,317.9 430.0,321.0" fill="rgb(250,250,250)"/>
<polygon points="449.0,303.1 460.2,312.4 464.2,311.0 452.9,301.7" fill="rgb(162,162,162)"/>
<polygon points="460.2,312.4 450.9,323.7 454.8,322.3 464.2,311.0" fill="rgb(125,125,125)"/>
<polygon points="449.0,303.1 460.2,312.4 450.9,323.7 439.6,314.3" fill="rgb(228,228,228)"/>
<polygon points="468.6,305.2 475.3,315.5 477.3,313.3 470.6,303.1" fill="rgb(138,138,138)"/>
<polygon points="458.4,311.9 468.6,305.2 470.6,303.1 460.3,309.8" fill="rgb(206,206,206)"/>
<polygon points="468.6,305.2 475.3,315.5 465.1,322.2 458.4,311.9" fill="rgb(236,236,236)"/>
<polygon points="485.2,324.6 474.7,315.7 470.8,313.2 481.3,322.1" fill="rgb(125,125,125)"/>
<polygon points="474.7,315.7 483.5,305.2 479.6,302.7 470.8,313.2" fill="rgb(199,199,199)"/>
<polygon points="483.5,305.2 494.1,314.1 485.2,324.6 474.7,315.7" fill="rgb(250,250,250)"/>
<polygon points="491.9,306.0 506.8,305.8 505.4,301.6 490.5,301.8" fill="rgb(201,201,201)"/>
<polygon points="492.1,320.9 491.9,306.0 490.5,301.8 490.6,316.7" fill="rgb(157,157,157)"/>
<polygon points="491.9,306.0 506.8,305.8 507.0,320.7 492.1,320.9" fill="rgb(246,246,246)"/>
<polygon points="507.9,310.5 519.9,305.1 517.4,302.0 505.3,307.4" fill="rgb(207,207,207)"/>
<polygon points="513.3,322.5 507.9,310.5 505.3,307.4 510.7,319.4" fill="rgb(125,125,125)"/>
<polygon points="507.9,310.5 519.9,305.1 525.3,317.1 513.3,322.5" fill="rgb(242,242,242)"/>
<polygon points="525.3,308.3 538.7,307.1 534.2,305.7 520.9,306.9" fill="rgb(203,203,203)"/>
<polygon points="526.6,321.7 525.3,308.3 520.9,306.9 522.1,320.3" fill="rgb(151,151,151)"/>
<polygon points="525.3,308.3 538.7,307.1 539.9,320.5 526.6,321.7" fill="rgb(228,228,228)"/>
<polygon points="540.0,307.2 554.1,305.5 555.4,302.7 541.3,304.4" fill="rgb(204,204,204)"/>
<polygon points="554.1,305.5 555.8,319.6 557.1,316.7 555.4,302.7" fill="rgb(125,125,125)"/>
<polygon points="540.0,307.2 554.1,305.5 555.8,319.6 541.7,321.3" fill="rgb(228,228,228)"/>
<rect x="385.2" y="239.7" width="160.2" height="27.8" fill="#fff"/>
<text x="440.5" y="246.3" class="vt" textLength="51" lengthAdjust="spacingAndGlyphs">Velocity (m/s)</text>
<text x="386.6" y="253.7" class="vn" textLength="157.5" lengthAdjust="spacingAndGlyphs">0.0000 1.8000 3.6000 5.4000 7.2000 9.0000</text>
<rect x="399" y="257.3" width="134" height="8.7" fill="url(#cbar)"/>
</g>
<text x="426.2" y="452.5" text-anchor="middle" class="pl">(<tspan font-weight="bold">d</tspan>)</text>
</svg></body></html>
